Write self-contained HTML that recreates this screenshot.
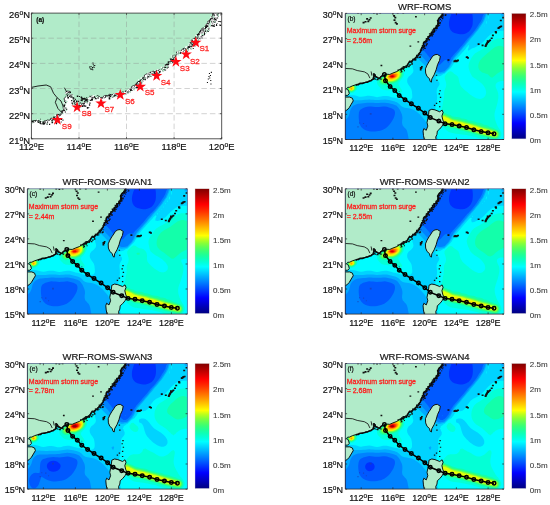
<!DOCTYPE html>
<html lang="en"><head><meta charset="utf-8"><title>Storm surge comparison</title>
<style>html,body{margin:0;padding:0;background:#fff}body{width:550px;height:505px;overflow:hidden}svg{display:block}text{stroke:#111;stroke-width:.2px}text.r{stroke:#ff2020;stroke-width:.28px}text.g{stroke:#3c3c3c;stroke-width:.1px}</style></head>
<body>
<svg width="550" height="505" viewBox="0 0 550 505" font-family='"Liberation Sans", Arial, Helvetica, sans-serif' fill="#111">
<rect width="550" height="505" fill="#fff"/>
<defs>
<linearGradient id="jet" x1="0" y1="1" x2="0" y2="0">
<stop offset="0.0000" stop-color="#000080"/>
<stop offset="0.0312" stop-color="#00009f"/>
<stop offset="0.0625" stop-color="#0000bf"/>
<stop offset="0.0938" stop-color="#0000df"/>
<stop offset="0.1250" stop-color="#0000ff"/>
<stop offset="0.1562" stop-color="#0020ff"/>
<stop offset="0.1875" stop-color="#0040ff"/>
<stop offset="0.2188" stop-color="#0060ff"/>
<stop offset="0.2500" stop-color="#0080ff"/>
<stop offset="0.2812" stop-color="#009fff"/>
<stop offset="0.3125" stop-color="#00bfff"/>
<stop offset="0.3438" stop-color="#00dfff"/>
<stop offset="0.3750" stop-color="#00ffff"/>
<stop offset="0.4062" stop-color="#03ffdc"/>
<stop offset="0.4375" stop-color="#0cffba"/>
<stop offset="0.4688" stop-color="#1dff98"/>
<stop offset="0.5000" stop-color="#37ff77"/>
<stop offset="0.5312" stop-color="#5bff57"/>
<stop offset="0.5625" stop-color="#87ff37"/>
<stop offset="0.5938" stop-color="#beff1a"/>
<stop offset="0.6250" stop-color="#ffff00"/>
<stop offset="0.6562" stop-color="#ffdc00"/>
<stop offset="0.6875" stop-color="#ffba00"/>
<stop offset="0.7188" stop-color="#ff9800"/>
<stop offset="0.7500" stop-color="#ff7700"/>
<stop offset="0.7812" stop-color="#ff5700"/>
<stop offset="0.8125" stop-color="#ff3700"/>
<stop offset="0.8438" stop-color="#ff1a00"/>
<stop offset="0.8750" stop-color="#ff0000"/>
<stop offset="0.9062" stop-color="#df0000"/>
<stop offset="0.9375" stop-color="#bf0000"/>
<stop offset="0.9688" stop-color="#9f0000"/>
<stop offset="1.0000" stop-color="#800000"/>
</linearGradient>
<clipPath id="cl"><rect x="0" y="0" width="160" height="126"/></clipPath>
<g id="land"><path d="M-8 82.3l8 -0.4l2.4 0l1.6 -1.7l-0.6 -2.5l-1 -1.7l-1.2 -0.8l1.2 -1.3l2 -0.1l2.8 -1.4l3.2 -1l4 -1l4 -1l4 -1l3.2 -1.4l2.4 -1.5l0.4 -2.5l0.4 -2.5l1.2 0.4l0.8 2.1l1.2 1l2.4 0.7l1.2 -1.7l2 -0.8l2 -1l2.4 -0.4l2.8 0.2l3.2 -1.4l4 -1.5l2.8 -2.1l4.2 -2.2l3.4 -2.4l2.8 -3.1l3.6 -2.1l2.4 -2.4l2 -2.5l2.4 -2.5l1.6 -3.5l1.2 -3.4l1.6 -3.3l2.4 -2.7l2.2 -3.4l2.3 -3.5l3 -3.5l2.7 -3.5l1 -4.4l1.6 -3.4l2 -2.9l1.2 -2.1l0 -7.6l-106.4 0zM-8 83.6l8 0l4.4 0l2.8 1.2l0.8 2.6l-2 3.3l-2 3.4l-2.4 2.5l-1.6 0.8l-8 1.7zM92.8 41l3 1.8l-0.8 4.2l-2 4.2l-1.4 5.1l-2 5l-2.4 4.2l-0.4 3.2l-1.2 -0.7l-0.8 -2.9l-2.4 -2.1l-1.4 -3.4l-0.2 -4.2l1.6 -3.7l2 -3.4l2 -2.9l1.6 -2.6l2.4 -1.5zM84.4 97l2.8 -1.2l3.2 0.6l4.8 1.9l2.4 -1.7l1 2.5l-1.2 3.4l1 4.2l1.2 2.1l-2 3.8l-2.4 2.9l-2.4 2.1l-0.4 3.4l-1.2 2.5l0.8 6.7l-12 0l-0.4 -4.2l-0.8 -4.2l-0.4 -4.2l0.8 -2.5l2.4 1.7l1.6 -4.2l-0.8 -3.4l0.8 -4.2l0.8 -4.2z" fill="#b1ebc9" stroke="#080808" stroke-width="0.95" stroke-linejoin="round"/>
<path d="M54.7 55.9l1.8 0.8l0.3 -2l1.9 1l0.6 -1.5l1.3 -0.6l1.3 -0.4l0.9 -1.4l0.5 -1.4l0.8 -1.3l0.8 -1.3l2 0.8l0.9 -1.4l0.8 -1.3l1.9 0.6l-0.1 -1.9l1 -0.6l0.5 -1l1.2 -0.3l0.6 -0.9l0.8 -0.8l0.2 -1.4l0.9 -0.8l0.4 -1.2l0.7 -1.1l0.1 -1.4l0.5 -1.1l2.2 -0.4l0.3 -0.9l-1.1 -2l0.2 -1.3l0.9 -1l1.7 0l0.9 -0.8l-0.5 -2.1l1.8 -0.3l-0.4 -2l1.8 -0.4l1 -1l1.4 -0.7l-0.7 -2.2l1.7 0.1l0.9 -0.8l0.9 -0.7l-0.9 -2.4l1.5 -0.2l1.7 0l-0.5 -1.8l1.7 -0.8l-0.3 -1.3l0.7 -1l-0.4 -1.2l-0.8 -1.5l0.7 -1.1l0.6 -1.1l0.8 -1l2.1 0.1l0 -1.5l1.1 -0.8l0 -1.3l0.1 -1.4M10.5 72l1.2 -0.9l1.5 0.1l1.1 -1.1l1.4 -0.2l1.4 0.1l1.4 -0.4l1.3 -0.4l1.3 -0.5l1.4 0l1.5 -0.9l1.8 -0.4l1.1 -0.9l1.4 -0.9l0.2 -1.3l0.6 -1.2l0 -1.3l-0.3 -1.2l0.7 0.5l1 2.3l1.6 0.4l1 1l1.7 0.2l1 -1.6l1.8 -1.2" fill="none" stroke="#0a0a0a" stroke-width="1.5" stroke-linejoin="round"/>
<path d="M0 55l7.2 0.4l4.8 1.7l7.2 1.3l3.6 2.1l2 4.2M26 58l0.8 4.2" fill="none" stroke="#111" stroke-width="0.85"/>
<path d="M21 4.7h2v1.6h-2zM23.4 5.5h2v1.6h-2zM22.2 7.2h2v1.6h-2zM19.4 7.6h2v1.6h-2zM17.4 8.4h2v1.6h-2zM24.6 3.8h2v1.6h-2zM49.4 3.4h2v1.6h-2zM48.6 5.9h2v1.6h-2zM49.8 8.4h2v1.6h-2zM51 9.7h2v1.6h-2zM48.2 1.7h2v1.6h-2zM75.1 53.6h2.5v2h-2.5zM70.3 2.6h1.8v1.4h-1.8zM35.5 51.4h1.8v1.4h-1.8zM75.1 55.6h1.8v1.4h-1.8zM76.3 52.6h1.8v1.4h-1.8zM27.9 -0.7h1.8v1.4h-1.8zM31.1 -0.3h1.8v1.4h-1.8zM34.3 -0.7h1.8v1.4h-1.8zM47.1 -0.7h1.8v1.4h-1.8zM51.9 -0.7h1.8v1.4h-1.8zM11.9 -0.7h1.8v1.4h-1.8zM57.5 -0.7h1.8v1.4h-1.8zM72.7 27.8h1.8v1.4h-1.8zM64.7 32h1.8v1.4h-1.8zM103 45.8h2v1.6h-2zM109.4 46.7h2v1.6h-2zM112.6 46.1h2v1.6h-2zM111 47.1h2v1.6h-2zM121.4 43h2v1.6h-2zM122.6 43.6h2v1.6h-2zM133.4 29.9h2v1.6h-2zM140.6 31.5h2v1.6h-2zM141.4 29.9h2v1.6h-2zM142.2 28.6h2v1.6h-2zM143.4 27.3h2v1.6h-2zM145 26.1h2v1.6h-2zM142.6 26.9h2v1.6h-2zM146.6 24h2v1.6h-2zM147.8 21.2h2v1.6h-2zM150.6 17.8h2v1.6h-2zM151 18.5h2v1.6h-2zM153.4 13.9h2v1.6h-2zM154.6 13.1h2v1.6h-2zM156.2 12.2h2v1.6h-2zM158.2 3.4h2v1.6h-2zM155.8 6.3h2v1.6h-2zM137.4 31.1h2v1.6h-2zM141 30.7h2v1.6h-2zM141.8 29.3h2v1.6h-2zM143 27.9h2v1.6h-2zM144.2 26.8h2v1.6h-2zM140.4 32h2v1.6h-2zM154 13.5h2v1.6h-2zM155.2 12.6h2v1.6h-2zM110.2 46.4h2v1.6h-2zM111.8 46.6h2v1.6h-2zM109 47.1h2v1.6h-2zM121.8 42.9h2v1.6h-2zM150.8 17.5h2v1.6h-2zM94.9 76.7h1.4v1.2h-1.4zM94.1 79.9h1.4v1.2h-1.4zM94.5 87.5h1.4v1.2h-1.4zM91.3 89.3h1.4v1.2h-1.4zM89.3 91.4h1.4v1.2h-1.4zM94.5 92.7h1.4v1.2h-1.4zM91.7 66.2h1.4v1.2h-1.4zM91.3 61.2h1.4v1.2h-1.4zM95.3 83.4h1.4v1.2h-1.4zM29.4 65.1h1.5v1.2h-1.5zM29 62.9h0.9v0.7h-0.9zM28.2 64.4h1.6v1.3h-1.6zM27.7 60h1.7v1.4h-1.7zM29.2 62.8h1v0.8h-1zM27.9 62.3h1.3v1h-1.3zM29.3 61.4h1.6v1.3h-1.6zM30.6 63.2h1.2v0.9h-1.2zM31.8 65.5h1.7v1.4h-1.7zM31.3 65.7h1.2v1h-1.2zM32.9 65.1h0.8v0.6h-0.8zM35.2 65.1h1.5v1.2h-1.5zM55.6 58.6h0.9v0.7h-0.9zM52.6 56h1.6v1.3h-1.6zM57.5 53h1.3v1.1h-1.3zM59.1 56.8h1.1v0.9h-1.1zM55.9 57.5h1.7v1.4h-1.7zM55.2 55.6h1.5v1.2h-1.5zM57.5 53.2h1.5v1.2h-1.5zM58.2 54.8h1v0.8h-1zM58.4 53.1h1.6v1.3h-1.6zM58.3 52.6h1.2v0.9h-1.2zM58.6 53h0.8v0.7h-0.8zM61.2 53.6h1.2v1h-1.2zM58.9 53.1h1.4v1.1h-1.4zM66.9 50.5h1v0.8h-1zM63.3 52.4h1.7v1.4h-1.7zM64.4 50.9h1.7v1.3h-1.7zM65.6 51.1h0.8v0.7h-0.8zM62.7 50.2h0.9v0.7h-0.9zM67.4 45.2h1.5v1.2h-1.5zM65 48h1.2v1h-1.2zM65.7 48.3h1.3v1.1h-1.3zM66.8 49.1h1v0.8h-1zM65.4 47.7h1.2v0.9h-1.2zM66.5 49.9h1.6v1.3h-1.6zM68.8 45.8h1v0.8h-1zM69.2 44.6h1.3v1h-1.3zM70.6 43.8h1.5v1.2h-1.5zM71.2 46h0.9v0.7h-0.9zM74.3 43.5h1.4v1.1h-1.4zM72.3 43.6h1.5v1.2h-1.5zM71.3 41.2h1.8v1.4h-1.8zM72.8 41.3h1.4v1.1h-1.4zM74.8 43h1.6v1.3h-1.6zM75.7 40.9h1v0.8h-1zM73.2 39.9h1.4v1.1h-1.4zM74.8 42.7h1.3v1h-1.3zM75.1 36.4h1.5v1.2h-1.5zM77.7 36.2h1v0.8h-1zM75.7 35.2h1.6v1.3h-1.6zM75.9 36.3h1.3v1.1h-1.3zM75.7 35.9h1.6v1.3h-1.6zM79.5 34.2h1.6v1.3h-1.6zM78.2 35.1h1.1v0.9h-1.1zM78.5 32.6h1.3v1h-1.3zM77.1 31.5h1.4v1.1h-1.4zM76.3 33.3h1.6v1.2h-1.6zM81.1 30.8h1.4v1.1h-1.4zM81.4 32h0.9v0.7h-0.9zM79.6 32.2h1.2v0.9h-1.2zM80.8 31.5h1.1v0.9h-1.1zM80.6 29.2h1.1v0.9h-1.1zM79.2 27.6h1.8v1.4h-1.8zM80.2 26.8h1.1v0.9h-1.1zM81.1 25.3h1.6v1.3h-1.6zM82 29.9h1.3v1.1h-1.3zM81.7 30.1h1.2v0.9h-1.2zM84.4 23.6h0.9v0.7h-0.9zM81.9 24.9h1v0.8h-1zM81.2 24.6h1.7v1.4h-1.7zM82.9 25.7h0.9v0.7h-0.9zM83.7 25.7h1.7v1.4h-1.7zM84.3 19.8h1.8v1.4h-1.8zM84.4 22.1h1.3v1.1h-1.3zM87.9 20.2h1.4v1.1h-1.4zM86.7 21.9h1.7v1.3h-1.7zM87.7 20.2h0.9v0.7h-0.9zM87.7 18h1.3v1h-1.3zM88.6 15.5h1.5v1.2h-1.5zM89.1 18.8h1v0.8h-1zM87.5 16.6h1v0.8h-1zM89 15.2h1.7v1.4h-1.7zM87.2 16.1h1.6v1.3h-1.6zM91.5 16.6h0.8v0.6h-0.8zM90.9 12.5h1.1v0.9h-1.1zM92.4 12.1h1.5v1.2h-1.5zM90.8 12h1.6v1.3h-1.6zM91.5 11.5h1.3v1.1h-1.3zM91.8 15.5h0.8v0.7h-0.8zM94.6 9.6h1.5v1.2h-1.5zM94.6 11.7h1v0.8h-1zM93.8 8.2h1v0.8h-1zM94.9 8.7h1.5v1.2h-1.5zM93 7.3h1v0.8h-1zM93.2 11.1h1.2v1h-1.2zM94.3 6.3h1.1v0.9h-1.1zM93.7 7.5h1.1v0.9h-1.1zM96.5 7.1h1v0.8h-1zM95.4 5.7h1.1v0.9h-1.1zM96.6 7h1.1v0.9h-1.1zM98.1 3.2h1.2v0.9h-1.2zM97.7 1.6h1.3v1h-1.3zM96.3 1.8h1.5v1.2h-1.5zM97.5 4.7h1.3v1.1h-1.3zM95.3 3.2h1.7v1.4h-1.7zM98.3 -0.5h1.2v0.9h-1.2zM100 1.9h0.9v0.7h-0.9zM100 0.4h1v0.8h-1zM97.5 -0.3h1v0.8h-1zM100 -1.9h1v0.8h-1zM101.1 0.9h1v0.8h-1zM96.6 0.1h1v0.8h-1zM98.6 -0.6h1v0.8h-1zM96.1 -0.6h1v0.8h-1zM100.7 -1.7h1v0.8h-1zM100.8 -1.8h1v0.8h-1zM100.9 1.9h1v0.8h-1zM100.6 1h1v0.8h-1z" fill="#111"/>
<path d="M12.2 112.8h1.2v1.2h-1.2zM17.8 109.4h1.2v1.2h-1.2zM13.9 109h1v1h-1zM20.7 112.1h1v1h-1zM24.7 99.5h1.8v1.8h-1.8zM53.9 77.6h1v1h-1z" fill="#1a3fb0" opacity="0.7"/>
</g>
<g id="track"><path d="M39.4 61.1l1.1 6.1l4.7 5.9l4.7 3.9l4.5 5l5.8 4.2l6.4 4.1l7.1 4.5l6.5 4.7l5.5 4.6l8.6 3.5l6.4 2.6l6.9 0.8l7.2 1.5l7.4 1.5l7.4 2.3l7.4 1.6l6.9 1.4l6.1 0.9" fill="none" stroke="#000" stroke-width="1.5"/><circle cx="39.4" cy="61.1" r="1.75" fill="none" stroke="#000" stroke-width="1.5"/><circle cx="40.5" cy="67.2" r="1.75" fill="none" stroke="#000" stroke-width="1.5"/><circle cx="45.2" cy="73.1" r="1.75" fill="none" stroke="#000" stroke-width="1.5"/><circle cx="49.9" cy="77.0" r="1.75" fill="none" stroke="#000" stroke-width="1.5"/><circle cx="54.4" cy="82.0" r="1.75" fill="none" stroke="#000" stroke-width="1.5"/><circle cx="60.2" cy="86.2" r="1.75" fill="none" stroke="#000" stroke-width="1.5"/><circle cx="66.6" cy="90.3" r="1.75" fill="none" stroke="#000" stroke-width="1.5"/><circle cx="73.7" cy="94.8" r="1.75" fill="none" stroke="#000" stroke-width="1.5"/><circle cx="80.2" cy="99.5" r="1.75" fill="none" stroke="#000" stroke-width="1.5"/><circle cx="85.7" cy="104.1" r="1.75" fill="none" stroke="#000" stroke-width="1.5"/><circle cx="94.3" cy="107.6" r="1.75" fill="none" stroke="#000" stroke-width="1.5"/><circle cx="100.7" cy="110.2" r="1.75" fill="none" stroke="#000" stroke-width="1.5"/><circle cx="107.6" cy="111.0" r="1.75" fill="none" stroke="#000" stroke-width="1.5"/><circle cx="114.8" cy="112.5" r="1.75" fill="none" stroke="#000" stroke-width="1.5"/><circle cx="122.2" cy="114.0" r="1.75" fill="none" stroke="#000" stroke-width="1.5"/><circle cx="129.6" cy="116.3" r="1.75" fill="none" stroke="#000" stroke-width="1.5"/><circle cx="137.0" cy="117.9" r="1.75" fill="none" stroke="#000" stroke-width="1.5"/><circle cx="143.9" cy="119.3" r="1.75" fill="none" stroke="#000" stroke-width="1.5"/><circle cx="150.0" cy="120.2" r="1.75" fill="none" stroke="#000" stroke-width="1.5"/></g>
<g id="fld_b"><rect x="0" y="0" width="160" height="126" fill="#0000fa"/>
<path fill="#0007ff" d="M0 126l2 0l2 0l2 0l2 0l2 0l2 0l2 0l2 0l2 0l2 0l2 0l2 0l2 0l2 0l2 0l2 0l2 0l2 0l2 0l2 0l2 0l2 0l2 0l2 0l2 0l2 0l2 0l2 0l2 0l2 0l2 0l2 0l2 0l2 0l2 0l2 0l2 0l2 0l2 0l2 0l2 0l2 0l2 0l2 0l2 0l2 0l2 0l2 0l2 0l2 0l2 0l2 0l2 0l2 0l2 0l2 0l2 0l2 0l2 0l2 0l2 0l2 0l2 0l2 0l2 0l2 0l2 0l2 0l2 0l2 0l2 0l2 0l2 0l2 0l2 0l2 0l2 0l2 0l2 0l2 0l0 -2.1l0 -2.1l0 -2.1l0 -2.1l0 -2.1l0 -2.1l0 -2.1l0 -2.1l0 -2.1l0 -2.1l0 -2.1l0 -2.1l0 -2.1l0 -2.1l0 -2.1l0 -2.1l0 -2.1l0 -2.1l0 -2.1l0 -2.1l0 -2.1l0 -2.1l0 -2.1l0 -2.1l0 -2.1l0 -2.1l0 -2.1l0 -2.1l0 -2.1l0 -2.1l0 -2.1l0 -2.1l0 -2.1l0 -2.1l0 -2.1l0 -2.1l0 -2.1l0 -2.1l0 -2.1l0 -2.1l0 -2.1l0 -2.1l0 -2.1l0 -2.1l0 -2.1l0 -2.1l0 -2.1l0 -2.1l0 -2.1l0 -2.1l0 -2.1l0 -2.1l0 -2.1l0 -2.1l0 -2.1l0 -2.1l0 -2.1l0 -2.1l0 -2.1l0 -2.1l-2 0l-2 0l-2 0l-2 0l-2 0l-2 0l-2 0l-2 0l-2 0l-2 0l-2 0l-2 0l-2 0l-2 0l-2 0l-2 0l-2 0l-2 0l-2 0l-2 0l-2 0l-2 0l-2 0l-2 0l-2 0l-2 0l-2 0l-2 0l-2 0l-2 0l-2 0l-2 0l-2 0l-2 0l-2 0l-2 0l-2 0l-2 0l-2 0l-2 0l-2 0l-2 0l-2 0l-2 0l-2 0l-2 0l-2 0l-2 0l-2 0l-2 0l-2 0l-2 0l-2 0l-2 0l-2 0l-2 0l-2 0l-2 0l-2 0l-2 0l-2 0l-2 0l-2 0l-2 0l-2 0l-2 0l-2 0l-2 0l-2 0l-2 0l-2 0l-2 0l-2 0l-2 0l-2 0l-2 0l-2 0l-2 0l-2 0l-2 0l0 2.1l0 2.1l0 2.1l0 2.1l0 2.1l0 2.1l0 2.1l0 2.1l0 2.1l0 2.1l0 2.1l0 2.1l0 2.1l0 2.1l0 2.1l0 2.1l0 2.1l0 2.1l0 2.1l0 2.1l0 2.1l0 2.1l0 2.1l0 2.1l0 2.1l0 2.1l0 2.1l0 2.1l0 2.1l0 2.1l0 2.1l0 2.1l0 2.1l0 2.1l0 2.1l0 2.1l0 2.1l0 2.1l0 2.1l0 2.1l0 2.1l0 2.1l0 2.1l0 2.1l0 2.1l0 2.1l0 2.1l0 2.1l0 2.1l0 2.1l0 2.1l0 2.1l0 2.1l0 2.1l0 2.1l0 2.1l0 2.1l0 2.1l0 2.1z"/>
<path fill="#0030ff" d="M0 126l2 0l2 0l2 0l2 0l2 0l2 0l2 0l2 0l2 0l2 0l2 0l2 0l2 0l2 0l2 0l2 0l2 0l2 0l2 0l2 0l2 0l2 0l2 0l2 0l2 0l2 0l2 0l2 0l2 0l2 0l2 0l2 0l2 0l2 0l2 0l2 0l2 0l2 0l2 0l2 0l2 0l2 0l2 0l2 0l2 0l2 0l2 0l2 0l2 0l2 0l2 0l2 0l2 0l2 0l2 0l2 0l2 0l2 0l2 0l2 0l2 0l2 0l2 0l2 0l2 0l2 0l2 0l2 0l2 0l2 0l2 0l2 0l2 0l2 0l2 0l2 0l2 0l2 0l2 0l2 0l0 -2.1l0 -2.1l0 -2.1l0 -2.1l0 -2.1l0 -2.1l0 -2.1l0 -2.1l0 -2.1l0 -2.1l0 -2.1l0 -2.1l0 -2.1l0 -2.1l0 -2.1l0 -2.1l0 -2.1l0 -2.1l0 -2.1l0 -2.1l0 -2.1l0 -2.1l0 -2.1l0 -2.1l0 -2.1l0 -2.1l0 -2.1l0 -2.1l0 -2.1l0 -2.1l0 -2.1l0 -2.1l0 -2.1l0 -2.1l0 -2.1l0 -2.1l0 -2.1l0 -2.1l0 -2.1l0 -2.1l0 -2.1l0 -2.1l0 -2.1l0 -2.1l0 -2.1l0 -2.1l0 -2.1l0 -2.1l0 -2.1l0 -2.1l0 -2.1l0 -2.1l0 -2.1l0 -2.1l0 -2.1l0 -2.1l0 -2.1l0 -2.1l0 -2.1l0 -2.1l-2 0l-2 0l-2 0l-2 0l-2 0l-2 0l-2 0l-2 0l-2 0l-2 0l-2 0l-2 0l-2 0l-2 0l-2 0l-2 0l-2 0l-2 0l-2 0l-2 0l-2 0l-2 0l-2 0l-2 0l-2 0l-2 0l-2 0l-2 0l-2 0l-2 0l-2 0l-2 0l-2 0l-2 0l-2 0l-2 0l-2 0l-2 0l-2 0l-2 0l-2 0l-2 0l-2 0l-2 0l-2 0l-2 0l-2 0l-2 0l-2 0l-2 0l-2 0l-2 0l-2 0l-2 0l-2 0l-2 0l-2 0l-2 0l-2 0l-2 0l-2 0l-2 0l-2 0l-2 0l-2 0l-2 0l-2 0l-2 0l-2 0l-2 0l-2 0l-2 0l-2 0l-2 0l-2 0l-2 0l-2 0l-2 0l-2 0l-2 0l0 2.1l0 2.1l0 2.1l0 2.1l0 2.1l0 2.1l0 2.1l0 2.1l0 2.1l0 2.1l0 2.1l0 2.1l0 2.1l0 2.1l0 2.1l0 2.1l0 2.1l0 2.1l0 2.1l0 2.1l0 2.1l0 2.1l0 2.1l0 2.1l0 2.1l0 2.1l0 2.1l0 2.1l0 2.1l0 2.1l0 2.1l0 2.1l0 2.1l0 2.1l0 2.1l0 2.1l0 2.1l0 2.1l0 2.1l0 2.1l0 2.1l0 2.1l0 2.1l0 2.1l0 2.1l0 2.1l0 2.1l0 2.1l0 2.1l0 2.1l0 2.1l0 2.1l0 2.1l0 2.1l0 2.1l0 2.1l0 2.1l0 2.1l0 2.1z"/>
<path fill="#0059ff" d="M0 126l2 0l2 0l2 0l2 0l2 0l2 0l2 0l2 0l2 0l2 0l2 0l2 0l2 0l2 0l2 0l2 0l2 0l2 0l2 0l2 0l2 0l2 0l2 0l2 0l2 0l2 0l2 0l2 0l2 0l2 0l2 0l2 0l2 0l2 0l2 0l2 0l2 0l2 0l2 0l2 0l2 0l2 0l2 0l2 0l2 0l2 0l2 0l2 0l2 0l2 0l2 0l2 0l2 0l2 0l2 0l2 0l2 0l2 0l2 0l2 0l2 0l2 0l2 0l2 0l2 0l2 0l2 0l2 0l2 0l2 0l2 0l2 0l2 0l2 0l2 0l2 0l2 0l2 0l2 0l2 0l0 -2.1l0 -2.1l0 -2.1l0 -2.1l0 -2.1l0 -2.1l0 -2.1l0 -2.1l0 -2.1l0 -2.1l0 -2.1l0 -2.1l0 -2.1l0 -2.1l0 -2.1l0 -2.1l0 -2.1l0 -2.1l0 -2.1l0 -2.1l0 -2.1l0 -2.1l0 -2.1l0 -2.1l0 -2.1l0 -2.1l0 -2.1l0 -2.1l0 -2.1l0 -2.1l0 -2.1l0 -2.1l0 -2.1l0 -2.1l0 -2.1l0 -2.1l0 -2.1l0 -2.1l0 -2.1l0 -2.1l0 -2.1l0 -2.1l0 -2.1l0 -2.1l0 -2.1l0 -2.1l0 -2.1l0 -2.1l0 -2.1l0 -2.1l0 -2.1l0 -2.1l0 -2.1l0 -2.1l0 -2.1l0 -2.1l0 -2.1l0 -2.1l0 -2.1l0 -2.1l-2 0l-2 0l-2 0l-2 0l-2 0l-2 0l-2 0l-2 0l-2 0l-2 0l-2 0l-2 0l-2 0l-2 0l-2 0l-2 0l0.3 2.1l0.2 2.1l0.1 2.1l-0.1 2.1l-0.1 2.1l-0.4 2l0 0.1l-1 2.1l-1 1.7l-0.3 0.4l-1.7 1.7l-0.5 0.4l-1.5 0.9l-2 0.7l-2 0.3l-2 0l-2 -0.2l-2 -0.4l-2 -0.6l-1.5 -0.7l-0.5 -0.3l-1.7 -1.8l-0.3 -0.5l-0.8 -1.6l-0.5 -2.1l-0.2 -2.1l0.1 -2.1l0.4 -2.1l0.6 -2.1l0.4 -1.2l0.3 -0.9l0.9 -2.1l-1.2 0l-2 0l-2 0l-2 0l-2 0l-2 0l-2 0l-2 0l-2 0l-2 0l-2 0l-2 0l-2 0l-2 0l-2 0l-2 0l-2 0l-2 0l-2 0l-2 0l-2 0l-2 0l-2 0l-2 0l-2 0l-2 0l-2 0l-2 0l-2 0l-2 0l-2 0l-2 0l-2 0l-2 0l-2 0l-2 0l-2 0l-2 0l-2 0l-2 0l-2 0l-2 0l-2 0l-2 0l-2 0l-2 0l-2 0l-2 0l-2 0l-2 0l-2 0l-2 0l-2 0l-2 0l0 2.1l0 2.1l0 2.1l0 2.1l0 2.1l0 2.1l0 2.1l0 2.1l0 2.1l0 2.1l0 2.1l0 2.1l0 2.1l0 2.1l0 2.1l0 2.1l0 2.1l0 2.1l0 2.1l0 2.1l0 2.1l0 2.1l0 2.1l0 2.1l0 2.1l0 2.1l0 2.1l0 2.1l0 2.1l0 2.1l0 2.1l0 2.1l0 2.1l0 2.1l0 2.1l0 2.1l0 2.1l0 2.1l0 2.1l0 2.1l0 2.1l0 2.1l0 2.1l0 2.1l0 2.1l0 2.1l0 2.1l0 2.1l0 2.1l0 2.1l0 2.1l0 2.1l0 2.1l0 2.1l0 2.1l0 2.1l0 2.1l0 2.1l0 2.1z"/>
<path fill="#0082ff" d="M0 126l2 0l2 0l2 0l2 0l2 0l2 0l2 0l2 0l2 0l2 0l2 0l2 0l2 0l2 0l2 0l2 0l2 0l2 0l2 0l2 0l2 0l2 0l2 0l2 0l2 0l2 0l2 0l2 0l2 0l2 0l2 0l2 0l2 0l2 0l2 0l2 0l2 0l2 0l2 0l2 0l2 0l2 0l2 0l2 0l2 0l2 0l2 0l2 0l2 0l2 0l2 0l2 0l2 0l2 0l2 0l2 0l2 0l2 0l2 0l2 0l2 0l2 0l2 0l2 0l2 0l2 0l2 0l2 0l2 0l2 0l2 0l2 0l2 0l2 0l2 0l2 0l2 0l2 0l2 0l2 0l0 -2.1l0 -2.1l0 -2.1l0 -2.1l0 -2.1l0 -2.1l0 -2.1l0 -2.1l0 -2.1l0 -2.1l0 -2.1l0 -2.1l0 -2.1l0 -2.1l0 -2.1l0 -2.1l0 -2.1l0 -2.1l0 -2.1l0 -2.1l0 -2.1l0 -2.1l0 -2.1l0 -2.1l0 -2.1l0 -2.1l0 -2.1l0 -2.1l0 -2.1l0 -2.1l0 -2.1l0 -2.1l0 -2.1l0 -2.1l0 -2.1l0 -2.1l0 -2.1l0 -2.1l0 -2.1l0 -2.1l0 -2.1l0 -2.1l0 -2.1l0 -2.1l0 -2.1l0 -2.1l0 -2.1l0 -2.1l0 -2.1l0 -2.1l0 -2.1l0 -2.1l0 -2.1l0 -2.1l0 -2.1l0 -2.1l0 -2.1l0 -2.1l0 -2.1l0 -2.1l-2 0l-2 0l-2 0l-2 0l-2 0l-2 0l-2 0l-2 0l-2 0l-1.9 0l-0.1 0.3l-1.2 1.8l-0.6 2.1l-0.2 1.1l-0.6 1l-1.1 2.1l-0.3 0.5l-1.3 1.6l-0.7 1.4l-0.4 0.7l-1.4 2.1l-0.2 0.2l-1.3 1.9l-0.7 0.8l-1 1.3l-1 1.2l-0.8 0.9l-1.2 1.4l-0.7 0.7l-1.3 1.5l-0.7 0.6l-1.3 1.7l-0.5 0.4l-1.5 2.1l-1.9 2.1l-0.1 0.2l-1.7 1.9l-0.3 0.3l-1.6 1.8l-0.4 0.5l-1.5 1.6l-0.5 0.7l-1.4 1.4l-0.6 0.7l-1.4 1.4l-0.6 1l-1.1 1.1l-0.8 2.1l-0.1 0.3l-1.7 1.8l-0.3 1.4l-1.1 -1.4l-0.9 -2.1l-2 0.7l-1.5 1.4l-0.5 0.4l-1.6 1.7l-0.4 0.4l-2 1.2l-2 0.2l-1.9 -1.8l-0.1 -0.1l-1.8 -2l-0.2 -0.2l-1.4 -1.9l-0.6 -0.8l-1 -1.3l-1 -1.2l-0.7 -0.9l-1.3 -1.6l-0.4 -0.5l-1.6 -1.8l-0.3 -0.3l-1.7 -1.7l-0.5 -0.4l-1.5 -1.1l-1.5 -1l-0.5 -0.3l-2 -1.2l-1.2 -0.6l-0.8 -0.4l-2 -1.2l-0.8 -0.5l-1.2 -0.9l-1.6 -1.2l-0.4 -0.4l-2 -1.6l-0.1 -0.1l-1.9 -1.6l-0.6 -0.5l-1.4 -1.3l-0.9 -0.8l-1.1 -1.1l-1.1 -1l-0.9 -0.9l-1.3 -1.2l-0.7 -0.7l-1.9 -1.4l-0.1 -0.1l-2 -0.7l-2 0.2l-1.3 0.6l-0.7 0.3l-2 -0.2l-0.2 -0.1l-1.8 -1.8l-2 0l-0.6 -0.3l-1.4 -1.7l-0.8 -0.4l-1.2 -1.6l-0.8 -0.5l-1.2 -2l-0.1 -0.1l0.1 -2.1l0 -0.5l0.1 -1.6l-0.1 -1.3l-0.1 -0.8l-1.9 0l-2 0l-2 0l-2 0l-2 0l-2 0l-2 0l-1.9 0l1.9 1.2l1.2 0.9l0.8 0.8l1 1.3l0.8 2.1l-0.2 2.1l-1.3 2.1l-0.3 0.2l-2 1.1l-2 0.8l-2 -0.2l-2 -0.3l-2 -0.1l-2 0l-2 0.2l-2 0.3l-0.6 0.1l-1.4 0.1l-1.6 -0.1l-0.4 0l0 2.1l0 2.1l0 2.1l0 2.1l0 2.1l0 2.1l0 2.1l0 2.1l0 2.1l0 2.1l0 2.1l0 2.1l0 2.1l0 2.1l0 2.1l0 2.1l0 2.1l0 2.1l0 2.1l0 2.1l0 2.1l0 2.1l0 2.1l0 2.1l0 2.1l0 2.1l0 2.1l0 2.1l0 2.1l0 2.1l0 2.1l0 2.1l0 2.1l0 2.1l0 2.1l0 2.1l0 2.1l0 2.1l0 2.1l0 2.1l0 2.1l0 2.1l0 2.1l0 2.1l0 2.1l0 2.1l0 2.1l0 2.1l0 2.1l0 2.1l0 2.1l0 2.1l0 2.1zM24 117.8l-0.7 -0.2l-1.3 -0.3l-2 -0.8l-1.7 -1l-0.3 -0.2l-2 -1.9l-1.2 -2.1l-0.7 -2.1l-0.1 -0.8l-0.2 -1.3l-0.2 -2.1l-0.1 -2.1l0.1 -2.1l0.2 -2.1l0.2 -0.5l0.8 -1.6l1.2 -0.9l2 -1.2l0.1 0l1.9 -0.6l2 -0.5l2 -0.4l2 0.1l2 0.2l2 0.2l2 0.1l2 -0.1l2 -0.1l2 -0.3l2 -0.1l2 0.4l2 0.6l1.8 0.5l0.2 0.1l2 1l1.4 1l0.6 1.7l0.1 0.4l-0.1 2.1l-0.6 2.1l-0.8 2.1l-0.6 1.1l-0.6 1l-1.4 2.1l0 0.1l-1.6 2l-0.4 0.5l-1.7 1.6l-0.3 0.3l-2 1.5l-0.7 0.3l-1.3 0.7l-2 0.7l-2 0.5l-1 0.2l-1 0.2l-2 0.2l-2 0.1l-2 0z"/>
<path fill="#00aaff" d="M64 126l2 0l2 0l2 0l2 0l2 0l2 0l2 0l2 0l2 0l2 0l2 0l2 0l2 0l2 0l2 0l2 0l2 0l2 0l2 0l2 0l2 0l2 0l2 0l2 0l2 0l2 0l2 0l2 0l2 0l2 0l2 0l2 0l2 0l2 0l2 0l2 0l2 0l2 0l2 0l2 0l2 0l2 0l2 0l2 0l2 0l2 0l2 0l2 0l0 -2.1l0 -2.1l0 -2.1l0 -2.1l0 -2.1l0 -2.1l0 -2.1l0 -2.1l0 -2.1l0 -2.1l0 -2.1l0 -2.1l0 -2.1l0 -2.1l0 -2.1l0 -2.1l0 -2.1l0 -2.1l0 -2.1l0 -2.1l0 -2.1l0 -2.1l0 -2.1l0 -2.1l0 -2.1l0 -2.1l0 -2.1l0 -2.1l0 -2.1l0 -2.1l0 -2.1l0 -2.1l0 -2.1l0 -2.1l0 -2.1l0 -2.1l0 -2.1l0 -2.1l0 -2.1l0 -2.1l0 -2.1l0 -2.1l0 -2.1l0 -2.1l0 -2.1l0 -2.1l0 -2.1l0 -2.1l0 -2.1l0 -2.1l0 -2.1l0 -2.1l0 -2.1l0 -2.1l0 -2.1l0 -2.1l0 -2.1l0 -2.1l0 -2.1l0 -2.1l-2 0l-2 0l-2 0l-2 0l-2 0l-2 0l-2 0l-2 0l-2 0l-0.2 0l-0.9 2.1l-0.7 2.1l-0.2 0.5l-0.8 1.6l-0.9 2.1l-0.3 0.5l-1.2 1.6l-0.8 1.2l-0.7 0.9l-1.2 2.1l-0.1 0.1l-1.5 2l-0.5 0.6l-1.3 1.5l-0.7 0.8l-1.1 1.3l-0.9 1.1l-0.9 1l-1.1 1.2l-0.8 0.9l-1.2 1.5l-0.5 0.6l-1.5 2l-0.1 0.1l-1.7 2.1l-0.2 0.2l-1.6 1.9l-0.4 0.5l-1.4 1.6l-0.6 0.7l-1.2 1.4l-0.8 0.9l-1.1 1.2l-0.9 1l-1 1.1l-1 1.2l-0.8 0.9l-1 2.1l-0.2 0.4l-1.1 1.7l-0.9 2.1l-1.2 2.1l-0.8 1.2l-0.8 0.9l-1.2 1.1l-1 1l-1 1.1l-2 0.5l-2 0.4l-2 -0.1l-2 -1l-2 -0.9l-0.1 0l-1.9 -1.5l-0.6 -0.6l-1.4 -1.7l-0.3 -0.4l-1.7 -2l-0.1 -0.1l-1.8 -2.1l-0.1 -0.1l-1.8 -2l-0.2 -0.2l-1.7 -1.9l-0.3 -0.3l-1.6 -1.8l-0.4 -0.4l-1.9 -1.7l-0.1 -0.1l-2 -1.5l-0.6 -0.5l-1.4 -1.1l-1.2 -1l-0.8 -0.6l-2 -1.5l-2 -1.4l-0.9 -0.7l-1.1 -0.9l-1.5 -1.2l-0.5 -0.4l-2 -1.7l-2 -1.7l-0.5 -0.4l-1.5 -1.3l-0.9 -0.8l-1.1 -1l-1.3 -1.1l-0.7 -0.7l-2 -1.2l-2 0.3l-0.4 -0.5l-1.6 -1.1l-1.2 -1l-0.8 -0.7l-2 -0.9l-0.9 1.6l-0.7 2.1l-0.2 2.1l0.3 2.1l0.6 2.1l0.9 1.6l0.4 0.5l1.6 1.7l0.4 0.4l1.6 1.4l0.9 0.7l1.1 1l1.2 1.1l0.8 0.9l1.2 1.2l0.8 1.2l0.6 0.9l0.5 2.1l-1.1 2l-0.1 0.1l-1.9 0.9l-2 0.5l-2 0.3l-2 0l-2 -0.1l-2 -0.2l-2 -0.2l-2 -0.2l-2 -0.4l-2 -0.4l-1 -0.2l-1 -0.3l-2 -0.6l-2 -0.7l-1.5 -0.5l-0.5 -0.2l-2 -0.7l-2 -0.7l-2 -0.5l-2 -0.5l-2 -0.2l-2 -0.1l-2 0l-2 0.2l-2 0.3l-2 0.2l-2 0.1l0 2.1l0 2.1l0 2.1l0 2.1l0 2.1l0 2.1l0 2.1l0 2.1l0 2.1l0 2.1l0 2.1l0 2.1l0 2.1l0 2.1l0 2.1l0 2.1l0 2.1l0 2.1l0 2.1l0 2.1l0 2.1l0 2.1l0 2.1l0 2.1l0 2.1l0 2.1l0 2.1l0 2.1l0 2.1l0 2.1l0 2.1l0 2.1l0 1.4l1.7 -1.4l0.3 -0.3l1.2 -1.8l0.8 -1.9l0.1 -0.2l0.5 -2.1l0.5 -2.1l0.9 -1.9l0.1 -0.2l1.8 -2.1l0.1 0l2 -1.2l2 -0.7l1 -0.2l1 -0.1l2 -0.2l2 -0.2l2 -0.2l2 -0.2l2 -0.2l2 0.1l2 0.1l2 0.1l2 0l2 0l2 -0.1l2 -0.1l2 0l2 0.2l2 0.4l1.9 0.4l0.1 0l2 0.6l2 0.6l1.8 0.9l0.2 0.1l1.7 2l0.3 0.5l1.1 1.6l0.9 1.9l0.1 0.2l0.9 2.1l0.5 2.1l0.1 2.1l-0.3 2.1l-0.1 2.1l0.4 2.1l0.4 0.9l1.1 1.2l0.9 1.1l1.2 1l0.8 1.5l0.2 0.6l0.6 2.1l0.4 2.1l0.4 2.1z"/>
<path fill="#00d3ff" d="M83.7 126l0.3 0l2 0l2 0l2 0l2 0l2 0l2 0l2 0l2 0l2 0l2 0l2 0l2 0l2 0l2 0l2 0l2 0l2 0l2 0l2 0l2 0l2 0l2 0l2 0l2 0l2 0l2 0l2 0l2 0l2 0l2 0l2 0l2 0l2 0l2 0l2 0l2 0l2 0l2 0l0 -2.1l0 -2.1l0 -2.1l0 -2.1l0 -2.1l0 -2.1l0 -2.1l0 -2.1l0 -2.1l0 -2.1l0 -2.1l0 -2.1l0 -2.1l0 -2.1l0 -2.1l0 -2.1l0 -2.1l0 -2.1l0 -2.1l0 -2.1l0 -2.1l0 -2.1l0 -2.1l0 -2.1l0 -2.1l0 -2.1l0 -2.1l0 -2.1l0 -2.1l0 -2.1l0 -2.1l0 -2.1l0 -2.1l0 -2.1l0 -2.1l0 -2.1l0 -2.1l0 -2.1l0 -2.1l0 -2.1l0 -2.1l0 -2.1l0 -2.1l0 -2.1l0 -2.1l0 -2.1l0 -2.1l0 -2.1l0 -2.1l0 -2.1l0 -2.1l0 -2.1l0 -2.1l0 -2.1l0 -2.1l0 -2.1l0 -2.1l0 -2.1l0 -0.7l-2 -0.9l-0.5 -0.5l-1 -2.1l-0.5 0l-2 0l-2 0l-2 0l-2 0l-2 0l-2 0l-1 0l-1 2.1l-0.7 2.1l-0.8 2.1l-0.5 1l-0.5 1.1l-1.4 2.1l-0.1 0.1l-1.2 2l-0.8 1l-0.7 1.1l-1.3 1.8l-0.2 0.3l-1.8 2.1l-1.7 2.1l-0.3 0.3l-1.4 1.8l-0.6 0.6l-1.2 1.5l-0.8 0.8l-1 1.3l-1 1.2l-0.8 0.9l-1.2 1.5l-0.5 0.6l-1.5 1.8l-0.3 0.3l-1.7 2l-0.1 0.1l-1.8 2.1l-0.1 0.2l-1.6 1.9l-0.4 0.4l-1.4 1.7l-0.6 0.6l-1.3 1.5l-0.7 0.9l-0.7 1.2l-1.1 2.1l-0.2 0.4l-0.8 1.7l-1.2 2l0 0.1l-1.3 2.1l-0.7 0.6l-1.5 1.5l-0.5 0.5l-1.6 1.6l-0.4 0.4l-2 0.5l-2 0.5l-2 0.1l-2 -0.6l-2 -0.6l-0.8 -0.3l-1.2 -0.4l-2 -1.4l-0.3 -0.3l-1.7 -1.5l-0.8 -0.6l-1.2 -1.1l-1.2 -1l-0.8 -0.7l-1.4 -1.4l-0.6 -0.6l-1.4 -1.5l-0.6 -0.6l-1.5 -1.5l-0.5 -0.6l-1.2 -1.5l-0.8 -0.7l-1.9 -1.4l-0.1 0l-2 -1.2l-1.5 -0.9l-0.5 -0.4l-2 -1.3l-0.8 -0.4l-1.2 -0.7l-1.2 0.7l0.7 2.1l0.1 2.1l-1 2.1l-0.6 0.5l-2 1.6l-2 1.1l-2 1l-2 0.8l-2 0.7l-2 0.6l-0.3 0l-1.7 0.2l-2 0.2l-2 0l-2 0l-2 -0.1l-2 -0.1l-2 -0.1l-2 -0.1l-0.1 0l-1.9 0l-2 0l-2 0l-2 0l-2 0l-1.8 0l-0.2 0l-2 0l-2 0l-2 0l-2 0.1l-2 0l-2 0l-2 0l-2 0l-2 -0.1l-2 0l0 2.1l0 2.1l0 2.1l0 2.1l0 2.1l0 2.1l0 2.1l0 2.1l0 2.1l0 2.1l0 2.1l0 2.1l0 2.1l0 2.1l0 2.1l0 2.1l0 2.1l0 2.1l0.1 0l1.9 -0.5l2 -0.3l2 -0.3l2 -0.2l2 -0.2l2 0l2 0l2 0l2 -0.1l2 -0.2l2 -0.2l1.9 -0.1l0.1 0l0.1 0l1.9 0.1l2 0.1l2 0.2l2 0.1l2 -0.1l2 -0.1l2 -0.2l2 -0.1l2 0.2l2 0.3l2 0.5l2 0.5l2 0.5l0.3 0.1l1.7 0.7l2 1.3l0.1 0.1l1.9 2.1l2 1.2l2 0.6l2 0.3l2 0.3l2 0.5l2 0.7l1.2 0.6l0.8 0.5l2 1.2l0.5 0.4l1.5 1.2l1 0.9l1 1.1l0.9 1l1.1 1.3l0.7 0.8l1.3 1.6l0.4 0.5l1 2.1l0.6 1.9l0.1 0.2l0.3 2.1l0.1 2.1l0 2.1l0.2 2.1l0.2 2.1l0.4 2.1zM59.8 35.7l0.2 0.3l0.1 -0.3l-0.1 -0.1z"/>
<path fill="#00fcff" d="M93.6 126l0.4 0l2 0l2 0l2 0l2 0l2 0l2 0l2 0l2 0l2 0l2 0l2 0l2 0l2 0l2 0l2 0l2 0l2 0l2 0l2 0l2 0l2 0l2 0l2 0l2 0l2 0l2 0l2 0l2 0l2 0l2 0l2 0l2 0l2 0l0 -2.1l0 -2.1l0 -2.1l0 -2.1l0 -2.1l0 -2.1l0 -2.1l0 -2.1l0 -2.1l0 -2.1l0 -2.1l0 -2.1l0 -2.1l0 -2.1l0 -2.1l0 -2.1l0 -2.1l0 -2.1l0 -2.1l0 -2.1l0 -2.1l0 -2.1l0 -2.1l0 -2.1l0 -2.1l0 -2.1l0 -2.1l0 -2.1l0 -2.1l0 -2.1l0 -2.1l0 -2.1l0 -2.1l0 -2.1l0 -2.1l0 -2.1l0 -2.1l0 -2.1l0 -2.1l0 -2.1l0 -2.1l0 -2.1l0 -2.1l0 -2.1l0 -2.1l0 -2.1l0 -2.1l0 -2.1l0 -2.1l0 -2.1l0 -2.1l0 -1.7l-2 0.1l-2 0l-2 0.2l-2 0.5l-2 0.7l-0.3 0.2l-1.7 0.9l-1.5 1.2l-0.5 0.4l-1.8 1.7l-0.2 0.1l-1.8 2l-0.2 0.2l-1.7 1.9l-0.3 0.3l-1.8 1.8l-0.2 0.2l-2 1.5l-0.6 0.4l-1.4 0.8l-2 1.1l-0.5 0.2l-1.5 0.6l-2 0.7l-1.5 0.8l-0.5 0.3l-2 1.4l-0.5 -1.7l0.5 -0.8l0.6 -1.3l-0.2 -2.1l-0.4 0l-1.2 2.1l-0.8 0.5l-0.9 1.6l-1.1 1.1l-0.7 1l-1.3 1.3l-0.6 0.8l-1.4 1.4l-0.6 0.7l-1.4 1.3l-0.6 0.8l-1.4 1.3l-0.5 0.8l-1.5 1.9l-0.1 0.2l-0.7 2.1l-1.2 1.6l-0.2 0.5l-1.5 2.1l-0.3 0.2l-2 1.7l-0.3 0.2l-1.7 1.7l-0.4 0.4l-1.6 1.5l-1.7 0.6l-0.3 0.3l-2 1.3l-2 0.3l-2 0.1l-0.6 0.1l-0.3 2.1l0.9 1.1l0.9 1l1.1 0.9l0.9 1.2l0 2.1l-0.9 1.3l-0.6 0.8l-1 2.1l-0.3 2.1l0.1 2.1l0.3 2.1l0.1 2.1l-0.2 2.1l-0.3 2.1l-0.1 0.8l-0.2 1.3l-0.5 2.1l-0.5 2.1l-0.6 2.1l-0.2 0.8l-0.4 1.3l-0.4 2.1l0 2.1l0.1 2.1l0.2 2.1l0.3 2.1l0.2 0.9l0.2 1.2l0.5 2.1l0.5 2.1l0.5 2.1l0.3 1.7l0.1 0.4l0.4 2.1l0.5 2.1zM122 40l-0.5 -0.1l0.5 -0.9l0.1 0.9zM55.9 86.1l0.1 0l2 0.7l2 0.2l2 -0.2l2 -0.3l2 -0.3l0.2 -0.1l1.3 -2.1l0 -2.1l-0.2 -2.1l-0.2 -2.1l-0.6 -2.1l-0.5 -0.9l-0.7 -1.2l-1.3 -1.7l-0.3 -0.4l-1.1 -2.1l-0.3 -2.1l0.4 -2.1l1.3 -2l0.1 -0.1l1.9 -1.5l0.7 -0.6l1.3 -1.6l0.4 -0.5l0.3 -2.1l-0.5 -2.1l-0.2 -0.3l-0.4 -1.8l0.1 -2.1l0.3 -2l0 -0.1l0 -0.1l-2 -1.1l-2 0.5l-1.2 0.7l-0.8 0.4l-2 1l-1.1 0.7l-0.9 0.4l-2 1.1l-0.9 0.6l-1.1 0.6l-2 1.5l-2 0.3l-2 0.4l-2 0.7l-1.6 0.7l-0.4 0.1l-2 0.2l-2 0.4l-2 0.1l-2 0.2l-2 0.2l-2 0.3l-2 0.4l-1 0.2l-1 0.2l-2 0.5l-2 0.6l-2 0.7l-0.4 0.1l-1.6 0.7l-2 0.7l-2 0.7l-0.2 0l-1.8 0.1l-1.8 -0.1l-0.2 0l-2 -0.2l-2 -0.2l-2 -0.1l-2 0.1l-2 0.1l-2 0.3l0 2.1l0 2.1l0 2.1l0 2.1l0 2.1l0 2.1l0 2.1l0 2.1l0 1.1l2 0.4l2 0.2l2 0.2l2 0.1l0.8 0.1l1.2 0.2l2 0.5l2 0.6l2 0.2l2 -0.3l2 -0.4l2 -0.3l2 -0.1l2 0.2l2 0.4l2 0.5l2 0.3l2 -0.3l2 -0.4l2 -0.4l2 -0.1l2 0l2 0.4l2 0.6l1.6 0.5l0.4 0.1l2 0.3l2 0.4l2 0.6zM126 29.4l0 0.3l0.1 -0.3l-0.1 0zM138 14.7l0 0.3l0.2 -0.3l-0.2 -0.1zM139.8 12.6l0.2 0.3l0.3 -0.3l-0.3 -0.5zM141.8 10.5l0.2 0.1l0.1 -0.1l0.5 -2.1l-0.6 -0.8l-0.1 0.8zM143.8 4.2l0.2 2l0.5 -2l-0.3 -2.1l-0.2 0zM145.7 0l0.3 1l0.3 -1l-0.3 0z"/>
<path fill="#04ffd6" d="M132.3 123.9l1.7 0.6l2 0.6l2 0.5l2 0.3l1.8 0.1l0.2 0l2 0l2 0l2 0l2 0l2 0l2 0l0.2 0l1.8 -1.8l0.2 -0.3l1.1 -2.1l0.1 -2.1l-0.9 -2.1l-0.5 -1l-0.7 -1.1l-1.3 -2.1l-1.1 -2.1l-0.8 -2.1l-0.1 -0.2l-0.7 -1.9l-0.5 -2.1l-0.3 -2.1l-0.1 -2.1l0.3 -2.1l0.6 -2.1l0.7 -2.1l0 -0.1l0.6 -2l0.6 -2.1l0.4 -2.1l0.4 -2.1l0.3 -2.1l0 -2.1l-0.2 -2.1l-0.1 -0.3l-0.5 -1.8l-1 -2.1l-0.5 -1.1l-0.4 -1l-0.1 -2.1l0.5 -1l0.9 -1.1l1.1 -0.8l2 -0.7l2 -0.2l2 0l0 -0.4l0 -2.1l0 -2.1l0 -2.1l0 -2.1l0 -2.1l0 -2.1l0 -2.1l0 -2.1l0 -2.1l0 -2.1l0 -2.1l0 -2.1l0 -2.1l0 -2.1l0 -2.1l0 -2.1l0 -2.1l0 -2.1l0 -2.1l0 -2.1l-2 -0.2l-2 0l-2 0.2l-0.1 0l-1.9 0.5l-2 0.8l-1.3 0.8l-0.7 0.4l-2 1.6l-0.1 0.1l-1.9 1.8l-0.3 0.3l-1.7 1.5l-0.7 0.6l-1.3 1l-1.7 1.1l-0.3 0.2l-2 1.2l-1.4 0.7l-0.6 0.3l-2 1.2l-1 0.6l-1 0.9l-1.1 1.2l-0.9 1.3l-0.5 0.8l-1.2 2.1l-0.3 0.6l-0.7 1.5l-0.8 2.1l-0.3 2.1l0.2 2.1l0.6 2.1l0.8 2.1l0.2 0.5l0.7 1.6l1.3 2.1l2 1.5l0.8 0.6l1.2 0.7l2 1.4l0.1 0l1.9 1.5l0.7 0.6l1.3 1.3l0.7 0.8l1.3 1.7l0.3 0.4l1 2.1l0.6 2.1l0.1 2l0 0.1l-0.6 2.1l-1.4 1.8l-0.4 0.3l-1.6 1l-2 0.5l-2 -0.1l-2 -0.7l-1.4 -0.7l-0.6 -0.3l-2 -1.2l-1 -0.6l-1 -0.7l-1.7 -1.4l-0.3 -0.2l-2 -1.7l-0.3 -0.2l-1.7 -1.5l-0.8 -0.6l-1.2 -1.2l-0.9 -0.9l-1.1 -1.8l-0.2 -0.3l-0.7 -2.1l-0.5 -2.1l-0.3 -2.1l-0.3 -0.7l-0.6 -1.4l-1.4 -1.2l-1.5 -0.9l-0.5 -0.4l-1.9 -1.7l-0.1 -0.2l-2 -0.9l-2 0.8l-0.4 0.3l-1.6 1.8l-0.3 0.3l-1.5 2.1l0.1 2.1l0.7 2.1l0.6 2.1l0.2 2.1l-0.3 2.1l-0.9 2.1l-0.6 1.5l-0.2 0.6l-0.2 2.1l0.1 2.1l-0.2 2.1l-0.4 2.1l-0.5 2.1l-0.3 2.1l-0.3 1.5l-0.1 0.6l-0.5 2.1l-0.7 2.1l-0.7 1.4l-0.3 0.7l-1.4 2.1l-0.3 0.8l-0.6 1.3l-0.4 2.1l0.7 2.1l0.3 0.6l0.7 1.5l1.3 1.6l0.9 0.5l1.1 1.4l0.8 0.7l1.2 1.4l0.8 0.7l1.2 1.2l1.2 0.9l0.8 0.6l2 0.8l2 0.5l1 0.2l1 0.2l2 0.3l2 0.3l2 0.3l2 0.2l2 0.3l2 0.3l1.2 0.2l0.8 0.1l2 0.4l2 0.5l2 0.5l2 0.5zM1.3 77.7l0.7 0.6l2 1.1l2 0.1l2 -0.3l2 -1.4l0.1 -0.1l1.8 -2.1l0.1 -0.8l0.4 -1.3l-0.4 -0.6l-0.8 -1.5l-1.2 -1l-2 -0.6l-2 0.1l-2 1.1l-0.6 0.4l-1.4 1l-1 1.1l-0.6 2.1zM50 77.7l2 0.9l2 0.7l2 0.1l1.5 -1.7l-1 -2.1l-0.5 -0.6l-1 -1.5l-1 -1.6l-0.2 -0.5l-0.4 -2.1l0.6 -0.3l1.4 -1.8l0.6 -0.5l1.3 -1.6l0.7 -1.3l0.6 -0.8l0.7 -2.1l0.1 -2.1l0.6 -2l0.1 -0.1l1.7 -2.1l0.2 -0.5l1.1 -1.6l-1.1 -1.1l-2 0.4l-1.7 0.7l-0.3 0.1l-2 0.9l-1.5 1.1l-0.5 0.2l-2 0.7l-2 0.6l-1.4 0.6l-0.6 0.1l-2 0.4l-2 0.7l-1.4 0.9l-0.6 0.3l-2 1.2l-1 0.6l-1 0.5l-2 1.1l-0.7 0.5l-1.3 1l-1.1 1.1l-0.8 2.1l-0.1 2.1l0.6 2.1l1.4 1.6l0.6 0.5l1.4 1.5l1.2 0.6l0.8 0.4l2 0.5l2 0.2l2 0.1l2 -0.1l2 -0.1l2 1.1z"/>
<path fill="#13ffaa" d="M143.1 123.9l0.9 0.3l2 0.7l2 0.4l2 0.3l2 0l2 -1l0.7 -0.7l1 -2.1l0 -2.1l-0.9 -2.1l-0.8 -0.9l-2 -1l-1 -0.2l-1 -0.7l-2 -0.8l-2 -0.5l-0.5 -0.1l-1.5 -1.2l-2 -0.6l-2 -0.3l-0.1 0l-1.9 -1.1l-2 -0.6l-2 -0.3l-1 -0.1l-1 -0.5l-2 -0.8l-2 -0.4l-2 -0.2l-1.5 -0.2l-0.5 -0.2l-2 -1.1l-2 -0.5l-2 -0.2l-0.7 -0.1l-1.3 -0.8l-2 -0.5l-2 -0.3l-2 -0.2l-2 -0.3l-0.1 0l-1.9 -1.4l-2 -0.5l-0.7 -0.2l-1.3 -0.8l-2 -0.7l-2 0.2l-1.7 1.3l-0.3 0.2l-1.4 1.9l-0.3 2.1l0.5 2.1l1.2 1.5l0.9 0.6l1.1 1l2 0.9l0.4 0.2l1.6 1.3l2 0.7l0.1 0.1l1.9 1.3l2 0.4l2 0.2l1.5 0.2l0.5 0.2l2 0.7l2 0.5l2 0.4l2 0.3l2 0.9l2 0.5l2 0.4l1.8 0.3l0.2 0.1l2 0.9l2 0.6l2 0.4l0.6 0.1l1.4 0.7l2 0.6l2 0.3l2 0.3zM2.9 77.7l1.1 0.8l2 0.3l2 -0.7l0.6 -0.4l1.4 -1.1l0.9 -1l0.3 -2.1l-1.2 -1.4l-1.5 -0.7l-0.5 -0.3l-2 0.3l-2 0.6l-1.5 1.5l-0.5 1.7l-0.2 0.4l0.2 0.3zM37.2 71.4l0.8 0.4l2 -0.1l1.7 -0.3l0.3 0l2 -0.2l2 -0.2l2 -0.5l1.6 -1.2l0.4 -0.1l2 -0.7l1.5 -1.3l0.5 -0.3l1.8 -1.8l0.2 -0.2l1.4 -1.9l0.4 -2.1l0.1 -2.1l0.1 -0.6l0.5 -1.5l0.5 -2.1l-1 -0.5l-1.3 0.5l-0.7 0.2l-2 0.8l-2 0.8l-0.8 0.3l-1.2 0.2l-2 0.4l-2 0.6l-1.8 0.9l-0.2 0.1l-2 1l-1.3 1l-0.7 0.6l-2 1.5l-2 1.1l-1 1l-0.9 2.1l0.2 2.1l1.7 1.8zM145.8 63l0.2 0.3l2 1l1.7 -1.3l0.3 -0.2l2 -1.8l0.2 -0.1l1.8 -1.3l1.4 -0.8l0.6 -0.4l2 -1.2l0.8 -0.5l1.2 -1l0 -1.1l0 -2.1l0 -2.1l0 -2.1l0 -2.1l0 -2.1l0 -2.1l0 -2.1l0 -2.1l0 -2.1l0 -1.6l-0.7 -0.5l-1.3 -0.7l-2 -0.5l-2 0.1l-2 0.7l-0.8 0.4l-1.2 0.7l-1.8 1.4l-0.2 0.1l-2 1.8l-0.2 0.2l-1.8 1.5l-0.8 0.6l-1.2 1.1l-1.4 1l-0.6 0.7l-1.7 1.4l-0.3 0.4l-1.6 1.7l-0.4 0.7l-0.8 1.4l-0.8 2.1l-0.4 2.1l0.3 2.1l1 2.1l0.7 0.7l1.7 1.4l0.3 0.2l2 0.6l2 0.6l1.6 0.7l0.4 0.2z"/>
<path fill="#30ff7f" d="M146.8 123.9l1.2 0.4l2 0.5l2 0l1.4 -0.9l0.6 -0.6l1 -1.5l0 -2.1l-1 -1.6l-0.5 -0.5l-1.5 -1l-2 -0.6l-2 -0.5l-0.1 0l-1.9 -0.9l-2 -0.5l-2 -0.4l-1.3 -0.3l-0.7 -0.3l-2 -0.8l-2 -0.5l-2 -0.4l-0.4 -0.1l-1.6 -0.8l-2 -0.6l-2 -0.4l-1.8 -0.3l-0.2 -0.1l-2 -0.8l-2 -0.5l-2 -0.4l-1.3 -0.3l-0.7 -0.3l-2 -0.8l-2 -0.3l-2 -0.3l-2 -0.2l-0.7 -0.2l-1.3 -0.7l-2 -0.9l-1.2 -0.5l-0.8 -0.5l-2 -1l-1.8 -0.6l-0.2 -0.1l-2 0l-0.1 0.1l-1.9 1.3l-0.6 0.8l-0.4 2.1l0.7 2.1l0.3 0.4l2 1.5l0.4 0.2l1.6 1.1l2 0.9l0.1 0.1l1.9 1.2l2 0.9l2 0.7l2 0.4l2 0.3l2 0.3l1.5 0.4l0.5 0.2l2 0.7l2 0.5l2 0.4l1.3 0.3l0.7 0.3l2 0.6l2 0.5l2 0.5l0.7 0.2l1.3 0.6l2 0.6l2 0.5l1.7 0.4l0.3 0.1l2 0.6l2 0.5l2 0.3l2 0.4zM4.1 77.7l1.9 0.5l1.1 -0.5l0.9 -0.2l2 -1.9l0 -0.6l0.3 -1.5l-0.3 -0.3l-2 -1.5l-2 0.1l-2 0.9l-0.8 0.8l-0.8 2.1l1.6 2.1zM35.6 69.3l0.4 0.4l2 0.9l2 -0.2l2 -0.4l2 -0.1l2 -0.3l0.7 -0.3l1.3 -0.2l2 -0.6l2 -1l0.3 -0.3l1.7 -1.2l1 -0.9l1 -1.4l0.5 -0.7l0.6 -2.1l0 -2.1l-0.2 -2.1l-0.9 -0.7l-2 0.4l-0.8 0.3l-1.2 0.3l-2 0.4l-2 0.4l-2 0.7l-0.5 0.3l-1.5 0.6l-2 1.3l-0.3 0.2l-1.7 1.5l-0.8 0.6l-1.2 0.8l-1.7 1.3l-0.3 0.4l-1 1.7z"/>
<path fill="#5cff56" d="M149.7 123.9l0.3 0.1l2 0l0.2 -0.1l1.8 -1.7l0.2 -0.4l0 -2.1l-0.2 -0.4l-1.7 -1.7l-0.3 -0.2l-2 -0.6l-2 -0.6l-2 -0.5l-0.5 -0.2l-1.5 -0.6l-2 -0.5l-2 -0.4l-2 -0.5l-0.3 -0.1l-1.7 -0.7l-2 -0.6l-2 -0.5l-1 -0.3l-1 -0.4l-2 -0.6l-2 -0.4l-2 -0.5l-0.6 -0.2l-1.4 -0.5l-2 -0.6l-2 -0.4l-2 -0.5l-0.2 -0.1l-1.8 -0.5l-2 -0.4l-2 -0.3l-2 -0.5l-0.7 -0.4l-1.3 -0.8l-2 -0.8l-0.9 -0.5l-1.1 -0.6l-2 -0.8l-2 0l-1.8 1.4l-0.2 0.6l-0.4 1.5l0.4 1l0.6 1.1l1.4 1.1l1.7 1l0.3 0.2l2 1.1l1.4 0.8l0.6 0.4l2 1l2 0.5l0.9 0.2l1.1 0.3l2 0.4l2 0.4l2 0.4l2 0.6l0.1 0l1.9 0.6l2 0.5l2 0.5l1.7 0.5l0.3 0.1l2 0.6l2 0.5l2 0.6l0.8 0.3l1.2 0.4l2 0.6l2 0.5l2 0.5l0.4 0.1l1.6 0.4l2 0.5l2 0.3l2 0.5zM2.9 75.6l1.1 1.4l2 0.6l2 -0.6l1.5 -1.4l0.1 -2.1l-1.6 -1.3l-2 -0.1l-2 1.3l-0.1 0.1zM37.3 69.3l0.7 0.3l1.9 -0.3l0.1 0l2 -0.4l2 0l2 -0.1l2 -0.3l2 -0.6l1.1 -0.7l0.9 -0.5l2 -1.5l0.1 -0.1l1.6 -2.1l0.3 -1.1l0.3 -1l0 -2.1l-0.3 -1.1l-2 -0.6l-2 0.4l-2 0.4l-2 0.5l-1.2 0.4l-0.8 0.2l-2 0.9l-1.5 1l-0.5 0.5l-1.8 1.6l-0.2 0.3l-2 1.3l-0.7 0.5l-1.3 1.9l-0.1 0.2l0.1 0.4z"/>
<path fill="#97ff2e" d="M143.2 121.8l0.8 0.2l2 0.4l2 0.3l2 0.4l2 0l1.3 -1.3l0.1 -2.1l-1.4 -1.4l-1.7 -0.7l-0.3 -0.1l-2 -0.5l-2 -0.5l-2 -0.7l-0.9 -0.3l-1.1 -0.3l-2 -0.5l-2 -0.4l-2 -0.7l-0.4 -0.2l-1.6 -0.5l-2 -0.6l-2 -0.5l-1.4 -0.5l-0.6 -0.2l-2 -0.5l-2 -0.5l-2 -0.5l-1 -0.4l-1 -0.3l-2 -0.5l-2 -0.5l-2 -0.4l-1.5 -0.4l-0.5 -0.1l-2 -0.4l-2 -0.4l-2 -1.1l-0.2 -0.1l-1.8 -0.9l-2 -0.9l-0.5 -0.3l-1.5 -0.7l-2 0l-0.8 0.7l-0.8 2.1l1.1 2.1l0.5 0.4l2 1l1 0.7l1 0.6l2 1l0.8 0.5l1.2 0.6l2 0.6l2 0.3l2 0.5l0.2 0.1l1.8 0.4l2 0.4l2 0.5l2 0.6l0.4 0.2l1.6 0.4l2 0.5l2 0.5l2 0.7l2 0.6l2 0.5l2 0.6l0.9 0.4l1.1 0.4l2 0.4l2 0.4l2 0.5zM3.4 75.6l0.6 0.8l2 0.9l2 -0.7l1.1 -1l0 -2.1l-1.1 -0.9l-2 -0.1l-1.5 1l-0.5 0.9zM36.8 67.2l1.2 1.4l2 -0.2l2 -0.3l2 0.1l2 0l2 -0.3l1.9 -0.7l0.1 0l2 -1.2l1.2 -0.9l0.8 -0.9l0.9 -1.2l0.6 -2.1l-0.1 -2.1l-1.4 -1l-2 0.2l-2 0.4l-1.6 0.4l-0.4 0.1l-2 0.5l-2 1l-0.8 0.5l-1.2 1.2l-1 0.9l-1 1.1l-1.5 1l-0.5 0.5z"/>
<path fill="#e3ff0a" d="M146.8 121.8l1.2 0.2l2 0.2l2 -0.1l0.3 -0.3l0.1 -2.1l-0.4 -0.4l-2 -0.5l-2 -0.9l-0.4 -0.3l-1.6 -0.4l-2 -0.4l-2 -0.6l-1.7 -0.7l-0.3 -0.1l-2 -0.4l-2 -0.5l-2 -0.7l-0.8 -0.4l-1.2 -0.3l-2 -0.5l-2 -0.5l-2 -0.8l-2 -0.4l-2 -0.4l-2 -0.6l-1.7 -0.7l-0.3 -0.1l-2 -0.4l-2 -0.3l-2 -0.4l-2 -0.4l-1.2 -0.5l-0.8 -0.2l-2 -0.7l-1.8 -1.2l-0.2 -0.1l-2 -0.7l-2 -1.1l-2 0.1l-0.6 1.8l0.6 1.1l1 1l1 0.5l2 1.1l0.5 0.5l1.5 0.6l2 1.3l0.4 0.2l1.6 0.4l2 0.3l2 0.3l2 0.5l1.4 0.6l0.6 0.1l2 0.4l2 0.4l2 0.7l1.1 0.5l0.9 0.2l2 0.4l2 0.4l2 0.8l0.5 0.3l1.5 0.3l2 0.5l2 0.6l1.4 0.7l0.6 0.1l2 0.4l2 0.3l2 0.4l2 0.6zM3.9 75.6l0.1 0.2l2 1.1l2 -0.7l0.6 -0.6l0 -2.1l-0.6 -0.5l-2 -0.1l-0.9 0.6l-1.1 1.8zM37.8 67.2l0.2 0.3l2 0.1l2 -0.2l2 0.1l2 0.1l2 -0.3l0.2 -0.1l1.8 -0.8l2 -1.1l0.3 -0.2l1.7 -1.9l0.1 -0.2l0.7 -2.1l-0.3 -2.1l-0.5 -0.4l-2 0.1l-1.6 0.3l-0.4 0.1l-2 0.3l-2 0.5l-2 1.1l-0.1 0.1l-1.9 1.8l-0.3 0.3l-1.7 2l-0.1 0.1l-1.9 1.8z"/>
<path fill="#ffe100" d="M135.3 117.6l0.7 0.1l2 0.2l2 0.2l2 0l0.5 -0.5l-0.5 -0.1l-2 -0.1l-2 -0.3l-2 -1.2l-0.2 -0.4l-1.8 -0.2l-2 -0.2l-2 -0.6l-1.1 -1.1l-0.9 -0.1l-2 -0.2l-2 -0.2l-2 -0.5l-0.9 -1.1l-1.1 -0.1l-2 -0.2l-2 -0.3l-2 -0.8l-0.8 -0.7l-1.2 -0.1l-2 -0.1l-2 0l-2 -0.2l-0.1 0.4l0.1 0l2 0.4l2 0.4l2 1.2l0 0.1l2 0.1l2 0.2l2 0.4l2 0.7l0.7 0.7l1.3 0.1l2 0.2l2 0.5l2 1.2l0.1 0.1l1.9 0.2l2 0.3l2 0.6zM103.8 107.1l0.2 0.1l0.2 -0.1l-0.2 0zM4.4 75.6l1.6 1l2 -0.8l0.2 -0.2l-0.2 -2.1l-2 -0.2l-0.4 0.2zM41.6 65.1l0.4 0.5l2 1l2 0.2l2 -0.4l2 -0.8l0.9 -0.5l1.1 -0.7l1.2 -1.4l0.8 -2.1l0 -0.1l-2 -1.7l-2 0.2l-2 0.2l-2 0.6l-1.4 0.8l-0.6 0.4l-1.7 1.7l-0.3 1.5z"/>
<path fill="#ffb500" d="M4.9 75.6l1.1 0.6l1.5 -0.6l-1.5 -1.8zM43.6 65.1l0.4 0.3l2 0.4l2 -0.3l1 -0.4l1 -0.2l2 -1.6l0.3 -0.3l0.6 -2.1l-0.9 -0.8l-2 -0.3l-2 0.1l-2 0.6l-0.8 0.4l-1.2 0.9l-1.2 1.2z"/>
<path fill="#ff8a00" d="M5.5 75.6l0.5 0.3l0.7 -0.3l-0.7 -0.8zM43.3 63l0.7 1.4l2 0.6l2 -0.1l2 -0.6l1.6 -1.3l0.2 -2.1l-1.8 -0.6l-2 -0.1l-2 0.6l-0.1 0.1l-1.9 1.4z"/>
<path fill="#ff6000" d="M43.8 63l0.2 0.4l2 1.3l2 -0.1l2 -0.8l1 -0.8l-0.5 -2.1l-0.5 -0.2l-2 -0.1l-1.1 0.3l-0.9 0.3l-2 1.6z"/>
<path fill="#ff3800" d="M44.3 63l1.7 1.3l2 0l2 -1l0.3 -0.3l-0.3 -1l-1.9 -1.1l-0.1 0l-2 0.7z"/>
<path fill="#ff1200" d="M44.7 63l1.3 1l2 0l1.8 -1l-1.8 -1.6l-2 0.5z"/>
<path fill="#ee0000" d="M45.2 63l0.8 0.6l2 0.1l1.2 -0.7l-1.2 -1.1l-2 0.4z"/>
<path fill="#c50000" d="M45.6 63l0.4 0.3l2 0.1l0.7 -0.4l-0.7 -0.6l-2 0.3z"/>
<path fill="#9c0000" d="M46.7 63l1.3 0.1l0.2 -0.1l-0.2 -0.2z"/></g>
<g id="fld_c"><rect x="0" y="0" width="160" height="126" fill="#0000fa"/>
<path fill="#0007ff" d="M0 126l2 0l2 0l2 0l2 0l2 0l2 0l2 0l2 0l2 0l2 0l2 0l2 0l2 0l2 0l2 0l2 0l2 0l2 0l2 0l2 0l2 0l2 0l2 0l2 0l2 0l2 0l2 0l2 0l2 0l2 0l2 0l2 0l2 0l2 0l2 0l2 0l2 0l2 0l2 0l2 0l2 0l2 0l2 0l2 0l2 0l2 0l2 0l2 0l2 0l2 0l2 0l2 0l2 0l2 0l2 0l2 0l2 0l2 0l2 0l2 0l2 0l2 0l2 0l2 0l2 0l2 0l2 0l2 0l2 0l2 0l2 0l2 0l2 0l2 0l2 0l2 0l2 0l2 0l2 0l2 0l0 -2.1l0 -2.1l0 -2.1l0 -2.1l0 -2.1l0 -2.1l0 -2.1l0 -2.1l0 -2.1l0 -2.1l0 -2.1l0 -2.1l0 -2.1l0 -2.1l0 -2.1l0 -2.1l0 -2.1l0 -2.1l0 -2.1l0 -2.1l0 -2.1l0 -2.1l0 -2.1l0 -2.1l0 -2.1l0 -2.1l0 -2.1l0 -2.1l0 -2.1l0 -2.1l0 -2.1l0 -2.1l0 -2.1l0 -2.1l0 -2.1l0 -2.1l0 -2.1l0 -2.1l0 -2.1l0 -2.1l0 -2.1l0 -2.1l0 -2.1l0 -2.1l0 -2.1l0 -2.1l0 -2.1l0 -2.1l0 -2.1l0 -2.1l0 -2.1l0 -2.1l0 -2.1l0 -2.1l0 -2.1l0 -2.1l0 -2.1l0 -2.1l0 -2.1l0 -2.1l-2 0l-2 0l-2 0l-2 0l-2 0l-2 0l-2 0l-2 0l-2 0l-2 0l-2 0l-2 0l-2 0l-2 0l-2 0l-2 0l-2 0l-2 0l-2 0l-2 0l-2 0l-2 0l-2 0l-2 0l-2 0l-2 0l-2 0l-2 0l-2 0l-2 0l-2 0l-2 0l-2 0l-2 0l-2 0l-2 0l-2 0l-2 0l-2 0l-2 0l-2 0l-2 0l-2 0l-2 0l-2 0l-2 0l-2 0l-2 0l-2 0l-2 0l-2 0l-2 0l-2 0l-2 0l-2 0l-2 0l-2 0l-2 0l-2 0l-2 0l-2 0l-2 0l-2 0l-2 0l-2 0l-2 0l-2 0l-2 0l-2 0l-2 0l-2 0l-2 0l-2 0l-2 0l-2 0l-2 0l-2 0l-2 0l-2 0l-2 0l0 2.1l0 2.1l0 2.1l0 2.1l0 2.1l0 2.1l0 2.1l0 2.1l0 2.1l0 2.1l0 2.1l0 2.1l0 2.1l0 2.1l0 2.1l0 2.1l0 2.1l0 2.1l0 2.1l0 2.1l0 2.1l0 2.1l0 2.1l0 2.1l0 2.1l0 2.1l0 2.1l0 2.1l0 2.1l0 2.1l0 2.1l0 2.1l0 2.1l0 2.1l0 2.1l0 2.1l0 2.1l0 2.1l0 2.1l0 2.1l0 2.1l0 2.1l0 2.1l0 2.1l0 2.1l0 2.1l0 2.1l0 2.1l0 2.1l0 2.1l0 2.1l0 2.1l0 2.1l0 2.1l0 2.1l0 2.1l0 2.1l0 2.1l0 2.1z"/>
<path fill="#0030ff" d="M0 126l2 0l2 0l2 0l2 0l2 0l2 0l2 0l2 0l2 0l2 0l2 0l2 0l2 0l2 0l2 0l2 0l2 0l2 0l2 0l2 0l2 0l2 0l2 0l2 0l2 0l2 0l2 0l2 0l2 0l2 0l2 0l2 0l2 0l2 0l2 0l2 0l2 0l2 0l2 0l2 0l2 0l2 0l2 0l2 0l2 0l2 0l2 0l2 0l2 0l2 0l2 0l2 0l2 0l2 0l2 0l2 0l2 0l2 0l2 0l2 0l2 0l2 0l2 0l2 0l2 0l2 0l2 0l2 0l2 0l2 0l2 0l2 0l2 0l2 0l2 0l2 0l2 0l2 0l2 0l2 0l0 -2.1l0 -2.1l0 -2.1l0 -2.1l0 -2.1l0 -2.1l0 -2.1l0 -2.1l0 -2.1l0 -2.1l0 -2.1l0 -2.1l0 -2.1l0 -2.1l0 -2.1l0 -2.1l0 -2.1l0 -2.1l0 -2.1l0 -2.1l0 -2.1l0 -2.1l0 -2.1l0 -2.1l0 -2.1l0 -2.1l0 -2.1l0 -2.1l0 -2.1l0 -2.1l0 -2.1l0 -2.1l0 -2.1l0 -2.1l0 -2.1l0 -2.1l0 -2.1l0 -2.1l0 -2.1l0 -2.1l0 -2.1l0 -2.1l0 -2.1l0 -2.1l0 -2.1l0 -2.1l0 -2.1l0 -2.1l0 -2.1l0 -2.1l0 -2.1l0 -2.1l0 -2.1l0 -2.1l0 -2.1l0 -2.1l0 -2.1l0 -2.1l0 -2.1l0 -2.1l-2 0l-2 0l-2 0l-2 0l-2 0l-2 0l-2 0l-2 0l-2 0l-2 0l-2 0l-2 0l-2 0l-2 0l-2 0l-2 0l-2 0l-2 0l-2 0l-2 0l-2 0l-2 0l-2 0l-2 0l-2 0l-2 0l-2 0l-2 0l-2 0l-2 0l-2 0l-2 0l-2 0l-2 0l-2 0l-2 0l-2 0l-2 0l-2 0l-2 0l-2 0l-2 0l-2 0l-2 0l-2 0l-2 0l-2 0l-2 0l-2 0l-2 0l-2 0l-2 0l-2 0l-2 0l-2 0l-2 0l-2 0l-2 0l-2 0l-2 0l-2 0l-2 0l-2 0l-2 0l-2 0l-2 0l-2 0l-2 0l-2 0l-2 0l-2 0l-2 0l-2 0l-2 0l-2 0l-2 0l-2 0l-2 0l-2 0l-2 0l0 2.1l0 2.1l0 2.1l0 2.1l0 2.1l0 2.1l0 2.1l0 2.1l0 2.1l0 2.1l0 2.1l0 2.1l0 2.1l0 2.1l0 2.1l0 2.1l0 2.1l0 2.1l0 2.1l0 2.1l0 2.1l0 2.1l0 2.1l0 2.1l0 2.1l0 2.1l0 2.1l0 2.1l0 2.1l0 2.1l0 2.1l0 2.1l0 2.1l0 2.1l0 2.1l0 2.1l0 2.1l0 2.1l0 2.1l0 2.1l0 2.1l0 2.1l0 2.1l0 2.1l0 2.1l0 2.1l0 2.1l0 2.1l0 2.1l0 2.1l0 2.1l0 2.1l0 2.1l0 2.1l0 2.1l0 2.1l0 2.1l0 2.1l0 2.1z"/>
<path fill="#0059ff" d="M0 126l2 0l2 0l2 0l2 0l2 0l2 0l2 0l2 0l2 0l2 0l2 0l2 0l2 0l2 0l2 0l2 0l2 0l2 0l2 0l2 0l2 0l2 0l2 0l2 0l2 0l2 0l2 0l2 0l2 0l2 0l2 0l2 0l2 0l2 0l2 0l2 0l2 0l2 0l2 0l2 0l2 0l2 0l2 0l2 0l2 0l2 0l2 0l2 0l2 0l2 0l2 0l2 0l2 0l2 0l2 0l2 0l2 0l2 0l2 0l2 0l2 0l2 0l2 0l2 0l2 0l2 0l2 0l2 0l2 0l2 0l2 0l2 0l2 0l2 0l2 0l2 0l2 0l2 0l2 0l2 0l0 -2.1l0 -2.1l0 -2.1l0 -2.1l0 -2.1l0 -2.1l0 -2.1l0 -2.1l0 -2.1l0 -2.1l0 -2.1l0 -2.1l0 -2.1l0 -2.1l0 -2.1l0 -2.1l0 -2.1l0 -2.1l0 -2.1l0 -2.1l0 -2.1l0 -2.1l0 -2.1l0 -2.1l0 -2.1l0 -2.1l0 -2.1l0 -2.1l0 -2.1l0 -2.1l0 -2.1l0 -2.1l0 -2.1l0 -2.1l0 -2.1l0 -2.1l0 -2.1l0 -2.1l0 -2.1l0 -2.1l0 -2.1l0 -2.1l0 -2.1l0 -2.1l0 -2.1l0 -2.1l0 -2.1l0 -2.1l0 -2.1l0 -2.1l0 -2.1l0 -2.1l0 -2.1l0 -2.1l0 -2.1l0 -2.1l0 -2.1l0 -2.1l0 -2.1l0 -2.1l-2 0l-2 0l-2 0l-2 0l-2 0l-2 0l-2 0l-2 0l-2 0l-2 0l-2 0l-2 0l-2 0l-2 0l-2 0l-2 0l0 0.1l0.3 2l0.2 2.1l0 2.1l0 2.1l-0.2 2.1l-0.3 1.5l-0.2 0.6l-1 2.1l-0.8 1.4l-0.6 0.7l-1.4 1.4l-1 0.7l-1 0.5l-2 0.7l-2 0.4l-2 0l-2 -0.2l-2 -0.4l-2 -0.5l-1 -0.5l-1 -0.6l-1.5 -1.5l-0.5 -0.7l-0.7 -1.4l-0.6 -2.1l-0.2 -2.1l0.1 -2.1l0.4 -2.1l0.6 -2.1l0.4 -1.2l0.3 -0.9l1 -2.1l-1.3 0l-2 0l-2 0l-2 0l-2 0l-2 0l-2 0l-2 0l-2 0l-2 0l-2 0l-2 0l-2 0l-2 0l-2 0l-2 0l-2 0l-2 0l-2 0l-2 0l-2 0l-2 0l-2 0l-2 0l-2 0l-2 0l-2 0l-2 0l-2 0l-2 0l-2 0l-2 0l-2 0l-2 0l-2 0l-2 0l-2 0l-2 0l-2 0l-2 0l-2 0l-2 0l-2 0l-2 0l-2 0l-2 0l-2 0l-2 0l-2 0l-2 0l-2 0l-2 0l-2 0l-2 0l0 2.1l0 2.1l0 2.1l0 2.1l0 2.1l0 2.1l0 2.1l0 2.1l0 2.1l0 2.1l0 2.1l0 2.1l0 2.1l0 2.1l0 2.1l0 2.1l0 2.1l0 2.1l0 2.1l0 2.1l0 2.1l0 2.1l0 2.1l0 2.1l0 2.1l0 2.1l0 2.1l0 2.1l0 2.1l0 2.1l0 2.1l0 2.1l0 2.1l0 2.1l0 2.1l0 2.1l0 2.1l0 2.1l0 2.1l0 2.1l0 2.1l0 2.1l0 2.1l0 2.1l0 2.1l0 2.1l0 2.1l0 2.1l0 2.1l0 2.1l0 2.1l0 2.1l0 2.1l0 2.1l0 2.1l0 2.1l0 2.1l0 2.1l0 2.1z"/>
<path fill="#0082ff" d="M0 126l2 0l2 0l2 0l2 0l2 0l2 0l2 0l2 0l2 0l2 0l2 0l2 0l2 0l2 0l2 0l2 0l2 0l2 0l2 0l2 0l2 0l2 0l2 0l2 0l2 0l2 0l2 0l2 0l2 0l2 0l2 0l2 0l2 0l2 0l2 0l2 0l2 0l2 0l2 0l2 0l2 0l2 0l2 0l2 0l2 0l2 0l2 0l2 0l2 0l2 0l2 0l2 0l2 0l2 0l2 0l2 0l2 0l2 0l2 0l2 0l2 0l2 0l2 0l2 0l2 0l2 0l2 0l2 0l2 0l2 0l2 0l2 0l2 0l2 0l2 0l2 0l2 0l2 0l2 0l2 0l0 -2.1l0 -2.1l0 -2.1l0 -2.1l0 -2.1l0 -2.1l0 -2.1l0 -2.1l0 -2.1l0 -2.1l0 -2.1l0 -2.1l0 -2.1l0 -2.1l0 -2.1l0 -2.1l0 -2.1l0 -2.1l0 -2.1l0 -2.1l0 -2.1l0 -2.1l0 -2.1l0 -2.1l0 -2.1l0 -2.1l0 -2.1l0 -2.1l0 -2.1l0 -2.1l0 -2.1l0 -2.1l0 -2.1l0 -2.1l0 -2.1l0 -2.1l0 -2.1l0 -2.1l0 -2.1l0 -2.1l0 -2.1l0 -2.1l0 -2.1l0 -2.1l0 -2.1l0 -2.1l0 -2.1l0 -2.1l0 -2.1l0 -2.1l0 -2.1l0 -2.1l0 -2.1l0 -2.1l0 -2.1l0 -2.1l0 -2.1l0 -2.1l0 -2.1l0 -2.1l-2 0l-2 0l-2 0l-2 0l-2 0l-2 0l-2 0l-2 0l-2 0l-1.9 0l-0.1 0.3l-1.2 1.8l-0.6 2.1l-0.2 1.1l-0.6 1l-1.2 2.1l-0.2 0.4l-1.3 1.7l-0.7 1.3l-0.5 0.8l-1.4 2.1l-0.1 0.2l-1.4 1.9l-0.6 0.7l-1.1 1.4l-0.9 1.1l-0.9 1l-1.1 1.3l-0.8 0.8l-1.2 1.3l-1 0.8l-1 1.3l-0.9 0.8l-1.1 1.4l-0.6 0.7l-1.4 1.8l-0.2 0.3l-1.8 2.1l0 0.1l-1.9 2l-0.1 0.2l-1.8 1.9l-0.2 0.3l-1.8 1.8l-0.2 0.3l-1.8 1.8l-0.2 0.3l-1.7 1.8l-0.3 0.9l-2 0.2l-2 -0.5l-2 1.2l-0.3 0.3l-1.7 1.8l-0.3 0.3l-1.7 1.9l-0.3 0.2l-1.7 1.2l-2 0.1l-1.5 -1.3l-0.5 -0.3l-1.6 -1.8l-0.4 -0.4l-1.3 -1.7l-0.7 -0.9l-1 -1.2l-1 -1.3l-0.6 -0.8l-1.4 -1.7l-0.4 -0.4l-1.6 -1.8l-0.3 -0.3l-1.7 -1.7l-0.5 -0.4l-1.5 -1.1l-1.5 -1l-0.5 -0.3l-2 -1.2l-1.2 -0.6l-0.8 -0.4l-2 -1.2l-0.8 -0.5l-1.2 -0.9l-1.6 -1.2l-0.4 -0.4l-2 -1.6l-0.1 -0.1l-1.9 -1.6l-0.6 -0.5l-1.4 -1.3l-0.9 -0.8l-1.1 -1.1l-1.1 -1l-0.9 -0.9l-1.3 -1.2l-0.7 -0.7l-1.9 -1.4l-0.1 -0.1l-2 -0.7l-2 0.2l-1.3 0.6l-0.7 0.3l-2 -0.2l-0.2 -0.1l-1.8 -1.8l-2 0l-0.6 -0.3l-1.4 -1.7l-0.8 -0.4l-1.2 -1.6l-0.8 -0.5l-1.2 -2l-0.1 -0.1l0.1 -2.1l0 -0.5l0.1 -1.6l-0.1 -1.3l-0.1 -0.8l-1.9 0l-2 0l-2 0l-2 0l-2 0l-2 0l-2 0l-1.9 0l1.9 1.2l1.2 0.9l0.8 0.8l1 1.3l0.8 2.1l-0.2 2.1l-1.3 2.1l-0.3 0.2l-2 1.1l-2 0.8l-2 -0.2l-2 -0.3l-2 -0.1l-2 0l-2 0.2l-2 0.3l-0.6 0.1l-1.4 0.1l-1.6 -0.1l-0.4 0l0 2.1l0 2.1l0 2.1l0 2.1l0 2.1l0 2.1l0 2.1l0 2.1l0 2.1l0 2.1l0 2.1l0 2.1l0 2.1l0 2.1l0 2.1l0 2.1l0 2.1l0 2.1l0 2.1l0 2.1l0 2.1l0 2.1l0 2.1l0 2.1l0 2.1l0 2.1l0 2.1l0 2.1l0 2.1l0 2.1l0 2.1l0 2.1l0 2.1l0 2.1l0 2.1l0 2.1l0 2.1l0 2.1l0 2.1l0 2.1l0 2.1l0 2.1l0 2.1l0 2.1l0 2.1l0 2.1l0 2.1l0 2.1l0 2.1l0 2.1l0 2.1l0 2.1l0 2.1zM24 117.8l-0.7 -0.2l-1.3 -0.3l-2 -0.8l-1.7 -1l-0.3 -0.2l-2 -1.9l-1.2 -2.1l-0.7 -2.1l-0.1 -0.8l-0.2 -1.3l-0.2 -2.1l-0.1 -2.1l0.1 -2.1l0.2 -2.1l0.2 -0.5l0.8 -1.6l1.2 -0.9l2 -1.2l0.1 0l1.9 -0.6l2 -0.5l2 -0.4l2 0.1l2 0.2l2 0.2l2 0.1l2 -0.1l2 -0.1l2 -0.3l2 -0.1l2 0.4l2 0.6l1.8 0.5l0.2 0.1l2 1l1.4 1l0.6 1.7l0.1 0.4l-0.1 2.1l-0.6 2.1l-0.8 2.1l-0.6 1.1l-0.6 1l-1.4 2.1l0 0.1l-1.6 2l-0.4 0.5l-1.7 1.6l-0.3 0.3l-2 1.5l-0.7 0.3l-1.3 0.7l-2 0.7l-2 0.5l-1 0.2l-1 0.2l-2 0.2l-2 0.1l-2 0z"/>
<path fill="#00aaff" d="M64 126l2 0l2 0l2 0l2 0l2 0l2 0l2 0l2 0l2 0l2 0l2 0l2 0l2 0l2 0l2 0l2 0l2 0l2 0l2 0l2 0l2 0l2 0l2 0l2 0l2 0l2 0l2 0l2 0l2 0l2 0l2 0l2 0l2 0l2 0l2 0l2 0l2 0l2 0l2 0l2 0l2 0l2 0l2 0l2 0l2 0l2 0l2 0l2 0l0 -2.1l0 -2.1l0 -2.1l0 -2.1l0 -2.1l0 -2.1l0 -2.1l0 -2.1l0 -2.1l0 -2.1l0 -2.1l0 -2.1l0 -2.1l0 -2.1l0 -2.1l0 -2.1l0 -2.1l0 -2.1l0 -2.1l0 -2.1l0 -2.1l0 -2.1l0 -2.1l0 -2.1l0 -2.1l0 -2.1l0 -2.1l0 -2.1l0 -2.1l0 -2.1l0 -2.1l0 -2.1l0 -2.1l0 -2.1l0 -2.1l0 -2.1l0 -2.1l0 -2.1l0 -2.1l0 -2.1l0 -2.1l0 -2.1l0 -2.1l0 -2.1l0 -2.1l0 -2.1l0 -2.1l0 -2.1l0 -2.1l0 -2.1l0 -2.1l0 -2.1l0 -2.1l0 -2.1l0 -2.1l0 -2.1l0 -2.1l0 -2.1l0 -2.1l0 -2.1l-2 0l-2 0l-2 0l-2 0l-2 0l-2 0l-2 0l-2 0l-2 0l-0.3 0l-0.8 2.1l-0.7 2.1l-0.2 0.4l-0.8 1.7l-0.9 2.1l-0.3 0.5l-1.2 1.6l-0.8 1.2l-0.7 0.9l-1.3 2.1l0 0.1l-1.5 2l-0.5 0.6l-1.4 1.5l-0.6 0.8l-1.2 1.3l-0.8 1l-1 1.1l-1 1.2l-0.9 0.9l-1.1 1.4l-0.6 0.7l-1.4 1.8l-0.3 0.3l-1.6 2.1l-0.1 0.1l-1.7 2l-0.3 0.4l-1.5 1.7l-0.5 0.5l-1.4 1.6l-0.6 0.7l-1.3 1.4l-0.7 0.9l-1.1 1.2l-0.9 1l-0.9 1.1l-1 2.1l-0.1 0.1l-1.2 2l-0.8 1.9l-0.2 0.2l-1.1 2.1l-0.7 1l-1 1.1l-1 1l-1.1 1.1l-0.9 1l-2 0.5l-2 0.4l-2 -0.1l-2 -1l-2 -0.8l-2 -1.5l-0.5 -0.6l-1.5 -1.8l-0.3 -0.3l-1.7 -2l0 -0.1l-1.9 -2.1l-0.1 -0.1l-1.8 -2l-0.2 -0.2l-1.7 -1.9l-0.3 -0.3l-1.6 -1.8l-0.4 -0.4l-1.9 -1.7l-0.1 -0.1l-2 -1.5l-0.6 -0.5l-1.4 -1.1l-1.2 -1l-0.8 -0.6l-2 -1.5l-2 -1.4l-0.9 -0.7l-1.1 -0.9l-1.5 -1.2l-0.5 -0.4l-2 -1.7l-2 -1.7l-0.5 -0.4l-1.5 -1.3l-0.9 -0.8l-1.1 -1l-1.3 -1.1l-0.7 -0.7l-2 -1.2l-2 0.3l-0.4 -0.5l-1.6 -1.1l-1.2 -1l-0.8 -0.7l-2 -0.9l-0.9 1.6l-0.7 2.1l-0.2 2.1l0.3 2.1l0.6 2.1l0.9 1.6l0.4 0.5l1.6 1.7l0.4 0.4l1.6 1.4l0.9 0.7l1.1 1l1.2 1.1l0.8 0.9l1.2 1.2l0.8 1.2l0.6 0.9l0.5 2.1l-1.1 2l-0.1 0.1l-1.9 0.9l-2 0.5l-2 0.3l-2 0l-2 -0.1l-2 -0.2l-2 -0.2l-2 -0.2l-2 -0.4l-2 -0.4l-1 -0.2l-1 -0.3l-2 -0.6l-2 -0.7l-1.5 -0.5l-0.5 -0.2l-2 -0.7l-2 -0.7l-2 -0.5l-2 -0.5l-2 -0.2l-2 -0.1l-2 0l-2 0.2l-2 0.3l-2 0.2l-2 0.1l0 2.1l0 2.1l0 2.1l0 2.1l0 2.1l0 2.1l0 2.1l0 2.1l0 2.1l0 2.1l0 2.1l0 2.1l0 2.1l0 2.1l0 2.1l0 2.1l0 2.1l0 2.1l0 2.1l0 2.1l0 2.1l0 2.1l0 2.1l0 2.1l0 2.1l0 2.1l0 2.1l0 2.1l0 2.1l0 2.1l0 2.1l0 2.1l0 1.4l1.7 -1.4l0.3 -0.3l1.2 -1.8l0.8 -1.9l0.1 -0.2l0.5 -2.1l0.5 -2.1l0.9 -1.9l0.1 -0.2l1.8 -2.1l0.1 0l2 -1.2l2 -0.7l1 -0.2l1 -0.1l2 -0.2l2 -0.2l2 -0.2l2 -0.2l2 -0.2l2 0.1l2 0.1l2 0.1l2 0l2 0l2 -0.1l2 -0.1l2 0l2 0.2l2 0.4l1.9 0.4l0.1 0l2 0.6l2 0.6l1.8 0.9l0.2 0.1l1.7 2l0.3 0.5l1.1 1.6l0.9 1.9l0.1 0.2l0.9 2.1l0.5 2.1l0.1 2.1l-0.3 2.1l-0.1 2.1l0.4 2.1l0.4 0.9l1.1 1.2l0.9 1.1l1.2 1l0.8 1.5l0.2 0.6l0.6 2.1l0.4 2.1l0.4 2.1z"/>
<path fill="#00d3ff" d="M83.7 126l0.3 0l2 0l2 0l2 0l2 0l2 0l2 0l2 0l2 0l2 0l2 0l2 0l2 0l2 0l2 0l2 0l2 0l2 0l2 0l2 0l2 0l2 0l2 0l2 0l2 0l2 0l2 0l2 0l2 0l2 0l2 0l2 0l2 0l2 0l2 0l2 0l2 0l2 0l2 0l0 -2.1l0 -2.1l0 -2.1l0 -2.1l0 -2.1l0 -2.1l0 -2.1l0 -2.1l0 -2.1l0 -2.1l0 -2.1l0 -2.1l0 -2.1l0 -2.1l0 -2.1l0 -2.1l0 -2.1l0 -2.1l0 -2.1l0 -2.1l0 -2.1l0 -2.1l0 -2.1l0 -2.1l0 -2.1l0 -2.1l0 -2.1l0 -2.1l0 -2.1l0 -2.1l0 -2.1l0 -2.1l0 -2.1l0 -2.1l0 -2.1l0 -2.1l0 -2.1l0 -2.1l0 -2.1l0 -2.1l0 -2.1l0 -2.1l0 -2.1l0 -2.1l0 -2.1l0 -2.1l0 -2.1l0 -2.1l0 -2.1l0 -2.1l0 -2.1l0 -2.1l0 -2.1l0 -2.1l0 -2.1l0 -2.1l0 -2.1l0 -2.1l0 -0.8l-2 -0.9l-0.4 -0.4l-1.1 -2.1l-0.5 0l-2 0l-2 0l-2 0l-2 0l-2 0l-2 0l-1 0l-1 2.1l-0.7 2.1l-0.8 2.1l-0.5 1l-0.5 1.1l-1.4 2.1l-0.1 0.1l-1.2 2l-0.8 1l-0.7 1.1l-1.3 1.7l-0.3 0.4l-1.7 2.1l-1.8 2.1l-0.2 0.2l-1.5 1.9l-0.5 0.5l-1.3 1.6l-0.7 0.7l-1.1 1.4l-0.9 1l-0.9 1.1l-1.1 1.3l-0.7 0.8l-1.3 1.6l-0.4 0.5l-1.6 1.8l-0.2 0.3l-1.8 2l-0.1 0.1l-1.8 2.1l-0.1 0.2l-1.6 1.9l-0.4 0.4l-1.4 1.7l-0.6 0.7l-0.8 1.4l-1.1 2.1l-0.1 0.1l-0.9 2l-1.1 1.8l-0.2 0.3l-1.3 2.1l-0.5 0.5l-1.6 1.6l-0.4 0.4l-1.7 1.7l-0.3 0.3l-2 0.6l-2 0.4l-2 0.1l-2 -0.5l-2 -0.7l-0.6 -0.2l-1.4 -0.5l-2 -1.4l-0.3 -0.2l-1.7 -1.5l-0.7 -0.6l-1.3 -1.1l-1.2 -1l-0.8 -0.8l-1.4 -1.3l-0.6 -0.7l-1.4 -1.4l-0.6 -0.6l-1.5 -1.5l-0.5 -0.6l-1.2 -1.5l-0.8 -0.7l-1.9 -1.4l-0.1 0l-2 -1.2l-1.4 -0.9l-0.6 -0.4l-2 -1.3l-0.8 -0.4l-1.2 -0.7l-1.2 0.7l0.7 2.1l0.1 2.1l-1 2.1l-0.6 0.5l-2 1.6l-2 1.1l-2 1l-2 0.8l-2 0.7l-2 0.6l-0.3 0l-1.7 0.2l-2 0.2l-2 0l-2 0l-2 -0.1l-2 -0.1l-2 -0.1l-2 -0.1l-0.1 0l-1.9 0l-2 0l-2 0l-2 0l-2 0l-1.8 0l-0.2 0l-2 0l-2 0l-2 0l-2 0.1l-2 0l-2 0l-2 0l-2 0l-2 -0.1l-2 0l0 2.1l0 2.1l0 2.1l0 2.1l0 2.1l0 2.1l0 2.1l0 2.1l0 2.1l0 2.1l0 2.1l0 2.1l0 2.1l0 2.1l0 2.1l0 2.1l0 2.1l0 2.1l0.1 0l1.9 -0.5l2 -0.3l2 -0.3l2 -0.2l2 -0.2l2 0l2 0l2 0l2 -0.1l2 -0.2l2 -0.2l1.9 -0.1l0.1 0l0.1 0l1.9 0.1l2 0.1l2 0.2l2 0.1l2 -0.1l2 -0.1l2 -0.2l2 -0.1l2 0.2l2 0.3l2 0.5l2 0.5l2 0.5l0.3 0.1l1.7 0.7l2 1.3l0.1 0.1l1.9 2.1l2 1.2l2 0.6l2 0.3l2 0.3l2 0.5l2 0.7l1.2 0.6l0.8 0.5l2 1.2l0.5 0.4l1.5 1.2l1 0.9l1 1.1l0.9 1l1.1 1.3l0.7 0.8l1.3 1.6l0.4 0.5l1 2.1l0.6 1.9l0.1 0.2l0.3 2.1l0.1 2.1l0 2.1l0.2 2.1l0.2 2.1l0.4 2.1zM59.8 35.7l0.2 0.3l0.1 -0.3l-0.1 -0.1z"/>
<path fill="#00fcff" d="M93.6 126l0.4 0l2 0l2 0l2 0l2 0l2 0l2 0l2 0l2 0l2 0l2 0l2 0l2 0l2 0l2 0l2 0l2 0l2 0l2 0l2 0l2 0l2 0l2 0l2 0l2 0l2 0l2 0l2 0l2 0l2 0l2 0l2 0l2 0l2 0l0 -2.1l0 -2.1l0 -2.1l0 -2.1l0 -2.1l0 -2.1l0 -2.1l0 -2.1l0 -2.1l0 -2.1l0 -2.1l0 -2.1l0 -2.1l0 -2.1l0 -2.1l0 -2.1l0 -2.1l0 -2.1l0 -2.1l0 -2.1l0 -2.1l0 -2.1l0 -2.1l0 -2.1l0 -2.1l0 -2.1l0 -2.1l0 -2.1l0 -2.1l0 -2.1l0 -2.1l0 -2.1l0 -2.1l0 -2.1l0 -2.1l0 -2.1l0 -2.1l0 -2.1l0 -2.1l0 -2.1l0 -2.1l0 -2.1l0 -2.1l0 -2.1l0 -2.1l0 -2.1l0 -2.1l0 -2.1l0 -2.1l0 -2.1l0 -2.1l0 -1.8l-2 0l-2 0l-2 0.2l-2 0.4l-2 0.7l-0.9 0.5l-1.1 0.5l-2 1.5l-0.1 0.1l-1.9 1.6l-0.5 0.5l-1.5 1.4l-0.6 0.7l-1.4 1.4l-0.7 0.7l-1.3 1.2l-1.1 0.9l-0.9 0.6l-2 1.2l-0.6 0.3l-1.4 0.5l-2 0.5l-2 -0.6l-0.2 -0.4l0.2 -0.7l0.3 -1.4l0.9 -2.1l-1.2 -0.6l-0.5 0.6l-1.5 1.4l-0.5 0.7l-1.5 1.6l-0.4 0.5l-1.6 1.7l-0.3 0.4l-1.7 1.9l-0.2 0.2l-1.8 2l-0.1 0.1l-1.9 2.1l-1.8 2.1l-0.2 0.2l-1.5 1.9l-0.5 0.5l-1 1.6l-1 1.3l-0.3 0.8l-1 2.1l-0.7 0.9l-0.4 1.2l-1.6 2l-0.1 0.1l-1.9 1.7l-0.4 0.4l-1.6 1.6l-0.5 0.5l-1.5 1.5l-1.9 0.6l-0.1 0.1l-2 1.4l-2 0.3l-2 0.1l-1.2 0.2l-0.1 2.1l1.3 1.5l0.5 0.6l1.5 1.4l0.6 0.7l0 2.1l-0.6 0.9l-0.8 1.2l-0.9 2.1l-0.3 2.1l0.2 2.1l0.2 2.1l0.1 2.1l-0.1 2.1l-0.3 2.1l-0.1 0.6l-0.3 1.5l-0.4 2.1l-0.5 2.1l-0.6 2.1l-0.2 0.7l-0.5 1.4l-0.3 2.1l0 2.1l0.1 2.1l0.2 2.1l0.3 2.1l0.2 0.9l0.2 1.2l0.5 2.1l0.5 2.1l0.5 2.1l0.3 1.7l0.1 0.4l0.4 2.1l0.5 2.1zM55.9 86.1l0.1 0l2 0.7l2 0.2l2 -0.2l2 -0.3l2 -0.3l0.2 -0.1l1.3 -2.1l0 -2.1l-0.2 -2.1l-0.2 -2.1l-0.6 -2.1l-0.5 -0.9l-0.7 -1.2l-1.3 -1.7l-0.3 -0.4l-1.1 -2.1l-0.3 -2.1l0.4 -2.1l1.3 -2l0.1 -0.1l1.9 -1.5l0.8 -0.6l1.2 -1.6l0.4 -0.5l0.3 -2.1l-0.5 -2.1l-0.2 -0.4l-0.4 -1.7l0.2 -2.1l0.2 -1.9l0 -0.2l0 -0.1l-2 -1.1l-2 0.5l-1.2 0.7l-0.8 0.4l-2 1l-1.1 0.7l-0.9 0.4l-2 1.1l-0.9 0.6l-1.1 0.6l-2 1.5l-2 0.3l-2 0.4l-2 0.7l-1.6 0.7l-0.4 0.1l-2 0.2l-2 0.4l-2 0.1l-2 0.2l-2 0.2l-2 0.3l-2 0.4l-1 0.2l-1 0.2l-2 0.5l-2 0.6l-2 0.7l-0.4 0.1l-1.6 0.7l-2 0.7l-2 0.7l-0.2 0l-1.8 0.1l-1.8 -0.1l-0.2 0l-2 -0.2l-2 -0.2l-2 -0.1l-2 0.1l-2 0.1l-2 0.3l0 2.1l0 2.1l0 2.1l0 2.1l0 2.1l0 2.1l0 2.1l0 2.1l0 1.1l2 0.4l2 0.2l2 0.2l2 0.1l0.8 0.1l1.2 0.2l2 0.5l2 0.6l2 0.2l2 -0.3l2 -0.4l2 -0.3l2 -0.1l2 0.2l2 0.4l2 0.5l2 0.3l2 -0.3l2 -0.4l2 -0.4l2 -0.1l2 0l2 0.4l2 0.6l1.6 0.5l0.4 0.1l2 0.3l2 0.4l2 0.6zM129.6 25.2l0.4 1l0.7 -1l-0.7 -0.6zM131.7 23.1l0.3 0.5l0.4 -0.5l-0.4 -0.5zM133.7 21l0.3 0.2l0.2 -0.2l-0.2 -0.4zM135.7 18.9l0.3 0.1l0.1 -0.1l0 -2.1l-0.1 0zM137.9 14.7l0.1 1.1l0.7 -1.1l-0.7 -0.3zM139.7 12.6l0.3 0.7l0.5 -0.7l-0.5 -1zM141.3 10.5l0.7 0.3l0.2 -0.3l0.6 -2.1l-0.8 -1l-0.1 1zM143.8 6.3l0.2 0.1l0 -0.1l0.6 -2.1l-0.2 -2.1l-0.4 -0.1l0 0.1l-0.2 2.1zM145.7 0l0.3 1.1l0.3 -1.1l-0.3 0z"/>
<path fill="#04ffd6" d="M132.3 123.9l1.7 0.6l2 0.6l2 0.5l2 0.3l1.8 0.1l0.2 0l2 0l2 0l2 0l2 0l2 0l2 0l0.2 0l1.8 -1.8l0.2 -0.3l1.1 -2.1l0.1 -2.1l-0.9 -2.1l-0.5 -1l-0.7 -1.1l-1.3 -2.1l-1 -2.1l-0.9 -2.1l-0.1 -0.4l-0.6 -1.7l-0.5 -2.1l-0.2 -2.1l0 -2.1l0.4 -2.1l0.7 -2.1l0.2 -0.6l0.6 -1.5l0.7 -2.1l0.7 -2.1l0.6 -2.1l0.6 -2.1l0.4 -2.1l0.4 -2.1l0 -1.3l0 -0.8l0 -0.2l-0.3 -1.9l-0.7 -2.1l-1 -1.9l-0.1 -0.2l0 -2.1l0.1 -0.1l2 -0.8l2 -0.1l2 0l0 -1.1l0 -2.1l0 -2.1l0 -2.1l0 -2.1l0 -2.1l0 -2.1l0 -2.1l0 -2.1l0 -2.1l0 -2.1l0 -2.1l0 -2.1l0 -2.1l0 -2.1l0 -2.1l0 -2.1l0 -2.1l0 -2.1l0 -2.1l0 -2.1l0 -2.1l0 -0.4l-2 -0.2l-2 -0.1l-2 0.2l-2 0.5l-2 0.7l-2 1.1l-0.4 0.3l-1.6 1.2l-1.1 0.9l-0.9 0.8l-1.5 1.3l-0.5 0.4l-2 1.5l-0.3 0.2l-1.7 1.1l-1.8 1l-0.2 0.1l-2 1l-2 1l-2 1.3l-1.1 0.8l-0.9 1l-0.9 1.1l-1.1 1.6l-0.4 0.5l-1.4 2.1l-0.2 0.4l-1.2 1.7l-0.8 1.6l-0.3 0.5l-0.6 2.1l0 2.1l0.4 2.1l0.4 2.1l0.1 0.4l0.3 1.7l1 2.1l0.7 0.6l1.6 1.5l0.4 0.3l2 1.3l0.8 0.5l1.2 0.7l2 1.2l0.3 0.2l1.7 1.1l1.3 1l0.7 0.6l1.6 1.5l0.4 0.4l1.2 1.7l0.8 1.5l0.3 0.6l0.2 2.1l-0.5 1.5l-0.3 0.6l-1.7 1.5l-1.8 0.6l-0.2 0.1l-1.3 -0.1l-0.7 0l-2 -0.7l-2 -1.1l-0.5 -0.3l-1.5 -1l-1.5 -1.1l-0.5 -0.4l-2 -1.7l-2 -2l-0.1 -0.1l-1.6 -2.1l-0.3 -0.7l-0.4 -1.4l-0.1 -2.1l0.1 -2.1l-0.3 -2.1l-0.9 -2.1l-0.4 -0.4l-1.8 -1.7l-0.2 -0.1l-2 -0.7l-2 -0.3l-2 -1l-2 -1.6l-2 -0.1l-2 1.1l-0.6 0.6l-1.4 1.6l-0.6 0.5l-1.4 1.9l-0.2 0.2l0 2.1l0.2 0.6l0.5 1.5l0.6 2.1l0.2 2.1l-0.4 2.1l-0.9 2l0 0.1l-0.7 2.1l-0.1 2.1l0.1 2.1l-0.1 2.1l-0.3 2.1l-0.5 2.1l-0.3 2.1l-0.1 0.8l-0.2 1.3l-0.4 2.1l-0.7 2.1l-0.7 1.3l-0.3 0.8l-1.4 2.1l-0.3 0.8l-0.6 1.3l-0.4 2.1l0.7 2.1l0.3 0.6l0.7 1.5l1.3 1.6l0.9 0.5l1.1 1.4l0.8 0.7l1.2 1.4l0.7 0.7l1.3 1.2l1.2 0.9l0.8 0.6l2 0.9l2 0.4l1 0.2l1 0.2l2 0.3l2 0.3l2 0.3l2 0.3l2 0.3l2 0.2l1.2 0.2l0.8 0.1l2 0.4l2 0.5l2 0.5l2 0.5zM1.3 77.7l0.7 0.6l2 1.1l2 0.1l2 -0.3l2 -1.4l0.1 -0.1l1.8 -2.1l0.1 -0.8l0.4 -1.3l-0.4 -0.6l-0.8 -1.5l-1.2 -1l-2 -0.6l-2 0.1l-2 1.1l-0.6 0.4l-1.4 1l-1 1.1l-0.6 2.1zM50 77.7l2 0.9l2 0.7l2 0.1l1.5 -1.7l-1 -2.1l-0.5 -0.6l-1 -1.5l-1 -1.6l-0.2 -0.5l-0.4 -2.1l0.6 -0.3l1.4 -1.8l0.6 -0.5l1.3 -1.6l0.7 -1.3l0.6 -0.8l0.7 -2.1l0.1 -2.1l0.6 -2l0.1 -0.1l1.7 -2.1l0.2 -0.5l1.1 -1.6l-1.1 -1.1l-2 0.4l-1.7 0.7l-0.3 0.1l-2 0.9l-1.5 1.1l-0.5 0.2l-2 0.7l-2 0.6l-1.4 0.6l-0.6 0.1l-2 0.4l-2 0.7l-1.4 0.9l-0.6 0.3l-2 1.2l-1 0.6l-1 0.5l-2 1.1l-0.7 0.5l-1.3 1l-1.1 1.1l-0.8 2.1l-0.1 2.1l0.6 2.1l1.4 1.6l0.6 0.5l1.4 1.5l1.2 0.6l0.8 0.4l2 0.5l2 0.2l2 0.1l2 -0.1l2 -0.1l2 1.1z"/>
<path fill="#13ffaa" d="M143.1 123.9l0.9 0.3l2 0.7l2 0.4l2 0.3l2 0l2 -1l0.7 -0.7l1 -2.1l0 -2.1l-0.9 -2.1l-0.8 -0.9l-2 -1l-1 -0.2l-1 -0.7l-2 -0.8l-2 -0.5l-0.4 -0.1l-1.6 -1.2l-2 -0.7l-2 -0.2l-2 -1.2l-2 -0.6l-2 -0.2l-0.8 -0.1l-1.2 -0.6l-2 -0.7l-2 -0.4l-2 -0.3l-1.4 -0.1l-0.6 -0.3l-2 -1l-2 -0.5l-2 -0.2l-0.6 -0.1l-1.4 -0.8l-2 -0.6l-2 -0.2l-2 -0.2l-2 -0.3l-0.1 0l-1.9 -1.4l-2 -0.5l-0.7 -0.2l-1.3 -0.8l-2 -0.7l-2 0.2l-1.7 1.3l-0.3 0.2l-1.4 1.9l-0.3 2.1l0.5 2.1l1.2 1.5l0.9 0.6l1.1 1l2 0.9l0.4 0.2l1.6 1.3l2 0.7l0.1 0.1l1.9 1.3l2 0.4l2 0.2l1.5 0.2l0.5 0.2l2 0.7l2 0.5l2 0.4l2 0.3l2 0.9l2 0.5l2 0.4l1.8 0.3l0.2 0.1l2 0.9l2 0.6l2 0.4l0.6 0.1l1.4 0.7l2 0.6l2 0.3l2 0.3zM2.9 77.7l1.1 0.8l2 0.3l2 -0.7l0.6 -0.4l1.4 -1.1l0.9 -1l0.3 -2.1l-1.2 -1.4l-1.5 -0.7l-0.5 -0.3l-2 0.3l-2 0.6l-1.5 1.5l-0.5 1.7l-0.2 0.4l0.2 0.3zM37.2 71.4l0.8 0.4l2 -0.1l1.7 -0.3l0.3 0l2 -0.2l2 -0.2l2 -0.5l1.6 -1.2l0.4 -0.1l2 -0.7l1.5 -1.3l0.5 -0.3l1.8 -1.8l0.2 -0.2l1.4 -1.9l0.4 -2.1l0.1 -2.1l0.1 -0.6l0.5 -1.5l0.5 -2.1l-1 -0.5l-1.3 0.5l-0.7 0.2l-2 0.8l-2 0.8l-0.8 0.3l-1.2 0.2l-2 0.4l-2 0.6l-1.8 0.9l-0.2 0.1l-2 1l-1.3 1l-0.7 0.6l-2 1.5l-2 1.1l-1 1l-0.9 2.1l0.2 2.1l1.7 1.8zM143.1 69.3l0.9 0.7l2 0.3l1.2 -1l0.8 -0.4l1.8 -1.7l0.2 -0.1l2 -1.8l0.3 -0.2l1.7 -1.3l1.5 -0.8l0.5 -0.3l2 -1l1.6 -0.8l0.4 -0.3l0 -1.8l0 -2.1l0 -2.1l0 -2.1l0 -2.1l0 -2.1l0 -2.1l0 -2.1l0 -2.1l0 -2.1l0 -2.1l0 -2.1l0 -2.1l0 -0.7l-2 -1l-1.9 -0.4l-0.1 0l-0.8 0l-1.2 0l-2 0.6l-2 0.9l-1 0.6l-1 0.7l-1.8 1.4l-0.2 0.1l-2 1.6l-0.5 0.4l-1.5 0.9l-2 1.1l-0.2 0.1l-1.8 1.1l-1.7 1l-0.3 0.2l-2 1.5l-0.5 0.4l-1.5 1.8l-0.2 0.3l-1.2 2.1l-0.6 1.6l-0.2 0.5l-0.4 2.1l-0.2 2.1l0.2 2.1l0.6 1.6l0.2 0.5l1.7 2.1l0.1 0.1l2 1.5l0.7 0.5l1.3 0.8l1.8 1.3l0.2 0.2l2 1.7l0.3 0.2l1.7 1.4zM108.9 65.1l1.1 1.3l2 -0.2l0.4 -1.1l-0.4 -0.7l-2 -0.2z"/>
<path fill="#30ff7f" d="M146.8 123.9l1.2 0.4l2 0.5l2 0l1.4 -0.9l0.6 -0.6l1 -1.5l0 -2.1l-1 -1.6l-0.5 -0.5l-1.5 -1l-2 -0.6l-2 -0.5l-0.1 0l-1.9 -0.9l-2 -0.5l-2 -0.4l-1.3 -0.3l-0.7 -0.3l-2 -0.8l-2 -0.5l-2 -0.4l-0.3 -0.1l-1.7 -0.8l-2 -0.6l-2 -0.4l-1.7 -0.3l-0.3 -0.1l-2 -0.8l-2 -0.5l-2 -0.4l-1.3 -0.3l-0.7 -0.3l-2 -0.8l-2 -0.3l-2 -0.3l-2 -0.2l-0.6 -0.2l-1.4 -0.7l-2 -0.9l-1.2 -0.5l-0.8 -0.5l-2 -1l-1.8 -0.6l-0.2 -0.1l-2 0l-0.1 0.1l-1.9 1.3l-0.6 0.8l-0.4 2.1l0.7 2.1l0.3 0.4l2 1.5l0.4 0.2l1.6 1.1l2 0.9l0.1 0.1l1.9 1.2l2 0.9l2 0.7l2 0.4l2 0.3l2 0.3l1.5 0.4l0.5 0.2l2 0.7l2 0.5l2 0.4l1.3 0.3l0.7 0.3l2 0.6l2 0.5l2 0.5l0.7 0.2l1.3 0.6l2 0.6l2 0.5l1.7 0.4l0.3 0.1l2 0.6l2 0.5l2 0.3l2 0.4zM4.1 77.7l1.9 0.5l1.1 -0.5l0.9 -0.2l2 -1.9l0 -0.6l0.3 -1.5l-0.3 -0.3l-2 -1.5l-2 0.1l-2 0.9l-0.8 0.8l-0.8 2.1l1.6 2.1zM35.6 69.3l0.4 0.4l2 0.9l2 -0.2l2 -0.4l2 -0.1l2 -0.3l0.7 -0.3l1.3 -0.2l2 -0.6l2 -1l0.3 -0.3l1.7 -1.2l1 -0.9l1 -1.4l0.5 -0.7l0.6 -2.1l0 -2.1l-0.2 -2.1l-0.9 -0.7l-2 0.4l-0.8 0.3l-1.2 0.3l-2 0.4l-2 0.5l-2 0.6l-0.5 0.3l-1.5 0.6l-2 1.3l-0.2 0.2l-1.8 1.5l-0.8 0.6l-1.2 0.8l-1.7 1.3l-0.3 0.4l-1 1.7z"/>
<path fill="#5cff56" d="M149.7 123.9l0.3 0.1l2 0l0.2 -0.1l1.8 -1.7l0.2 -0.4l0 -2.1l-0.2 -0.4l-1.7 -1.7l-0.3 -0.2l-2 -0.6l-2 -0.6l-2 -0.5l-0.5 -0.2l-1.5 -0.6l-2 -0.5l-2 -0.4l-2 -0.5l-0.2 -0.1l-1.8 -0.7l-2 -0.6l-2 -0.5l-1 -0.3l-1 -0.4l-2 -0.6l-2 -0.4l-2 -0.5l-0.6 -0.2l-1.4 -0.5l-2 -0.6l-2 -0.4l-2 -0.5l-0.2 -0.1l-1.8 -0.5l-2 -0.4l-2 -0.3l-2 -0.5l-0.7 -0.4l-1.3 -0.8l-2 -0.8l-0.9 -0.5l-1.1 -0.6l-2 -0.8l-2 0l-1.8 1.4l-0.2 0.6l-0.4 1.5l0.4 1l0.6 1.1l1.4 1.1l1.7 1l0.3 0.2l2 1.1l1.4 0.8l0.6 0.4l2 1l2 0.5l0.9 0.2l1.1 0.3l2 0.4l2 0.4l2 0.4l2 0.6l0.1 0l1.9 0.6l2 0.5l2 0.5l1.7 0.5l0.3 0.1l2 0.6l2 0.5l2 0.6l0.8 0.3l1.2 0.4l2 0.6l2 0.5l2 0.5l0.4 0.1l1.6 0.4l2 0.5l2 0.3l2 0.5zM2.9 75.6l1.1 1.4l2 0.6l2 -0.6l1.5 -1.4l0.1 -2.1l-1.6 -1.3l-2 -0.1l-2 1.3l-0.1 0.1zM37.3 69.3l0.7 0.3l1.9 -0.3l0.1 0l2 -0.4l2 0l2 -0.1l2 -0.3l2 -0.6l1.1 -0.7l0.9 -0.5l2 -1.5l0.1 -0.1l1.6 -2.1l0.3 -1.1l0.3 -1l0 -2.1l-0.3 -1.1l-2 -0.6l-2 0.4l-2 0.4l-2 0.5l-1.2 0.4l-0.8 0.2l-2 0.9l-1.4 1l-0.6 0.5l-1.7 1.6l-0.3 0.3l-2 1.3l-0.7 0.5l-1.3 1.9l-0.1 0.2l0.1 0.4z"/>
<path fill="#97ff2e" d="M143.2 121.8l0.8 0.2l2 0.4l2 0.3l2 0.4l2 0l1.3 -1.3l0.1 -2.1l-1.4 -1.4l-1.7 -0.7l-0.3 -0.1l-2 -0.5l-2 -0.5l-2 -0.7l-0.9 -0.3l-1.1 -0.3l-2 -0.5l-2 -0.4l-2 -0.7l-0.4 -0.2l-1.6 -0.5l-2 -0.6l-2 -0.5l-1.4 -0.5l-0.6 -0.2l-2 -0.5l-2 -0.5l-2 -0.5l-1 -0.4l-1 -0.3l-2 -0.5l-2 -0.5l-2 -0.4l-1.4 -0.4l-0.6 -0.1l-2 -0.4l-2 -0.4l-2 -1.1l-0.2 -0.1l-1.8 -0.9l-2 -0.9l-0.5 -0.3l-1.5 -0.7l-2 0l-0.8 0.7l-0.8 2.1l1.1 2.1l0.5 0.4l2 1l1 0.7l1 0.6l2 1l0.8 0.5l1.2 0.6l2 0.6l2 0.3l2 0.6l0.2 0l1.8 0.4l2 0.4l2 0.5l2 0.6l0.4 0.2l1.6 0.4l2 0.5l2 0.5l2 0.7l2 0.6l2 0.5l2 0.6l0.9 0.4l1.1 0.4l2 0.4l2 0.4l2 0.5zM3.4 75.6l0.6 0.8l2 0.9l2 -0.7l1.1 -1l0 -2.1l-1.1 -0.9l-2 -0.1l-1.5 1l-0.5 0.9zM36.8 67.2l1.2 1.4l2 -0.2l2 -0.3l2 0.1l2 0l2 -0.3l1.9 -0.7l0.1 0l2 -1.2l1.2 -0.9l0.8 -0.9l0.9 -1.2l0.6 -2.1l-0.1 -2.1l-1.4 -1l-2 0.2l-2 0.4l-1.6 0.4l-0.4 0.1l-2 0.5l-2 1l-0.7 0.5l-1.3 1.2l-1 0.9l-1 1.2l-1.5 0.9l-0.5 0.5z"/>
<path fill="#e3ff0a" d="M146.8 121.8l1.2 0.2l2 0.2l2 -0.1l0.3 -0.3l0.1 -2.1l-0.4 -0.4l-2 -0.5l-2 -0.9l-0.4 -0.3l-1.6 -0.4l-2 -0.4l-2 -0.6l-1.7 -0.7l-0.3 -0.1l-2 -0.4l-2 -0.5l-2 -0.7l-0.8 -0.4l-1.2 -0.3l-2 -0.5l-2 -0.5l-2 -0.8l-2 -0.4l-2 -0.4l-2 -0.6l-1.7 -0.7l-0.3 -0.1l-2 -0.4l-2 -0.4l-2 -0.3l-2 -0.4l-1.2 -0.5l-0.8 -0.2l-2 -0.7l-1.8 -1.2l-0.2 -0.1l-2 -0.7l-2 -1.1l-2 0l-0.6 1.9l0.6 1.2l1 0.9l1 0.5l2 1.2l0.5 0.4l1.5 0.6l2 1.3l0.4 0.2l1.6 0.4l2 0.3l2 0.3l2 0.5l1.4 0.6l0.6 0.1l2 0.4l2 0.4l2 0.7l1.1 0.5l0.9 0.2l2 0.4l2 0.4l2 0.8l0.5 0.3l1.5 0.3l2 0.5l2 0.6l1.4 0.7l0.6 0.1l2 0.4l2 0.3l2 0.4l2 0.6zM3.9 75.6l0.1 0.2l2 1.1l2 -0.7l0.6 -0.6l0 -2.1l-0.6 -0.5l-2 -0.1l-0.9 0.6l-1.1 1.8zM37.8 67.2l0.2 0.3l2 0.1l2 -0.3l2 0.2l2 0.1l2 -0.3l0.2 -0.1l1.8 -0.9l2 -1l0.3 -0.2l1.7 -2l0.1 -0.1l0.7 -2.1l-0.3 -2.1l-0.5 -0.4l-2 0.1l-1.5 0.3l-0.5 0.1l-2 0.4l-2 0.5l-2 1.1l-2 1.9l-0.3 0.2l-1.7 2l-0.1 0.1l-1.9 1.8z"/>
<path fill="#ffe100" d="M135.3 117.6l0.7 0.1l2 0.2l2 0.2l2 0l0.6 -0.5l-0.6 -0.1l-2 -0.2l-2 -0.2l-2 -1.3l-0.1 -0.3l-1.9 -0.2l-2 -0.2l-2 -0.7l-1 -1l-1 -0.1l-2 -0.2l-2 -0.2l-2 -0.6l-0.9 -1l-1.1 -0.1l-2 -0.2l-2 -0.3l-2 -0.8l-0.7 -0.7l-1.3 -0.1l-2 -0.1l-2 0l-2 -0.2l-0.2 0.4l0.2 0l2 0.4l2 0.5l2 1.2l2 0.1l2 0.2l2 0.4l2 0.8l0.7 0.6l1.3 0.1l2 0.2l2 0.5l2 1.2l0.1 0.1l1.9 0.2l2 0.3l2 0.6zM103.7 107.1l0.3 0.1l0.3 -0.1l-0.3 0zM4.4 75.6l1.6 1l2 -0.8l0.2 -0.2l-0.2 -2.1l-2 -0.2l-0.4 0.2zM41.7 65.1l0.3 0.4l2 1l2 0.2l2 -0.4l2 -0.8l0.8 -0.4l1.2 -0.8l1.2 -1.3l0.8 -2.1l-2 -1.8l-2 0.3l-2 0.2l-2 0.6l-1.2 0.7l-0.8 0.6l-1.6 1.5l-0.4 1.6z"/>
<path fill="#ffb500" d="M4.9 75.6l1.1 0.6l1.5 -0.6l-1.5 -1.8zM43.8 65.1l0.2 0.1l2 0.5l2 -0.4l0.6 -0.2l1.4 -0.3l2 -1.6l0.2 -0.2l0.6 -2.1l-0.8 -0.7l-2 -0.3l-2 0.1l-2 0.6l-0.5 0.3l-1.5 1.1l-1.1 1z"/>
<path fill="#ff8a00" d="M5.5 75.6l0.5 0.3l0.7 -0.3l-0.7 -0.8zM43.5 63l0.5 1.1l2 0.8l2 -0.1l2 -0.6l1.4 -1.2l0.1 -2.1l-1.5 -0.5l-2 0l-1.6 0.5l-0.4 0.1l-2 1.5z"/>
<path fill="#ff6000" d="M44 63l2 1.5l2 0l2 -0.9l0.7 -0.6l-0.7 -1.9l-0.4 -0.2l-1.6 -0.1l-0.4 0.1l-1.6 0.5z"/>
<path fill="#ff3800" d="M44.6 63l1.4 1.1l2 0l2 -1.1l-2 -1.7l-2 0.6z"/>
<path fill="#ff1200" d="M45.1 63l0.9 0.7l2 0l1.3 -0.7l-1.3 -1.2l-2 0.5z"/>
<path fill="#ee0000" d="M45.6 63l0.4 0.3l2 0.1l0.7 -0.4l-0.7 -0.6l-2 0.3z"/>
<path fill="#c50000" d="M47.5 63l0.5 0l0.1 0l-0.1 0z"/></g>
<g id="fld_d"><rect x="0" y="0" width="160" height="126" fill="#0000fa"/>
<path fill="#0007ff" d="M0 126l2 0l2 0l2 0l2 0l2 0l2 0l2 0l2 0l2 0l2 0l2 0l2 0l2 0l2 0l2 0l2 0l2 0l2 0l2 0l2 0l2 0l2 0l2 0l2 0l2 0l2 0l2 0l2 0l2 0l2 0l2 0l2 0l2 0l2 0l2 0l2 0l2 0l2 0l2 0l2 0l2 0l2 0l2 0l2 0l2 0l2 0l2 0l2 0l2 0l2 0l2 0l2 0l2 0l2 0l2 0l2 0l2 0l2 0l2 0l2 0l2 0l2 0l2 0l2 0l2 0l2 0l2 0l2 0l2 0l2 0l2 0l2 0l2 0l2 0l2 0l2 0l2 0l2 0l2 0l2 0l0 -2.1l0 -2.1l0 -2.1l0 -2.1l0 -2.1l0 -2.1l0 -2.1l0 -2.1l0 -2.1l0 -2.1l0 -2.1l0 -2.1l0 -2.1l0 -2.1l0 -2.1l0 -2.1l0 -2.1l0 -2.1l0 -2.1l0 -2.1l0 -2.1l0 -2.1l0 -2.1l0 -2.1l0 -2.1l0 -2.1l0 -2.1l0 -2.1l0 -2.1l0 -2.1l0 -2.1l0 -2.1l0 -2.1l0 -2.1l0 -2.1l0 -2.1l0 -2.1l0 -2.1l0 -2.1l0 -2.1l0 -2.1l0 -2.1l0 -2.1l0 -2.1l0 -2.1l0 -2.1l0 -2.1l0 -2.1l0 -2.1l0 -2.1l0 -2.1l0 -2.1l0 -2.1l0 -2.1l0 -2.1l0 -2.1l0 -2.1l0 -2.1l0 -2.1l0 -2.1l-2 0l-2 0l-2 0l-2 0l-2 0l-2 0l-2 0l-2 0l-2 0l-2 0l-2 0l-2 0l-2 0l-2 0l-2 0l-2 0l-2 0l-2 0l-2 0l-2 0l-2 0l-2 0l-2 0l-2 0l-2 0l-2 0l-2 0l-2 0l-2 0l-2 0l-2 0l-2 0l-2 0l-2 0l-2 0l-2 0l-2 0l-2 0l-2 0l-2 0l-2 0l-2 0l-2 0l-2 0l-2 0l-2 0l-2 0l-2 0l-2 0l-2 0l-2 0l-2 0l-2 0l-2 0l-2 0l-2 0l-2 0l-2 0l-2 0l-2 0l-2 0l-2 0l-2 0l-2 0l-2 0l-2 0l-2 0l-2 0l-2 0l-2 0l-2 0l-2 0l-2 0l-2 0l-2 0l-2 0l-2 0l-2 0l-2 0l-2 0l0 2.1l0 2.1l0 2.1l0 2.1l0 2.1l0 2.1l0 2.1l0 2.1l0 2.1l0 2.1l0 2.1l0 2.1l0 2.1l0 2.1l0 2.1l0 2.1l0 2.1l0 2.1l0 2.1l0 2.1l0 2.1l0 2.1l0 2.1l0 2.1l0 2.1l0 2.1l0 2.1l0 2.1l0 2.1l0 2.1l0 2.1l0 2.1l0 2.1l0 2.1l0 2.1l0 2.1l0 2.1l0 2.1l0 2.1l0 2.1l0 2.1l0 2.1l0 2.1l0 2.1l0 2.1l0 2.1l0 2.1l0 2.1l0 2.1l0 2.1l0 2.1l0 2.1l0 2.1l0 2.1l0 2.1l0 2.1l0 2.1l0 2.1l0 2.1z"/>
<path fill="#0030ff" d="M0 126l2 0l2 0l2 0l2 0l2 0l2 0l2 0l2 0l2 0l2 0l2 0l2 0l2 0l2 0l2 0l2 0l2 0l2 0l2 0l2 0l2 0l2 0l2 0l2 0l2 0l2 0l2 0l2 0l2 0l2 0l2 0l2 0l2 0l2 0l2 0l2 0l2 0l2 0l2 0l2 0l2 0l2 0l2 0l2 0l2 0l2 0l2 0l2 0l2 0l2 0l2 0l2 0l2 0l2 0l2 0l2 0l2 0l2 0l2 0l2 0l2 0l2 0l2 0l2 0l2 0l2 0l2 0l2 0l2 0l2 0l2 0l2 0l2 0l2 0l2 0l2 0l2 0l2 0l2 0l2 0l0 -2.1l0 -2.1l0 -2.1l0 -2.1l0 -2.1l0 -2.1l0 -2.1l0 -2.1l0 -2.1l0 -2.1l0 -2.1l0 -2.1l0 -2.1l0 -2.1l0 -2.1l0 -2.1l0 -2.1l0 -2.1l0 -2.1l0 -2.1l0 -2.1l0 -2.1l0 -2.1l0 -2.1l0 -2.1l0 -2.1l0 -2.1l0 -2.1l0 -2.1l0 -2.1l0 -2.1l0 -2.1l0 -2.1l0 -2.1l0 -2.1l0 -2.1l0 -2.1l0 -2.1l0 -2.1l0 -2.1l0 -2.1l0 -2.1l0 -2.1l0 -2.1l0 -2.1l0 -2.1l0 -2.1l0 -2.1l0 -2.1l0 -2.1l0 -2.1l0 -2.1l0 -2.1l0 -2.1l0 -2.1l0 -2.1l0 -2.1l0 -2.1l0 -2.1l0 -2.1l-2 0l-2 0l-2 0l-2 0l-2 0l-2 0l-2 0l-2 0l-2 0l-2 0l-2 0l-2 0l-2 0l-2 0l-2 0l-2 0l-2 0l-2 0l-2 0l-2 0l-2 0l-2 0l-2 0l-2 0l-2 0l-2 0l-2 0l-2 0l-2 0l-2 0l-2 0l-2 0l-2 0l-2 0l-2 0l-2 0l-2 0l-2 0l-2 0l-2 0l-2 0l-2 0l-2 0l-2 0l-2 0l-2 0l-2 0l-2 0l-2 0l-2 0l-2 0l-2 0l-2 0l-2 0l-2 0l-2 0l-2 0l-2 0l-2 0l-2 0l-2 0l-2 0l-2 0l-2 0l-2 0l-2 0l-2 0l-2 0l-2 0l-2 0l-2 0l-2 0l-2 0l-2 0l-2 0l-2 0l-2 0l-2 0l-2 0l-2 0l0 2.1l0 2.1l0 2.1l0 2.1l0 2.1l0 2.1l0 2.1l0 2.1l0 2.1l0 2.1l0 2.1l0 2.1l0 2.1l0 2.1l0 2.1l0 2.1l0 2.1l0 2.1l0 2.1l0 2.1l0 2.1l0 2.1l0 2.1l0 2.1l0 2.1l0 2.1l0 2.1l0 2.1l0 2.1l0 2.1l0 2.1l0 2.1l0 2.1l0 2.1l0 2.1l0 2.1l0 2.1l0 2.1l0 2.1l0 2.1l0 2.1l0 2.1l0 2.1l0 2.1l0 2.1l0 2.1l0 2.1l0 2.1l0 2.1l0 2.1l0 2.1l0 2.1l0 2.1l0 2.1l0 2.1l0 2.1l0 2.1l0 2.1l0 2.1z"/>
<path fill="#0059ff" d="M0 126l2 0l2 0l2 0l2 0l2 0l2 0l2 0l2 0l2 0l2 0l2 0l2 0l2 0l2 0l2 0l2 0l2 0l2 0l2 0l2 0l2 0l2 0l2 0l2 0l2 0l2 0l2 0l2 0l2 0l2 0l2 0l2 0l2 0l2 0l2 0l2 0l2 0l2 0l2 0l2 0l2 0l2 0l2 0l2 0l2 0l2 0l2 0l2 0l2 0l2 0l2 0l2 0l2 0l2 0l2 0l2 0l2 0l2 0l2 0l2 0l2 0l2 0l2 0l2 0l2 0l2 0l2 0l2 0l2 0l2 0l2 0l2 0l2 0l2 0l2 0l2 0l2 0l2 0l2 0l2 0l0 -2.1l0 -2.1l0 -2.1l0 -2.1l0 -2.1l0 -2.1l0 -2.1l0 -2.1l0 -2.1l0 -2.1l0 -2.1l0 -2.1l0 -2.1l0 -2.1l0 -2.1l0 -2.1l0 -2.1l0 -2.1l0 -2.1l0 -2.1l0 -2.1l0 -2.1l0 -2.1l0 -2.1l0 -2.1l0 -2.1l0 -2.1l0 -2.1l0 -2.1l0 -2.1l0 -2.1l0 -2.1l0 -2.1l0 -2.1l0 -2.1l0 -2.1l0 -2.1l0 -2.1l0 -2.1l0 -2.1l0 -2.1l0 -2.1l0 -2.1l0 -2.1l0 -2.1l0 -2.1l0 -2.1l0 -2.1l0 -2.1l0 -2.1l0 -2.1l0 -2.1l0 -2.1l0 -2.1l0 -2.1l0 -2.1l0 -2.1l0 -2.1l0 -2.1l0 -2.1l-2 0l-2 0l-2 0l-2 0l-2 0l-2 0l-2 0l-2 0l-2 0l-2 0l-2 0l-2 0l-2 0l-2 0l-2 0l-2 0l0 0.1l0.3 2l0.2 2.1l0.1 2.1l-0.1 2.1l-0.2 2.1l-0.3 1.7l-0.1 0.4l-1 2.1l-0.9 1.5l-0.5 0.6l-1.5 1.5l-0.8 0.6l-1.2 0.7l-2 0.7l-2 0.3l-2 0l-2 -0.2l-2 -0.4l-2 -0.5l-1.2 -0.6l-0.8 -0.5l-1.6 -1.6l-0.4 -0.6l-0.7 -1.5l-0.6 -2.1l-0.2 -2.1l0.1 -2.1l0.4 -2.1l0.6 -2.1l0.4 -1.2l0.3 -0.9l1 -2.1l-1.3 0l-2 0l-2 0l-2 0l-2 0l-2 0l-2 0l-2 0l-2 0l-2 0l-2 0l-2 0l-2 0l-2 0l-2 0l-2 0l-2 0l-2 0l-2 0l-2 0l-2 0l-2 0l-2 0l-2 0l-2 0l-2 0l-2 0l-2 0l-2 0l-2 0l-2 0l-2 0l-2 0l-2 0l-2 0l-2 0l-2 0l-2 0l-2 0l-2 0l-2 0l-2 0l-2 0l-2 0l-2 0l-2 0l-2 0l-2 0l-2 0l-2 0l-2 0l-2 0l-2 0l-2 0l0 2.1l0 2.1l0 2.1l0 2.1l0 2.1l0 2.1l0 2.1l0 2.1l0 2.1l0 2.1l0 2.1l0 2.1l0 2.1l0 2.1l0 2.1l0 2.1l0 2.1l0 2.1l0 2.1l0 2.1l0 2.1l0 2.1l0 2.1l0 2.1l0 2.1l0 2.1l0 2.1l0 2.1l0 2.1l0 2.1l0 2.1l0 2.1l0 2.1l0 2.1l0 2.1l0 2.1l0 2.1l0 2.1l0 2.1l0 2.1l0 2.1l0 2.1l0 2.1l0 2.1l0 2.1l0 2.1l0 2.1l0 2.1l0 2.1l0 2.1l0 2.1l0 2.1l0 2.1l0 2.1l0 2.1l0 2.1l0 2.1l0 2.1l0 2.1z"/>
<path fill="#0082ff" d="M0 126l2 0l2 0l2 0l2 0l2 0l2 0l2 0l2 0l2 0l2 0l2 0l2 0l2 0l2 0l2 0l2 0l2 0l2 0l2 0l2 0l2 0l2 0l2 0l2 0l2 0l2 0l2 0l2 0l2 0l2 0l2 0l2 0l2 0l2 0l2 0l2 0l2 0l2 0l2 0l2 0l2 0l2 0l2 0l2 0l2 0l2 0l2 0l2 0l2 0l2 0l2 0l2 0l2 0l2 0l2 0l2 0l2 0l2 0l2 0l2 0l2 0l2 0l2 0l2 0l2 0l2 0l2 0l2 0l2 0l2 0l2 0l2 0l2 0l2 0l2 0l2 0l2 0l2 0l2 0l2 0l0 -2.1l0 -2.1l0 -2.1l0 -2.1l0 -2.1l0 -2.1l0 -2.1l0 -2.1l0 -2.1l0 -2.1l0 -2.1l0 -2.1l0 -2.1l0 -2.1l0 -2.1l0 -2.1l0 -2.1l0 -2.1l0 -2.1l0 -2.1l0 -2.1l0 -2.1l0 -2.1l0 -2.1l0 -2.1l0 -2.1l0 -2.1l0 -2.1l0 -2.1l0 -2.1l0 -2.1l0 -2.1l0 -2.1l0 -2.1l0 -2.1l0 -2.1l0 -2.1l0 -2.1l0 -2.1l0 -2.1l0 -2.1l0 -2.1l0 -2.1l0 -2.1l0 -2.1l0 -2.1l0 -2.1l0 -2.1l0 -2.1l0 -2.1l0 -2.1l0 -2.1l0 -2.1l0 -2.1l0 -2.1l0 -2.1l0 -2.1l0 -2.1l0 -2.1l0 -2.1l-2 0l-2 0l-2 0l-2 0l-2 0l-2 0l-2 0l-2 0l-2 0l-1.9 0l-0.1 0.3l-1.2 1.8l-0.6 2.1l-0.2 1.1l-0.6 1l-1.2 2.1l-0.2 0.5l-1.3 1.6l-0.7 1.3l-0.5 0.8l-1.4 2.1l-0.1 0.2l-1.4 1.9l-0.6 0.7l-1.1 1.4l-0.9 1.2l-0.8 0.9l-1.2 1.4l-0.8 0.7l-1.2 1.4l-0.9 0.7l-1.1 1.4l-0.8 0.7l-1.2 1.7l-0.4 0.4l-1.6 2.1l-1.9 2.1l-0.1 0.2l-1.8 1.9l-0.2 0.3l-1.7 1.8l-0.3 0.4l-1.6 1.7l-0.4 0.5l-1.6 1.6l-0.4 0.6l-1.5 1.5l-0.5 1.7l-1.2 0.4l-0.8 1.8l-0.5 -1.8l-1.5 -0.9l-2 0.9l-2 2l0 0.1l-2 2.1l-2 1.4l-2 0.1l-1.7 -1.5l-0.3 -0.2l-1.7 -1.9l-0.3 -0.3l-1.3 -1.8l-0.7 -0.9l-1 -1.2l-1 -1.3l-0.7 -0.8l-1.3 -1.6l-0.4 -0.5l-1.6 -1.8l-0.3 -0.3l-1.7 -1.7l-0.5 -0.4l-1.5 -1.1l-1.5 -1l-0.5 -0.3l-2 -1.2l-1.2 -0.6l-0.8 -0.4l-2 -1.2l-0.8 -0.5l-1.2 -0.9l-1.6 -1.2l-0.4 -0.4l-2 -1.6l-0.1 -0.1l-1.9 -1.6l-0.6 -0.5l-1.4 -1.3l-0.9 -0.8l-1.1 -1.1l-1.1 -1l-0.9 -0.9l-1.3 -1.2l-0.7 -0.7l-1.9 -1.4l-0.1 -0.1l-2 -0.7l-2 0.2l-1.3 0.6l-0.7 0.3l-2 -0.2l-0.2 -0.1l-1.8 -1.8l-2 0l-0.6 -0.3l-1.4 -1.7l-0.8 -0.4l-1.2 -1.6l-0.8 -0.5l-1.2 -2l-0.1 -0.1l0.1 -2.1l0 -0.5l0.1 -1.6l-0.1 -1.3l-0.1 -0.8l-1.9 0l-2 0l-2 0l-2 0l-2 0l-2 0l-2 0l-1.9 0l1.9 1.2l1.2 0.9l0.8 0.8l1 1.3l0.8 2.1l-0.2 2.1l-1.3 2.1l-0.3 0.2l-2 1.1l-2 0.8l-2 -0.2l-2 -0.3l-2 -0.1l-2 0l-2 0.2l-2 0.3l-0.6 0.1l-1.4 0.1l-1.6 -0.1l-0.4 0l0 2.1l0 2.1l0 2.1l0 2.1l0 2.1l0 2.1l0 2.1l0 2.1l0 2.1l0 2.1l0 2.1l0 2.1l0 2.1l0 2.1l0 2.1l0 2.1l0 2.1l0 2.1l0 2.1l0 2.1l0 2.1l0 2.1l0 2.1l0 2.1l0 2.1l0 2.1l0 2.1l0 2.1l0 2.1l0 2.1l0 2.1l0 2.1l0 2.1l0 2.1l0 2.1l0 2.1l0 2.1l0 2.1l0 2.1l0 2.1l0 2.1l0 2.1l0 2.1l0 2.1l0 2.1l0 2.1l0 2.1l0 2.1l0 2.1l0 2.1l0 2.1l0 2.1l0 2.1zM24 117.8l-0.7 -0.2l-1.3 -0.3l-2 -0.8l-1.7 -1l-0.3 -0.2l-2 -1.9l-1.2 -2.1l-0.7 -2.1l-0.1 -0.8l-0.2 -1.3l-0.2 -2.1l-0.1 -2.1l0.1 -2.1l0.2 -2.1l0.2 -0.5l0.8 -1.6l1.2 -0.9l2 -1.2l0.1 0l1.9 -0.6l2 -0.5l2 -0.4l2 0.1l2 0.2l2 0.2l2 0.1l2 -0.1l2 -0.1l2 -0.3l2 -0.1l2 0.4l2 0.6l1.8 0.5l0.2 0.1l2 1l1.4 1l0.6 1.7l0.1 0.4l-0.1 2.1l-0.6 2.1l-0.8 2.1l-0.6 1.1l-0.6 1l-1.4 2.1l0 0.1l-1.6 2l-0.4 0.5l-1.7 1.6l-0.3 0.3l-2 1.5l-0.7 0.3l-1.3 0.7l-2 0.7l-2 0.5l-1 0.2l-1 0.2l-2 0.2l-2 0.1l-2 0z"/>
<path fill="#00aaff" d="M64 126l2 0l2 0l2 0l2 0l2 0l2 0l2 0l2 0l2 0l2 0l2 0l2 0l2 0l2 0l2 0l2 0l2 0l2 0l2 0l2 0l2 0l2 0l2 0l2 0l2 0l2 0l2 0l2 0l2 0l2 0l2 0l2 0l2 0l2 0l2 0l2 0l2 0l2 0l2 0l2 0l2 0l2 0l2 0l2 0l2 0l2 0l2 0l2 0l0 -2.1l0 -2.1l0 -2.1l0 -2.1l0 -2.1l0 -2.1l0 -2.1l0 -2.1l0 -2.1l0 -2.1l0 -2.1l0 -2.1l0 -2.1l0 -2.1l0 -2.1l0 -2.1l0 -2.1l0 -2.1l0 -2.1l0 -2.1l0 -2.1l0 -2.1l0 -2.1l0 -2.1l0 -2.1l0 -2.1l0 -2.1l0 -2.1l0 -2.1l0 -2.1l0 -2.1l0 -2.1l0 -2.1l0 -2.1l0 -2.1l0 -2.1l0 -2.1l0 -2.1l0 -2.1l0 -2.1l0 -2.1l0 -2.1l0 -2.1l0 -2.1l0 -2.1l0 -2.1l0 -2.1l0 -2.1l0 -2.1l0 -2.1l0 -2.1l0 -2.1l0 -2.1l0 -2.1l0 -2.1l0 -2.1l0 -2.1l0 -2.1l0 -2.1l0 -2.1l-2 0l-2 0l-2 0l-2 0l-2 0l-2 0l-2 0l-2 0l-2 0l-0.2 0l-0.9 2.1l-0.7 2.1l-0.2 0.5l-0.8 1.6l-0.9 2.1l-0.3 0.5l-1.2 1.6l-0.8 1.2l-0.7 0.9l-1.2 2.1l-0.1 0.1l-1.5 2l-0.5 0.6l-1.3 1.5l-0.7 0.8l-1.1 1.3l-0.9 1l-1 1.1l-1 1.2l-0.8 0.9l-1.2 1.4l-0.6 0.7l-1.4 1.8l-0.2 0.3l-1.7 2.1l-0.1 0.1l-1.6 2l-0.4 0.4l-1.5 1.7l-0.5 0.6l-1.3 1.5l-0.7 0.8l-1.2 1.3l-0.8 0.9l-1.1 1.2l-0.9 1.1l-0.9 1l-1 2.1l-0.1 0.2l-1.1 1.9l-0.9 2l-0.1 0.1l-1.2 2.1l-0.7 1.1l-0.9 1l-1.1 1l-1 1.1l-1 1l-2 0.6l-2 0.3l-2 -0.1l-2 -1l-2 -0.8l-2 -1.5l-0.5 -0.6l-1.5 -1.8l-0.3 -0.3l-1.7 -2l-0.1 -0.1l-1.8 -2.1l-0.1 -0.1l-1.8 -2l-0.2 -0.2l-1.7 -1.9l-0.3 -0.3l-1.6 -1.8l-0.4 -0.4l-1.9 -1.7l-0.1 -0.1l-2 -1.5l-0.6 -0.5l-1.4 -1.1l-1.2 -1l-0.8 -0.6l-2 -1.5l-2 -1.4l-0.9 -0.7l-1.1 -0.9l-1.5 -1.2l-0.5 -0.4l-2 -1.7l-2 -1.7l-0.5 -0.4l-1.5 -1.3l-0.9 -0.8l-1.1 -1l-1.3 -1.1l-0.7 -0.7l-2 -1.2l-2 0.3l-0.4 -0.5l-1.6 -1.1l-1.2 -1l-0.8 -0.7l-2 -0.9l-0.9 1.6l-0.7 2.1l-0.2 2.1l0.3 2.1l0.6 2.1l0.9 1.6l0.4 0.5l1.6 1.7l0.4 0.4l1.6 1.4l0.9 0.7l1.1 1l1.2 1.1l0.8 0.9l1.2 1.2l0.8 1.2l0.6 0.9l0.5 2.1l-1.1 2l-0.1 0.1l-1.9 0.9l-2 0.5l-2 0.3l-2 0l-2 -0.1l-2 -0.2l-2 -0.2l-2 -0.2l-2 -0.4l-2 -0.4l-1 -0.2l-1 -0.3l-2 -0.6l-2 -0.7l-1.5 -0.5l-0.5 -0.2l-2 -0.7l-2 -0.7l-2 -0.5l-2 -0.5l-2 -0.2l-2 -0.1l-2 0l-2 0.2l-2 0.3l-2 0.2l-2 0.1l0 2.1l0 2.1l0 2.1l0 2.1l0 2.1l0 2.1l0 2.1l0 2.1l0 2.1l0 2.1l0 2.1l0 2.1l0 2.1l0 2.1l0 2.1l0 2.1l0 2.1l0 2.1l0 2.1l0 2.1l0 2.1l0 2.1l0 2.1l0 2.1l0 2.1l0 2.1l0 2.1l0 2.1l0 2.1l0 2.1l0 2.1l0 2.1l0 1.4l1.7 -1.4l0.3 -0.3l1.2 -1.8l0.8 -1.9l0.1 -0.2l0.5 -2.1l0.5 -2.1l0.9 -1.9l0.1 -0.2l1.8 -2.1l0.1 0l2 -1.2l2 -0.7l1 -0.2l1 -0.1l2 -0.2l2 -0.2l2 -0.2l2 -0.2l2 -0.2l2 0.1l2 0.1l2 0.1l2 0l2 0l2 -0.1l2 -0.1l2 0l2 0.2l2 0.4l1.9 0.4l0.1 0l2 0.6l2 0.6l1.8 0.9l0.2 0.1l1.7 2l0.3 0.5l1.1 1.6l0.9 1.9l0.1 0.2l0.9 2.1l0.5 2.1l0.1 2.1l-0.3 2.1l-0.1 2.1l0.4 2.1l0.4 0.9l1.1 1.2l0.9 1.1l1.2 1l0.8 1.5l0.2 0.6l0.6 2.1l0.4 2.1l0.4 2.1z"/>
<path fill="#00d3ff" d="M83.7 126l0.3 0l2 0l2 0l2 0l2 0l2 0l2 0l2 0l2 0l2 0l2 0l2 0l2 0l2 0l2 0l2 0l2 0l2 0l2 0l2 0l2 0l2 0l2 0l2 0l2 0l2 0l2 0l2 0l2 0l2 0l2 0l2 0l2 0l2 0l2 0l2 0l2 0l2 0l2 0l0 -2.1l0 -2.1l0 -2.1l0 -2.1l0 -2.1l0 -2.1l0 -2.1l0 -2.1l0 -2.1l0 -2.1l0 -2.1l0 -2.1l0 -2.1l0 -2.1l0 -2.1l0 -2.1l0 -2.1l0 -2.1l0 -2.1l0 -2.1l0 -2.1l0 -2.1l0 -2.1l0 -2.1l0 -2.1l0 -2.1l0 -2.1l0 -2.1l0 -2.1l0 -2.1l0 -2.1l0 -2.1l0 -2.1l0 -2.1l0 -2.1l0 -2.1l0 -2.1l0 -2.1l0 -2.1l0 -2.1l0 -2.1l0 -2.1l0 -2.1l0 -2.1l0 -2.1l0 -2.1l0 -2.1l0 -2.1l0 -2.1l0 -2.1l0 -2.1l0 -2.1l0 -2.1l0 -2.1l0 -2.1l0 -2.1l0 -2.1l0 -2.1l0 -0.8l-2 -0.8l-0.4 -0.5l-1.1 -2.1l-0.5 0l-2 0l-2 0l-2 0l-2 0l-2 0l-2 0l-1 0l-1 2.1l-0.7 2.1l-0.8 2.1l-0.5 1l-0.5 1.1l-1.4 2.1l-0.1 0.1l-1.2 2l-0.8 1l-0.7 1.1l-1.3 1.8l-0.3 0.3l-1.7 2.1l-1.7 2.1l-0.3 0.3l-1.5 1.8l-0.5 0.5l-1.3 1.6l-0.7 0.8l-1.1 1.3l-0.9 1.1l-0.8 1l-1.2 1.4l-0.6 0.7l-1.4 1.7l-0.4 0.4l-1.6 1.9l-0.2 0.2l-1.8 2.1l-1.8 2.1l-0.2 0.3l-1.6 1.8l-0.4 0.5l-1.4 1.6l-0.6 0.8l-0.7 1.3l-1.2 2.1l-0.1 0.2l-0.9 1.9l-1.1 1.9l-0.1 0.2l-1.3 2.1l-0.6 0.5l-1.6 1.6l-0.4 0.4l-1.6 1.7l-0.4 0.4l-2 0.5l-2 0.4l-2 0.2l-2 -0.6l-2 -0.7l-0.7 -0.2l-1.3 -0.4l-2 -1.5l-0.3 -0.2l-1.7 -1.5l-0.8 -0.6l-1.2 -1.1l-1.2 -1l-0.8 -0.8l-1.4 -1.3l-0.6 -0.6l-1.4 -1.5l-0.6 -0.6l-1.5 -1.5l-0.5 -0.6l-1.2 -1.5l-0.8 -0.7l-1.9 -1.4l-0.1 0l-2 -1.2l-1.4 -0.9l-0.6 -0.4l-2 -1.3l-0.8 -0.4l-1.2 -0.7l-1.2 0.7l0.7 2.1l0.1 2.1l-1 2.1l-0.6 0.5l-2 1.6l-2 1.1l-2 1l-2 0.8l-2 0.7l-2 0.6l-0.3 0l-1.7 0.2l-2 0.2l-2 0l-2 0l-2 -0.1l-2 -0.1l-2 -0.1l-2 -0.1l-0.1 0l-1.9 0l-2 0l-2 0l-2 0l-2 0l-1.8 0l-0.2 0l-2 0l-2 0l-2 0l-2 0.1l-2 0l-2 0l-2 0l-2 0l-2 -0.1l-2 0l0 2.1l0 2.1l0 2.1l0 2.1l0 2.1l0 2.1l0 2.1l0 2.1l0 2.1l0 2.1l0 2.1l0 2.1l0 2.1l0 2.1l0 2.1l0 2.1l0 2.1l0 2.1l0.1 0l1.9 -0.5l2 -0.3l2 -0.3l2 -0.2l2 -0.2l2 0l2 0l2 0l2 -0.1l2 -0.2l2 -0.2l1.9 -0.1l0.1 0l0.1 0l1.9 0.1l2 0.1l2 0.2l2 0.1l2 -0.1l2 -0.1l2 -0.2l2 -0.1l2 0.2l2 0.3l2 0.5l2 0.5l2 0.5l0.3 0.1l1.7 0.7l2 1.3l0.1 0.1l1.9 2.1l2 1.2l2 0.6l2 0.3l2 0.3l2 0.5l2 0.7l1.2 0.6l0.8 0.5l2 1.2l0.5 0.4l1.5 1.2l1 0.9l1 1.1l0.9 1l1.1 1.3l0.7 0.8l1.3 1.6l0.4 0.5l1 2.1l0.6 1.9l0.1 0.2l0.3 2.1l0.1 2.1l0 2.1l0.2 2.1l0.2 2.1l0.4 2.1zM59.8 35.7l0.2 0.3l0.1 -0.3l-0.1 -0.1z"/>
<path fill="#00fcff" d="M93.6 126l0.4 0l2 0l2 0l2 0l2 0l2 0l2 0l2 0l2 0l2 0l2 0l2 0l2 0l2 0l2 0l2 0l2 0l2 0l2 0l2 0l2 0l2 0l2 0l2 0l2 0l2 0l2 0l2 0l2 0l2 0l2 0l2 0l2 0l2 0l0 -2.1l0 -2.1l0 -2.1l0 -2.1l0 -2.1l0 -2.1l0 -2.1l0 -2.1l0 -2.1l0 -2.1l0 -2.1l0 -2.1l0 -2.1l0 -2.1l0 -2.1l0 -2.1l0 -2.1l0 -2.1l0 -2.1l0 -2.1l0 -2.1l0 -2.1l0 -2.1l0 -2.1l0 -2.1l0 -2.1l0 -2.1l0 -2.1l0 -2.1l0 -2.1l0 -2.1l0 -2.1l0 -2.1l0 -2.1l0 -2.1l0 -2.1l0 -2.1l0 -2.1l0 -2.1l0 -2.1l0 -2.1l0 -2.1l0 -2.1l0 -2.1l0 -2.1l0 -2.1l0 -2.1l0 -2.1l0 -2.1l0 -2.1l0 -2.1l0 -1.8l-2 0l-2 0.1l-2 0.2l-2 0.4l-2 0.7l-0.7 0.4l-1.3 0.7l-1.9 1.4l-0.1 0.1l-2 1.7l-0.3 0.3l-1.7 1.8l-0.3 0.3l-1.7 1.8l-0.2 0.3l-1.8 1.6l-0.6 0.5l-1.4 1l-1.7 1.1l-0.3 0.2l-2 0.8l-2 0.8l-1.5 0.3l-0.5 0.1l-0.5 -0.1l-0.6 -2.1l0.7 -2.1l-1.6 -0.4l-0.3 0.4l-1.7 1.8l-0.2 0.3l-1.8 1.9l-0.2 0.2l-1.8 2l0 0.1l-1.9 2.1l-0.1 0.1l-1.5 2l-0.5 0.5l-1.3 1.6l-0.7 0.6l-1.2 1.5l-0.8 0.8l-0.8 1.3l-1.2 1.6l-0.2 0.5l-0.9 2.1l-0.9 1.2l-0.3 0.9l-1.7 2.1l-2 1.8l-0.3 0.3l-1.7 1.7l-0.4 0.4l-1.6 1.5l-1.8 0.6l-0.2 0.2l-2 1.3l-2 0.4l-2 0l-1 0.2l-0.1 2.1l1.1 1.3l0.7 0.8l1.3 1.2l0.7 0.9l0 2.1l-0.7 1.1l-0.7 1l-1 2.1l-0.3 2.1l0.2 2.1l0.2 2.1l0.1 2.1l-0.1 2.1l-0.3 2.1l-0.1 0.7l-0.2 1.4l-0.5 2.1l-0.5 2.1l-0.6 2.1l-0.2 0.7l-0.5 1.4l-0.3 2.1l0 2.1l0.1 2.1l0.2 2.1l0.3 2.1l0.2 0.9l0.2 1.2l0.5 2.1l0.5 2.1l0.5 2.1l0.3 1.7l0.1 0.4l0.4 2.1l0.5 2.1zM55.9 86.1l0.1 0l2 0.7l2 0.2l2 -0.2l2 -0.3l2 -0.3l0.2 -0.1l1.3 -2.1l0 -2.1l-0.2 -2.1l-0.2 -2.1l-0.6 -2.1l-0.5 -0.9l-0.7 -1.2l-1.3 -1.7l-0.3 -0.4l-1.1 -2.1l-0.3 -2.1l0.4 -2.1l1.3 -2l0.1 -0.1l1.9 -1.5l0.8 -0.6l1.2 -1.6l0.4 -0.5l0.3 -2.1l-0.5 -2.1l-0.2 -0.3l-0.4 -1.8l0.1 -2.1l0.3 -1.9l0 -0.2l0 -0.1l-2 -1.1l-2 0.5l-1.2 0.7l-0.8 0.4l-2 1l-1.1 0.7l-0.9 0.4l-2 1.1l-0.9 0.6l-1.1 0.6l-2 1.5l-2 0.3l-2 0.4l-2 0.7l-1.6 0.7l-0.4 0.1l-2 0.2l-2 0.4l-2 0.1l-2 0.2l-2 0.2l-2 0.3l-2 0.4l-1 0.2l-1 0.2l-2 0.5l-2 0.6l-2 0.7l-0.4 0.1l-1.6 0.7l-2 0.7l-2 0.7l-0.2 0l-1.8 0.1l-1.8 -0.1l-0.2 0l-2 -0.2l-2 -0.2l-2 -0.1l-2 0.1l-2 0.1l-2 0.3l0 2.1l0 2.1l0 2.1l0 2.1l0 2.1l0 2.1l0 2.1l0 2.1l0 1.1l2 0.4l2 0.2l2 0.2l2 0.1l0.8 0.1l1.2 0.2l2 0.5l2 0.6l2 0.2l2 -0.3l2 -0.4l2 -0.3l2 -0.1l2 0.2l2 0.4l2 0.5l2 0.3l2 -0.3l2 -0.4l2 -0.4l2 -0.1l2 0l2 0.4l2 0.6l1.6 0.5l0.4 0.1l2 0.3l2 0.4l2 0.6zM127.7 27.3l0.3 1.4l0.6 -1.4l-0.6 -0.3zM129.9 25.2l0.1 0.3l0.2 -0.3l-0.2 -0.2zM132 23.1zM137.9 14.7l0.1 0.8l0.5 -0.8l-0.5 -0.2zM139.7 12.6l0.3 0.6l0.4 -0.6l-0.4 -0.8zM141.5 10.5l0.5 0.2l0.2 -0.2l0.5 -2.1l-0.7 -0.9l-0.1 0.9zM143.9 6.3l0.1 0.1l0 -0.1l0.6 -2.1l-0.2 -2.1l-0.4 -0.1l0 0.1l-0.2 2.1zM145.7 0l0.3 1.1l0.3 -1.1l-0.3 0z"/>
<path fill="#04ffd6" d="M132.3 123.9l1.7 0.6l2 0.6l2 0.5l2 0.3l1.8 0.1l0.2 0l2 0l2 0l2 0l2 0l2 0l2 0l0.2 0l1.8 -1.8l0.2 -0.3l1.1 -2.1l0.1 -2.1l-0.9 -2.1l-0.5 -1l-0.7 -1.1l-1.3 -2.1l-1 -2.1l-0.9 -2.1l-0.1 -0.3l-0.6 -1.8l-0.5 -2.1l-0.3 -2.1l0 -2.1l0.4 -2.1l0.6 -2.1l0.4 -1.2l0.3 -0.9l0.7 -2.1l0.7 -2.1l0.3 -1.3l0.2 -0.8l0.5 -2.1l0.4 -2.1l0.2 -2.1l0 -2.1l-0.5 -2.1l-0.8 -1.7l-0.2 -0.4l-0.8 -2.1l-0.1 -2.1l1.1 -1.3l1.8 -0.8l0.2 -0.1l2 -0.1l2 0l0 -1.9l0 -2.1l0 -2.1l0 -2.1l0 -2.1l0 -2.1l0 -2.1l0 -2.1l0 -2.1l0 -2.1l0 -2.1l0 -2.1l0 -2.1l0 -2.1l0 -2.1l0 -2.1l0 -2.1l0 -2.1l0 -2.1l0 -2.1l0 -2.1l0 -0.2l-2 -0.3l-2 0l-2 0.2l-1.2 0.3l-0.8 0.2l-2 0.8l-2 1.1l-2 1.5l-0.7 0.6l-1.3 1.1l-1.1 1l-0.9 0.8l-1.6 1.3l-0.4 0.3l-2 1.2l-1 0.6l-1 0.6l-2 1l-1 0.5l-1 0.6l-2 1.2l-0.3 0.3l-1.7 1.8l-0.3 0.3l-1.4 2.1l-0.3 0.5l-1 1.6l-1 1.8l-0.2 0.3l-1 2.1l-0.4 2.1l0.3 2.1l0.6 2.1l0.7 1.7l0.2 0.4l0.9 2.1l0.9 1.7l0.3 0.4l1.7 2l0.2 0.1l1.8 1.4l1.1 0.7l0.9 0.6l2 1.3l0.2 0.2l1.8 1.4l0.7 0.7l1.3 1.3l0.7 0.8l1.3 1.9l0.1 0.2l0.8 2.1l0.2 2.1l-0.7 2.1l-0.4 0.6l-1.8 1.5l-0.2 0.1l-2 0.6l-2 -0.1l-1.7 -0.6l-0.3 -0.1l-2 -1l-1.6 -1l-0.4 -0.3l-2 -1.4l-0.5 -0.4l-1.5 -1.3l-1 -0.8l-1 -0.9l-1.4 -1.2l-0.6 -0.5l-1.6 -1.6l-0.4 -0.5l-1.1 -1.6l-0.9 -1.9l-0.1 -0.2l-0.5 -2.1l-0.5 -2.1l-0.9 -2.1l0 -0.1l-2 -1.6l-0.7 -0.4l-1.3 -0.9l-1.4 -1.2l-0.6 -0.8l-2 -0.6l-2 0.9l-0.5 0.5l-1.5 1.7l-0.5 0.4l-1.5 2.1l0 1.2l0 0.9l0.8 2.1l0.6 2.1l0.2 2.1l-0.4 2.1l-1 2.1l-0.2 0.5l-0.5 1.6l-0.1 2.1l0.1 2.1l-0.2 2.1l-0.3 2.1l-0.5 2.1l-0.3 2.1l-0.2 1.1l-0.1 1l-0.5 2.1l-0.7 2.1l-0.7 1.4l-0.3 0.7l-1.4 2.1l-0.3 0.8l-0.6 1.3l-0.4 2.1l0.7 2.1l0.3 0.6l0.7 1.5l1.3 1.6l0.9 0.5l1.1 1.4l0.8 0.7l1.2 1.4l0.7 0.7l1.3 1.2l1.2 0.9l0.8 0.6l2 0.9l2 0.4l1 0.2l1 0.2l2 0.3l2 0.3l2 0.3l2 0.3l2 0.2l2 0.3l1.2 0.2l0.8 0.1l2 0.4l2 0.5l2 0.5l2 0.5zM1.3 77.7l0.7 0.6l2 1.1l2 0.1l2 -0.3l2 -1.4l0.1 -0.1l1.8 -2.1l0.1 -0.8l0.4 -1.3l-0.4 -0.6l-0.8 -1.5l-1.2 -1l-2 -0.6l-2 0.1l-2 1.1l-0.6 0.4l-1.4 1l-1 1.1l-0.6 2.1zM50 77.7l2 0.9l2 0.7l2 0.1l1.5 -1.7l-1 -2.1l-0.5 -0.6l-1 -1.5l-1 -1.6l-0.2 -0.5l-0.4 -2.1l0.6 -0.3l1.4 -1.8l0.6 -0.5l1.3 -1.6l0.7 -1.3l0.6 -0.8l0.7 -2.1l0.1 -2.1l0.6 -2l0.1 -0.1l1.7 -2.1l0.2 -0.5l1.1 -1.6l-1.1 -1.1l-2 0.4l-1.7 0.7l-0.3 0.1l-2 0.9l-1.5 1.1l-0.5 0.2l-2 0.7l-2 0.6l-1.4 0.6l-0.6 0.1l-2 0.4l-2 0.7l-1.4 0.9l-0.6 0.3l-2 1.2l-1 0.6l-1 0.5l-2 1.1l-0.7 0.5l-1.3 1l-1.1 1.1l-0.8 2.1l-0.1 2.1l0.6 2.1l1.4 1.6l0.6 0.5l1.4 1.5l1.2 0.6l0.8 0.4l2 0.5l2 0.2l2 0.1l2 -0.1l2 -0.1l2 1.1z"/>
<path fill="#13ffaa" d="M143.1 123.9l0.9 0.3l2 0.7l2 0.4l2 0.3l2 0l2 -1l0.7 -0.7l1 -2.1l0 -2.1l-0.9 -2.1l-0.8 -0.9l-2 -1l-1 -0.2l-1 -0.7l-2 -0.8l-2 -0.5l-0.4 -0.1l-1.6 -1.2l-2 -0.6l-2 -0.3l-0.1 0l-1.9 -1.2l-2 -0.6l-2 -0.2l-0.9 -0.1l-1.1 -0.5l-2 -0.8l-2 -0.4l-2 -0.3l-1.4 -0.1l-0.6 -0.3l-2 -1l-2 -0.5l-2 -0.2l-0.6 -0.1l-1.4 -0.8l-2 -0.6l-2 -0.2l-2 -0.2l-2 -0.3l-0.1 0l-1.9 -1.4l-2 -0.5l-0.7 -0.2l-1.3 -0.8l-2 -0.7l-2 0.2l-1.7 1.3l-0.3 0.2l-1.4 1.9l-0.3 2.1l0.5 2.1l1.2 1.5l0.9 0.6l1.1 1l2 0.9l0.4 0.2l1.6 1.3l2 0.7l0.1 0.1l1.9 1.3l2 0.4l2 0.2l1.5 0.2l0.5 0.2l2 0.7l2 0.5l2 0.4l2 0.3l2 0.9l2 0.5l2 0.4l1.8 0.3l0.2 0.1l2 0.9l2 0.6l2 0.4l0.6 0.1l1.4 0.7l2 0.6l2 0.3l2 0.3zM2.9 77.7l1.1 0.8l2 0.3l2 -0.7l0.6 -0.4l1.4 -1.1l0.9 -1l0.3 -2.1l-1.2 -1.4l-1.5 -0.7l-0.5 -0.3l-2 0.3l-2 0.6l-1.5 1.5l-0.5 1.7l-0.2 0.4l0.2 0.3zM37.2 71.4l0.8 0.4l2 -0.1l1.7 -0.3l0.3 0l2 -0.2l2 -0.2l2 -0.5l1.6 -1.2l0.4 -0.1l2 -0.7l1.5 -1.3l0.5 -0.3l1.8 -1.8l0.2 -0.2l1.4 -1.9l0.4 -2.1l0.1 -2.1l0.1 -0.6l0.5 -1.5l0.5 -2.1l-1 -0.5l-1.3 0.5l-0.7 0.2l-2 0.8l-2 0.8l-0.8 0.3l-1.2 0.2l-2 0.4l-2 0.6l-1.8 0.9l-0.2 0.1l-2 1l-1.3 1l-0.7 0.6l-2 1.5l-2 1.1l-1 1l-0.9 2.1l0.2 2.1l1.7 1.8zM143.5 67.2l0.5 0.3l2 0.5l2 -0.7l0.1 -0.1l1.9 -1.5l0.7 -0.6l1.3 -1.2l1.3 -0.9l0.7 -0.6l2 -1.1l0.8 -0.4l1.2 -0.7l2 -1.3l0 -0.1l0 -2.1l0 -2.1l0 -2.1l0 -2.1l0 -2.1l0 -2.1l0 -2.1l0 -2.1l0 -2.1l0 -2.1l0 -2.1l0 -2.1l0 -0.3l-2 -1l-2 -0.5l-2 0.1l-2 0.6l-2 1l-0.2 0.1l-1.8 1.2l-1 0.9l-1 0.8l-1.5 1.3l-0.5 0.4l-2 1.3l-0.8 0.4l-1.2 0.9l-2 1.2l-2 1.5l-0.8 0.6l-1.2 1.3l-0.7 0.8l-1.2 2.1l-0.1 0.2l-0.7 1.9l-0.4 2.1l-0.1 2.1l0.4 2.1l0.8 1.5l0.4 0.6l1.6 1.6l0.6 0.5l1.4 1l1.8 1.1l0.2 0.1l2 1.4l0.9 0.6l1.1 0.9z"/>
<path fill="#30ff7f" d="M146.8 123.9l1.2 0.4l2 0.5l2 0l1.4 -0.9l0.6 -0.6l1 -1.5l0 -2.1l-1 -1.6l-0.5 -0.5l-1.5 -1l-2 -0.6l-2 -0.5l-0.1 0l-1.9 -0.9l-2 -0.5l-2 -0.4l-1.3 -0.3l-0.7 -0.3l-2 -0.8l-2 -0.5l-2 -0.4l-0.3 -0.1l-1.7 -0.8l-2 -0.6l-2 -0.4l-1.7 -0.3l-0.3 -0.1l-2 -0.8l-2 -0.5l-2 -0.4l-1.3 -0.3l-0.7 -0.3l-2 -0.8l-2 -0.3l-2 -0.3l-2 -0.2l-0.7 -0.2l-1.3 -0.7l-2 -0.9l-1.2 -0.5l-0.8 -0.5l-2 -1l-1.8 -0.6l-0.2 -0.1l-2 0l-0.1 0.1l-1.9 1.3l-0.6 0.8l-0.4 2.1l0.7 2.1l0.3 0.4l2 1.5l0.4 0.2l1.6 1.1l2 0.9l0.1 0.1l1.9 1.2l2 0.9l2 0.7l2 0.4l2 0.3l2 0.3l1.5 0.4l0.5 0.2l2 0.7l2 0.5l2 0.4l1.3 0.3l0.7 0.3l2 0.6l2 0.5l2 0.5l0.7 0.2l1.3 0.6l2 0.6l2 0.5l1.7 0.4l0.3 0.1l2 0.6l2 0.5l2 0.3l2 0.4zM4.1 77.7l1.9 0.5l1.1 -0.5l0.9 -0.2l2 -1.9l0 -0.6l0.3 -1.5l-0.3 -0.3l-2 -1.5l-2 0.1l-2 0.9l-0.8 0.8l-0.8 2.1l1.6 2.1zM35.6 69.3l0.4 0.4l2 0.9l2 -0.2l2 -0.4l2 -0.1l2 -0.3l0.7 -0.3l1.3 -0.2l2 -0.6l2 -1l0.3 -0.3l1.7 -1.2l1 -0.9l1 -1.4l0.5 -0.7l0.6 -2.1l0 -2.1l-0.2 -2.1l-0.9 -0.7l-2 0.4l-0.8 0.3l-1.2 0.3l-2 0.4l-2 0.4l-2 0.7l-0.5 0.3l-1.5 0.6l-2 1.3l-0.2 0.2l-1.8 1.5l-0.8 0.6l-1.2 0.8l-1.7 1.3l-0.3 0.4l-1 1.7z"/>
<path fill="#5cff56" d="M149.7 123.9l0.3 0.1l2 0l0.2 -0.1l1.8 -1.7l0.2 -0.4l0 -2.1l-0.2 -0.4l-1.7 -1.7l-0.3 -0.2l-2 -0.6l-2 -0.6l-2 -0.5l-0.5 -0.2l-1.5 -0.6l-2 -0.5l-2 -0.4l-2 -0.5l-0.2 -0.1l-1.8 -0.7l-2 -0.6l-2 -0.5l-1 -0.3l-1 -0.4l-2 -0.6l-2 -0.4l-2 -0.5l-0.6 -0.2l-1.4 -0.5l-2 -0.6l-2 -0.4l-2 -0.5l-0.2 -0.1l-1.8 -0.5l-2 -0.4l-2 -0.3l-2 -0.5l-0.7 -0.4l-1.3 -0.8l-2 -0.8l-0.9 -0.5l-1.1 -0.6l-2 -0.8l-2 0l-1.8 1.4l-0.2 0.6l-0.4 1.5l0.4 1l0.6 1.1l1.4 1.1l1.7 1l0.3 0.2l2 1.1l1.4 0.8l0.6 0.4l2 1l2 0.5l0.9 0.2l1.1 0.3l2 0.4l2 0.4l2 0.4l2 0.6l0.1 0l1.9 0.6l2 0.5l2 0.5l1.7 0.5l0.3 0.1l2 0.6l2 0.5l2 0.6l0.8 0.3l1.2 0.4l2 0.6l2 0.5l2 0.5l0.4 0.1l1.6 0.4l2 0.5l2 0.3l2 0.5zM2.9 75.6l1.1 1.4l2 0.6l2 -0.6l1.5 -1.4l0.1 -2.1l-1.6 -1.3l-2 -0.1l-2 1.3l-0.1 0.1zM37.3 69.3l0.7 0.3l1.9 -0.3l0.1 0l2 -0.4l2 0l2 -0.1l2 -0.3l2 -0.6l1.1 -0.7l0.9 -0.5l2 -1.5l0.1 -0.1l1.6 -2.1l0.3 -1.1l0.3 -1l0 -2.1l-0.3 -1.1l-2 -0.6l-2 0.4l-2 0.4l-2 0.5l-1.2 0.4l-0.8 0.2l-2 0.9l-1.5 1l-0.5 0.5l-1.8 1.6l-0.2 0.3l-2 1.3l-0.7 0.5l-1.3 1.9l-0.1 0.2l0.1 0.4z"/>
<path fill="#97ff2e" d="M143.2 121.8l0.8 0.2l2 0.4l2 0.3l2 0.4l2 0l1.3 -1.3l0.1 -2.1l-1.4 -1.4l-1.7 -0.7l-0.3 -0.1l-2 -0.5l-2 -0.5l-2 -0.7l-0.9 -0.3l-1.1 -0.3l-2 -0.5l-2 -0.4l-2 -0.7l-0.4 -0.2l-1.6 -0.5l-2 -0.6l-2 -0.5l-1.4 -0.5l-0.6 -0.2l-2 -0.5l-2 -0.5l-2 -0.5l-1 -0.4l-1 -0.3l-2 -0.5l-2 -0.5l-2 -0.4l-1.4 -0.4l-0.6 -0.1l-2 -0.4l-2 -0.4l-2 -1.1l-0.2 -0.1l-1.8 -0.9l-2 -0.9l-0.5 -0.3l-1.5 -0.7l-2 0l-0.8 0.7l-0.8 2.1l1.1 2.1l0.5 0.4l2 1l1 0.7l1 0.6l2 1l0.8 0.5l1.2 0.6l2 0.6l2 0.3l2 0.6l0.2 0l1.8 0.4l2 0.4l2 0.5l2 0.6l0.4 0.2l1.6 0.4l2 0.5l2 0.5l2 0.7l2 0.6l2 0.5l2 0.6l0.9 0.4l1.1 0.4l2 0.4l2 0.4l2 0.5zM3.4 75.6l0.6 0.8l2 0.9l2 -0.7l1.1 -1l0 -2.1l-1.1 -0.9l-2 -0.1l-1.5 1l-0.5 0.9zM36.8 67.2l1.2 1.4l2 -0.2l2 -0.3l2 0.1l2 0l2 -0.3l1.9 -0.7l0.1 0l2 -1.2l1.2 -0.9l0.8 -0.9l0.9 -1.2l0.6 -2.1l-0.1 -2.1l-1.4 -1l-2 0.2l-2 0.4l-1.6 0.4l-0.4 0.1l-2 0.5l-2 1l-0.8 0.5l-1.2 1.2l-1 0.9l-1 1.1l-1.5 1l-0.5 0.5z"/>
<path fill="#e3ff0a" d="M146.8 121.8l1.2 0.2l2 0.2l2 -0.1l0.3 -0.3l0.1 -2.1l-0.4 -0.4l-2 -0.5l-2 -0.9l-0.4 -0.3l-1.6 -0.4l-2 -0.4l-2 -0.6l-1.7 -0.7l-0.3 -0.1l-2 -0.4l-2 -0.5l-2 -0.7l-0.8 -0.4l-1.2 -0.3l-2 -0.5l-2 -0.5l-2 -0.8l-2 -0.4l-2 -0.4l-2 -0.6l-1.7 -0.7l-0.3 -0.1l-2 -0.4l-2 -0.4l-2 -0.3l-2 -0.4l-1.2 -0.5l-0.8 -0.2l-2 -0.7l-1.8 -1.2l-0.2 -0.1l-2 -0.7l-2 -1.1l-2 0.1l-0.6 1.8l0.6 1.2l1 0.9l1 0.5l2 1.2l0.5 0.4l1.5 0.6l2 1.3l0.4 0.2l1.6 0.4l2 0.3l2 0.3l2 0.5l1.4 0.6l0.6 0.1l2 0.4l2 0.4l2 0.7l1.1 0.5l0.9 0.2l2 0.4l2 0.4l2 0.8l0.5 0.3l1.5 0.3l2 0.5l2 0.6l1.4 0.7l0.6 0.1l2 0.4l2 0.3l2 0.4l2 0.6zM3.9 75.6l0.1 0.2l2 1.1l2 -0.7l0.6 -0.6l0 -2.1l-0.6 -0.5l-2 -0.1l-0.9 0.6l-1.1 1.8zM37.8 67.2l0.2 0.3l2 0.1l2 -0.2l2 0.1l2 0.1l2 -0.3l0.2 -0.1l1.8 -0.8l2 -1.1l0.3 -0.2l1.7 -1.9l0.1 -0.2l0.7 -2.1l-0.3 -2.1l-0.5 -0.4l-2 0.1l-1.6 0.3l-0.4 0.1l-2 0.3l-2 0.5l-2 1.2l-0.1 0l-1.9 1.8l-0.3 0.3l-1.7 2l-0.1 0.1l-1.9 1.8z"/>
<path fill="#ffe100" d="M135.3 117.6l0.7 0.1l2 0.2l2 0.2l2 0l0.6 -0.5l-0.6 -0.1l-2 -0.1l-2 -0.3l-2 -1.3l-0.1 -0.3l-1.9 -0.2l-2 -0.2l-2 -0.7l-1 -1l-1 -0.1l-2 -0.2l-2 -0.2l-2 -0.6l-0.9 -1l-1.1 -0.1l-2 -0.2l-2 -0.3l-2 -0.8l-0.8 -0.7l-1.2 -0.1l-2 -0.1l-2 0l-2 -0.2l-0.2 0.4l0.2 0l2 0.4l2 0.5l2 1.2l2 0.1l2 0.2l2 0.4l2 0.7l0.7 0.7l1.3 0.1l2 0.2l2 0.5l2 1.2l0.1 0.1l1.9 0.2l2 0.3l2 0.6zM103.7 107.1l0.3 0.1l0.2 -0.1l-0.2 0zM4.4 75.6l1.6 1l2 -0.8l0.2 -0.2l-0.2 -2.1l-2 -0.2l-0.4 0.2zM41.6 65.1l0.4 0.4l2 1l2 0.3l2 -0.4l2 -0.8l0.9 -0.5l1.1 -0.7l1.2 -1.4l0.8 -2.1l0 -0.1l-2 -1.7l-2 0.3l-2 0.2l-2 0.5l-1.4 0.8l-0.6 0.5l-1.7 1.6l-0.3 1.5z"/>
<path fill="#ffb500" d="M4.9 75.6l1.1 0.6l1.5 -0.6l-1.5 -1.8zM43.6 65.1l0.4 0.2l2 0.5l2 -0.4l0.9 -0.3l1.1 -0.2l2 -1.6l0.3 -0.3l0.6 -2.1l-0.9 -0.8l-2 -0.3l-2 0.1l-2 0.6l-0.7 0.4l-1.3 1l-1.2 1.1z"/>
<path fill="#ff8a00" d="M5.5 75.6l0.5 0.3l0.7 -0.3l-0.7 -0.8zM43.3 63l0.7 1.3l2 0.7l2 -0.1l2 -0.6l1.6 -1.3l0.1 -2.1l-1.7 -0.6l-2 0l-2 0.6l-0.1 0l-1.9 1.5z"/>
<path fill="#ff6000" d="M43.8 63l0.2 0.3l2 1.3l2 0l2 -0.8l0.9 -0.8l-0.5 -2.1l-0.4 -0.1l-2 -0.2l-1 0.3l-1 0.3l-2 1.6z"/>
<path fill="#ff3800" d="M44.3 63l1.7 1.3l2 0l2 -1.1l0.3 -0.2l-0.3 -0.8l-2 -1.2l-2 0.6z"/>
<path fill="#ff1200" d="M44.8 63l1.2 0.9l2 0.1l1.7 -1l-1.7 -1.5l-2 0.5z"/>
<path fill="#ee0000" d="M45.3 63l0.7 0.6l2 0l1.1 -0.6l-1.1 -1l-2 0.4z"/>
<path fill="#c50000" d="M45.7 63l0.3 0.2l2 0.1l0.6 -0.3l-0.6 -0.5l-2 0.3z"/>
<path fill="#9c0000" d="M47.8 63l0.2 0z"/></g>
<g id="fld_e"><rect x="0" y="0" width="160" height="126" fill="#0000fa"/>
<path fill="#0007ff" d="M0 126l2 0l2 0l2 0l2 0l2 0l2 0l2 0l2 0l2 0l2 0l2 0l2 0l2 0l2 0l2 0l2 0l2 0l2 0l2 0l2 0l2 0l2 0l2 0l2 0l2 0l2 0l2 0l2 0l2 0l2 0l2 0l2 0l2 0l2 0l2 0l2 0l2 0l2 0l2 0l2 0l2 0l2 0l2 0l2 0l2 0l2 0l2 0l2 0l2 0l2 0l2 0l2 0l2 0l2 0l2 0l2 0l2 0l2 0l2 0l2 0l2 0l2 0l2 0l2 0l2 0l2 0l2 0l2 0l2 0l2 0l2 0l2 0l2 0l2 0l2 0l2 0l2 0l2 0l2 0l2 0l0 -2.1l0 -2.1l0 -2.1l0 -2.1l0 -2.1l0 -2.1l0 -2.1l0 -2.1l0 -2.1l0 -2.1l0 -2.1l0 -2.1l0 -2.1l0 -2.1l0 -2.1l0 -2.1l0 -2.1l0 -2.1l0 -2.1l0 -2.1l0 -2.1l0 -2.1l0 -2.1l0 -2.1l0 -2.1l0 -2.1l0 -2.1l0 -2.1l0 -2.1l0 -2.1l0 -2.1l0 -2.1l0 -2.1l0 -2.1l0 -2.1l0 -2.1l0 -2.1l0 -2.1l0 -2.1l0 -2.1l0 -2.1l0 -2.1l0 -2.1l0 -2.1l0 -2.1l0 -2.1l0 -2.1l0 -2.1l0 -2.1l0 -2.1l0 -2.1l0 -2.1l0 -2.1l0 -2.1l0 -2.1l0 -2.1l0 -2.1l0 -2.1l0 -2.1l0 -2.1l-2 0l-2 0l-2 0l-2 0l-2 0l-2 0l-2 0l-2 0l-2 0l-2 0l-2 0l-2 0l-2 0l-2 0l-2 0l-2 0l-2 0l-2 0l-2 0l-2 0l-2 0l-2 0l-2 0l-2 0l-2 0l-2 0l-2 0l-2 0l-2 0l-2 0l-2 0l-2 0l-2 0l-2 0l-2 0l-2 0l-2 0l-2 0l-2 0l-2 0l-2 0l-2 0l-2 0l-2 0l-2 0l-2 0l-2 0l-2 0l-2 0l-2 0l-2 0l-2 0l-2 0l-2 0l-2 0l-2 0l-2 0l-2 0l-2 0l-2 0l-2 0l-2 0l-2 0l-2 0l-2 0l-2 0l-2 0l-2 0l-2 0l-2 0l-2 0l-2 0l-2 0l-2 0l-2 0l-2 0l-2 0l-2 0l-2 0l-2 0l0 2.1l0 2.1l0 2.1l0 2.1l0 2.1l0 2.1l0 2.1l0 2.1l0 2.1l0 2.1l0 2.1l0 2.1l0 2.1l0 2.1l0 2.1l0 2.1l0 2.1l0 2.1l0 2.1l0 2.1l0 2.1l0 2.1l0 2.1l0 2.1l0 2.1l0 2.1l0 2.1l0 2.1l0 2.1l0 2.1l0 2.1l0 2.1l0 2.1l0 2.1l0 2.1l0 2.1l0 2.1l0 2.1l0 2.1l0 2.1l0 2.1l0 2.1l0 2.1l0 2.1l0 2.1l0 2.1l0 2.1l0 2.1l0 2.1l0 2.1l0 2.1l0 2.1l0 2.1l0 2.1l0 2.1l0 2.1l0 2.1l0 2.1l0 2.1z"/>
<path fill="#0030ff" d="M0 126l2 0l2 0l2 0l2 0l2 0l2 0l2 0l2 0l2 0l2 0l2 0l2 0l2 0l2 0l2 0l2 0l2 0l2 0l2 0l2 0l2 0l2 0l2 0l2 0l2 0l2 0l2 0l2 0l2 0l2 0l2 0l2 0l2 0l2 0l2 0l2 0l2 0l2 0l2 0l2 0l2 0l2 0l2 0l2 0l2 0l2 0l2 0l2 0l2 0l2 0l2 0l2 0l2 0l2 0l2 0l2 0l2 0l2 0l2 0l2 0l2 0l2 0l2 0l2 0l2 0l2 0l2 0l2 0l2 0l2 0l2 0l2 0l2 0l2 0l2 0l2 0l2 0l2 0l2 0l2 0l0 -2.1l0 -2.1l0 -2.1l0 -2.1l0 -2.1l0 -2.1l0 -2.1l0 -2.1l0 -2.1l0 -2.1l0 -2.1l0 -2.1l0 -2.1l0 -2.1l0 -2.1l0 -2.1l0 -2.1l0 -2.1l0 -2.1l0 -2.1l0 -2.1l0 -2.1l0 -2.1l0 -2.1l0 -2.1l0 -2.1l0 -2.1l0 -2.1l0 -2.1l0 -2.1l0 -2.1l0 -2.1l0 -2.1l0 -2.1l0 -2.1l0 -2.1l0 -2.1l0 -2.1l0 -2.1l0 -2.1l0 -2.1l0 -2.1l0 -2.1l0 -2.1l0 -2.1l0 -2.1l0 -2.1l0 -2.1l0 -2.1l0 -2.1l0 -2.1l0 -2.1l0 -2.1l0 -2.1l0 -2.1l0 -2.1l0 -2.1l0 -2.1l0 -2.1l0 -2.1l-2 0l-2 0l-2 0l-2 0l-2 0l-2 0l-2 0l-2 0l-2 0l-2 0l-2 0l-2 0l-2 0l-2 0l-2 0l-2 0l-2 0l-2 0l-2 0l-2 0l-2 0l-2 0l-2 0l-2 0l-2 0l-2 0l-2 0l-2 0l-2 0l-2 0l-2 0l-2 0l-2 0l-2 0l-2 0l-2 0l-2 0l-2 0l-2 0l-2 0l-2 0l-2 0l-2 0l-2 0l-2 0l-2 0l-2 0l-2 0l-2 0l-2 0l-2 0l-2 0l-2 0l-2 0l-2 0l-2 0l-2 0l-2 0l-2 0l-2 0l-2 0l-2 0l-2 0l-2 0l-2 0l-2 0l-2 0l-2 0l-2 0l-2 0l-2 0l-2 0l-2 0l-2 0l-2 0l-2 0l-2 0l-2 0l-2 0l-2 0l0 2.1l0 2.1l0 2.1l0 2.1l0 2.1l0 2.1l0 2.1l0 2.1l0 2.1l0 2.1l0 2.1l0 2.1l0 2.1l0 2.1l0 2.1l0 2.1l0 2.1l0 2.1l0 2.1l0 2.1l0 2.1l0 2.1l0 2.1l0 2.1l0 2.1l0 2.1l0 2.1l0 2.1l0 2.1l0 2.1l0 2.1l0 2.1l0 2.1l0 2.1l0 2.1l0 2.1l0 2.1l0 2.1l0 2.1l0 2.1l0 2.1l0 2.1l0 2.1l0 2.1l0 2.1l0 2.1l0 2.1l0 2.1l0 2.1l0 2.1l0 2.1l0 2.1l0 2.1l0 2.1l0 2.1l0 2.1l0 2.1l0 2.1l0 2.1z"/>
<path fill="#0059ff" d="M0 126l2 0l2 0l2 0l2 0l2 0l2 0l2 0l2 0l2 0l2 0l2 0l2 0l2 0l2 0l2 0l2 0l2 0l2 0l2 0l2 0l2 0l2 0l2 0l2 0l2 0l2 0l2 0l2 0l2 0l2 0l2 0l2 0l2 0l2 0l2 0l2 0l2 0l2 0l2 0l2 0l2 0l2 0l2 0l2 0l2 0l2 0l2 0l2 0l2 0l2 0l2 0l2 0l2 0l2 0l2 0l2 0l2 0l2 0l2 0l2 0l2 0l2 0l2 0l2 0l2 0l2 0l2 0l2 0l2 0l2 0l2 0l2 0l2 0l2 0l2 0l2 0l2 0l2 0l2 0l2 0l0 -2.1l0 -2.1l0 -2.1l0 -2.1l0 -2.1l0 -2.1l0 -2.1l0 -2.1l0 -2.1l0 -2.1l0 -2.1l0 -2.1l0 -2.1l0 -2.1l0 -2.1l0 -2.1l0 -2.1l0 -2.1l0 -2.1l0 -2.1l0 -2.1l0 -2.1l0 -2.1l0 -2.1l0 -2.1l0 -2.1l0 -2.1l0 -2.1l0 -2.1l0 -2.1l0 -2.1l0 -2.1l0 -2.1l0 -2.1l0 -2.1l0 -2.1l0 -2.1l0 -2.1l0 -2.1l0 -2.1l0 -2.1l0 -2.1l0 -2.1l0 -2.1l0 -2.1l0 -2.1l0 -2.1l0 -2.1l0 -2.1l0 -2.1l0 -2.1l0 -2.1l0 -2.1l0 -2.1l0 -2.1l0 -2.1l0 -2.1l0 -2.1l0 -2.1l0 -2.1l-2 0l-2 0l-2 0l-2 0l-2 0l-2 0l-2 0l-2 0l-2 0l-2 0l-2 0l-2 0l-2 0l-2 0l-2 0l-2 0l0.3 2.1l0.2 2.1l0.1 2.1l0 2.1l-0.2 2.1l-0.4 2.1l-0.9 2.1l-1.1 1.8l-0.2 0.3l-1.8 1.9l-0.3 0.2l-1.7 1l-2 0.7l-2 0.4l-2 0l-2 -0.3l-2 -0.4l-2 -0.5l-1.8 -0.9l-0.2 -0.1l-1.8 -2l-0.2 -0.3l-0.9 -1.8l-0.5 -2.1l-0.1 -2.1l0.1 -2.1l0.4 -2.1l0.6 -2.1l0.4 -1.3l0.3 -0.8l0.9 -2.1l-1.2 0l-2 0l-2 0l-2 0l-2 0l-2 0l-2 0l-2 0l-2 0l-2 0l-2 0l-2 0l-2 0l-2 0l-2 0l-2 0l-2 0l-2 0l-2 0l-2 0l-2 0l-2 0l-2 0l-2 0l-2 0l-2 0l-2 0l-2 0l-2 0l-2 0l-2 0l-2 0l-2 0l-2 0l-2 0l-2 0l-2 0l-2 0l-2 0l-2 0l-2 0l-2 0l-2 0l-2 0l-2 0l-2 0l-2 0l-2 0l-2 0l-2 0l-2 0l-2 0l-2 0l-2 0l0 2.1l0 2.1l0 2.1l0 2.1l0 2.1l0 2.1l0 2.1l0 2.1l0 2.1l0 2.1l0 2.1l0 2.1l0 2.1l0 2.1l0 2.1l0 2.1l0 2.1l0 2.1l0 2.1l0 2.1l0 2.1l0 2.1l0 2.1l0 2.1l0 2.1l0 2.1l0 2.1l0 2.1l0 2.1l0 2.1l0 2.1l0 2.1l0 2.1l0 2.1l0 2.1l0 2.1l0 2.1l0 2.1l0 2.1l0 2.1l0 2.1l0 2.1l0 2.1l0 2.1l0 2.1l0 2.1l0 2.1l0 2.1l0 2.1l0 2.1l0 2.1l0 2.1l0 2.1l0 2.1l0 2.1l0 2.1l0 2.1l0 2.1l0 2.1zM22 107.5l-0.5 -0.4l-1.5 -1.9l-0.1 -0.2l-0.5 -2.1l0.5 -2.1l0.1 -0.2l1.7 -1.9l0.3 -0.2l2 -0.7l2 -0.2l2 0.3l2 0.7l0.3 0.1l1.7 1.5l0.7 0.6l0.6 2.1l-0.6 2.1l-0.7 0.9l-1.2 1.2l-0.8 0.5l-2 0.8l-2 0.3l-2 -0.3z"/>
<path fill="#0082ff" d="M0 126l2 0l2 0l2 0l2 0l2 0l2 0l2 0l2 0l2 0l2 0l2 0l2 0l2 0l2 0l2 0l2 0l2 0l2 0l2 0l2 0l2 0l2 0l2 0l2 0l2 0l2 0l2 0l2 0l2 0l2 0l2 0l2 0l2 0l2 0l2 0l2 0l2 0l2 0l2 0l2 0l2 0l2 0l2 0l2 0l2 0l2 0l2 0l2 0l2 0l2 0l2 0l2 0l2 0l2 0l2 0l2 0l2 0l2 0l2 0l2 0l2 0l2 0l2 0l2 0l2 0l2 0l2 0l2 0l2 0l2 0l2 0l2 0l2 0l2 0l2 0l2 0l2 0l2 0l2 0l2 0l0 -2.1l0 -2.1l0 -2.1l0 -2.1l0 -2.1l0 -2.1l0 -2.1l0 -2.1l0 -2.1l0 -2.1l0 -2.1l0 -2.1l0 -2.1l0 -2.1l0 -2.1l0 -2.1l0 -2.1l0 -2.1l0 -2.1l0 -2.1l0 -2.1l0 -2.1l0 -2.1l0 -2.1l0 -2.1l0 -2.1l0 -2.1l0 -2.1l0 -2.1l0 -2.1l0 -2.1l0 -2.1l0 -2.1l0 -2.1l0 -2.1l0 -2.1l0 -2.1l0 -2.1l0 -2.1l0 -2.1l0 -2.1l0 -2.1l0 -2.1l0 -2.1l0 -2.1l0 -2.1l0 -2.1l0 -2.1l0 -2.1l0 -2.1l0 -2.1l0 -2.1l0 -2.1l0 -2.1l0 -2.1l0 -2.1l0 -2.1l0 -2.1l0 -2.1l0 -2.1l-2 0l-2 0l-2 0l-2 0l-2 0l-2 0l-2 0l-2 0l-2 0l-1.9 0l-0.1 0.3l-1.2 1.8l-0.6 2.1l-0.2 1.2l-0.6 0.9l-1.1 2.1l-0.3 0.5l-1.3 1.6l-0.7 1.4l-0.4 0.7l-1.4 2.1l-0.2 0.3l-1.3 1.8l-0.7 0.8l-1 1.3l-1 1.3l-0.7 0.8l-1.3 1.5l-0.6 0.6l-1.4 1.6l-0.6 0.5l-1.4 1.8l-0.3 0.3l-1.6 2.1l-0.1 0.1l-1.8 2l-0.2 0.3l-1.6 1.8l-0.4 0.6l-1.4 1.5l-0.6 0.8l-1.2 1.3l-0.8 1l-1 1.1l-1 1.2l-0.8 0.9l-1.2 1.8l-0.3 0.3l-1.3 2.1l-0.4 1.4l-0.7 0.7l-1 2.1l-0.3 1l-1 1.1l-1 1.2l-0.9 0.9l-1.1 1l-1.8 1.1l-0.2 0l-1.9 0l-0.1 0l-2 -1.9l-0.4 -0.2l-1.6 -1l-0.9 -1.1l-1.1 -1.2l-0.6 -0.9l-1.4 -1.7l-0.3 -0.4l-1.4 -2.1l-0.3 -0.4l-1.3 -1.7l-0.7 -0.9l-0.9 -1.2l-1.1 -1.4l-0.6 -0.7l-1.4 -1.7l-0.4 -0.4l-1.6 -1.6l-0.6 -0.5l-1.4 -1.1l-1.6 -1l-0.4 -0.2l-2 -1.2l-1.3 -0.7l-0.7 -0.4l-2 -1.2l-0.8 -0.5l-1.2 -0.9l-1.6 -1.2l-0.4 -0.3l-2 -1.7l-0.1 -0.1l-1.9 -1.6l-0.6 -0.5l-1.4 -1.3l-0.9 -0.8l-1.1 -1.1l-1.1 -1l-0.9 -0.9l-1.3 -1.2l-0.7 -0.7l-1.9 -1.4l-0.1 -0.1l-2 -0.7l-2 0.2l-1.3 0.6l-0.7 0.3l-2 -0.2l-0.2 -0.1l-1.8 -1.8l-2 0l-0.6 -0.3l-1.4 -1.7l-0.8 -0.4l-1.2 -1.6l-0.8 -0.5l-1.2 -2l-0.1 -0.1l0.1 -2.1l0 -0.5l0.1 -1.6l-0.1 -1.3l-0.1 -0.8l-1.9 0l-2 0l-2 0l-2 0l-2 0l-2 0l-2 0l-1.9 0l1.9 1.2l1.2 0.9l0.8 0.8l1 1.3l0.8 2.1l-0.2 2.1l-1.3 2.1l-0.3 0.2l-2 1.1l-2 0.8l-2 -0.2l-2 -0.3l-2 -0.1l-2 0l-2 0.2l-2 0.3l-0.6 0.1l-1.4 0.1l-1.6 -0.1l-0.4 0l0 2.1l0 2.1l0 2.1l0 2.1l0 2.1l0 2.1l0 2.1l0 2.1l0 2.1l0 2.1l0 2.1l0 2.1l0 2.1l0 2.1l0 2.1l0 2.1l0 2.1l0 2.1l0 2.1l0 2.1l0 2.1l0 2.1l0 2.1l0 2.1l0 2.1l0 2.1l0 2.1l0 2.1l0 2.1l0 2.1l0 2.1l0 2.1l0 2.1l0 2.1l0 2.1l0 2.1l0 2.1l0 2.1l0 2.1l0 2.1l0 2.1l0 2.1l0 2.1l0 2.1l0 2.1l0 2.1l0 2.1l0 2.1l0 2.1l0 2.1l0 2.1l0 2.1l0 2.1zM4 124.3l-0.3 -0.4l-1.2 -2.1l-0.5 -1.6l-0.1 -0.5l-0.3 -2.1l0.3 -2.1l0.1 -0.3l0.7 -1.8l1.3 -1.8l0.3 -0.3l1.7 -1.2l2 -0.5l2 0.2l2 0.1l0.3 -0.7l0.2 -2.1l0 -2.1l0.1 -2.1l0.2 -2.1l0.4 -2.1l0.8 -1.2l0.7 -0.9l1.3 -0.7l2 -0.7l2 -0.6l0.3 -0.1l1.7 -0.3l2 -0.2l2 -0.1l2 0.1l2 0.1l2 0.1l2 -0.1l2 -0.2l2 -0.4l2 -0.2l2 0.3l2 0.5l1.6 0.4l0.4 0.2l2 0.9l1.4 1l0.6 1.6l0.1 0.5l-0.1 2.1l0 0.1l-0.6 2l-0.8 2.1l-0.6 1.2l-0.6 0.9l-1.3 2.1l-0.1 0.1l-1.6 2l-0.4 0.5l-1.7 1.6l-0.3 0.3l-2 1.5l-0.6 0.3l-1.4 0.8l-2 0.7l-2 0.5l-0.4 0.1l-1.6 0.3l-2 0.3l-2 0.1l-2 0l-2 -0.3l-1.5 -0.4l-0.5 -0.1l-2 -0.7l-2 -1l-0.5 -0.3l-1.5 -1l-2 -1l-0.7 2l-0.6 2.1l-0.7 1.6l-0.1 0.5l-0.8 2.1l-1.1 1.5l-0.5 0.6l-1.5 1.2l-2 0.3zM97.2 52.5l0.8 0.4l0.2 -0.4l-0.2 -0.5z"/>
<path fill="#00aaff" d="M63.6 123.9l0.4 2l0 0.1l2 0l2 0l2 0l2 0l2 0l2 0l2 0l2 0l2 0l2 0l2 0l2 0l2 0l2 0l2 0l2 0l2 0l2 0l2 0l2 0l2 0l2 0l2 0l2 0l2 0l2 0l2 0l2 0l2 0l2 0l2 0l2 0l2 0l2 0l2 0l2 0l2 0l2 0l2 0l2 0l2 0l2 0l2 0l2 0l2 0l2 0l2 0l2 0l0 -2.1l0 -2.1l0 -2.1l0 -2.1l0 -2.1l0 -2.1l0 -2.1l0 -2.1l0 -2.1l0 -2.1l0 -2.1l0 -2.1l0 -2.1l0 -2.1l0 -2.1l0 -2.1l0 -2.1l0 -2.1l0 -2.1l0 -2.1l0 -2.1l0 -2.1l0 -2.1l0 -2.1l0 -2.1l0 -2.1l0 -2.1l0 -2.1l0 -2.1l0 -2.1l0 -2.1l0 -2.1l0 -2.1l0 -2.1l0 -2.1l0 -2.1l0 -2.1l0 -2.1l0 -2.1l0 -2.1l0 -2.1l0 -2.1l0 -2.1l0 -2.1l0 -2.1l0 -2.1l0 -2.1l0 -2.1l0 -2.1l0 -2.1l0 -2.1l0 -2.1l0 -2.1l0 -2.1l0 -2.1l0 -2.1l0 -2.1l0 -2.1l0 -2.1l0 -2.1l-2 0l-2 0l-2 0l-2 0l-2 0l-2 0l-2 0l-2 0l-2 0l-0.2 0l-0.9 2.1l-0.7 2.1l-0.2 0.5l-0.8 1.6l-0.9 2.1l-0.3 0.5l-1.2 1.6l-0.8 1.3l-0.7 0.8l-1.2 2.1l-0.1 0.1l-1.5 2l-0.5 0.6l-1.3 1.5l-0.7 0.8l-1.1 1.3l-0.9 1.1l-0.9 1l-1.1 1.3l-0.8 0.8l-1.2 1.6l-0.4 0.5l-1.6 2l-0.1 0.1l-1.6 2.1l-0.3 0.3l-1.5 1.8l-0.5 0.6l-1.3 1.5l-0.7 0.8l-1.1 1.3l-0.9 1l-1 1.1l-1 1.2l-0.8 0.9l-1.2 1.4l-0.6 0.7l-1 2.1l-0.4 0.7l-0.9 1.4l-0.9 2.1l-0.2 0.4l-1 1.7l-1 1.6l-0.5 0.5l-1.5 1.5l-0.6 0.6l-1.4 1.4l-2 0.6l-0.6 0.1l-1.4 0.2l-2 -0.1l-0.3 -0.1l-1.7 -0.9l-2 -0.9l-0.6 -0.3l-1.4 -1.1l-0.8 -1l-1.2 -1.5l-0.6 -0.6l-1.4 -1.8l-0.3 -0.3l-1.7 -2l-0.1 -0.1l-1.8 -2.1l-0.1 -0.1l-1.8 -2l-0.2 -0.2l-1.7 -1.9l-0.3 -0.4l-2 -1.7l-2 -1.6l-0.6 -0.5l-1.4 -1.1l-1.2 -1l-0.8 -0.6l-2 -1.5l-2 -1.4l-0.9 -0.7l-1.1 -0.9l-1.5 -1.2l-0.5 -0.4l-2 -1.7l-2 -1.7l-0.5 -0.4l-1.5 -1.3l-0.9 -0.8l-1.1 -1l-1.3 -1.1l-0.7 -0.7l-2 -1.2l-2 0.3l-0.4 -0.5l-1.6 -1.1l-1.2 -1l-0.8 -0.7l-2 -0.9l-0.9 1.6l-0.7 2.1l-0.2 2.1l0.3 2.1l0.6 2.1l0.9 1.6l0.4 0.5l1.6 1.7l0.4 0.4l1.6 1.4l0.9 0.7l1.1 1l1.2 1.1l0.8 0.9l1.2 1.2l0.8 1.2l0.6 0.9l0.5 2.1l-1.1 2l-0.1 0.1l-1.9 0.9l-2 0.6l-2 0.2l-2 0l-2 -0.1l-2 -0.2l-2 -0.2l-2 -0.2l-2 -0.4l-2 -0.4l-1 -0.2l-1 -0.3l-2 -0.6l-2 -0.7l-1.5 -0.5l-0.5 -0.2l-2 -0.7l-2 -0.7l-2 -0.5l-2 -0.5l-2 -0.2l-2 -0.1l-2 0l-2 0.2l-2 0.3l-2 0.2l-2 0.1l0 2.1l0 2.1l0 2.1l0 2.1l0 2.1l0 2.1l0 2.1l0 2.1l0 2.1l0 2.1l0 2.1l0 2.1l0 2.1l0 2.1l0 2.1l0 2.1l0 2.1l0 2.1l0 2.1l0 2.1l0 2.1l0 2.1l0 2.1l0 2.1l0 2.1l0 2.1l0 2.1l0 2.1l0 2.1l0 2.1l0 2.1l0 2.1l0 1l1.2 -1l0.8 -0.9l0.9 -1.2l1 -2.1l0.1 -0.2l0.5 -1.9l0.7 -2.1l0.8 -1.5l0.3 -0.6l1.7 -1.5l0.9 -0.6l1.1 -0.5l2 -0.5l2 -0.1l2 0l2 0l2 0l2 -0.2l2 -0.1l2 0l2 0l2 -0.1l2 -0.2l2 -0.3l0.6 -0.1l1.4 -0.2l2 -0.4l2 -0.1l2 0.1l2 0.3l1.6 0.3l0.4 0.1l2 0.5l2 0.6l1.8 0.9l0.2 0.1l1.8 2l0.2 0.4l1.1 1.7l0.9 1.9l0.2 0.2l0.9 2.1l0.4 2.1l0.1 2.1l-0.2 2.1l-0.2 2.1l0.4 2.1l0.4 0.8l1.2 1.3l0.8 1l1.3 1.1l0.7 1.3l0.3 0.8l0.5 2.1l0.4 2.1z"/>
<path fill="#00d3ff" d="M83.8 126l0.2 0l2 0l2 0l2 0l2 0l2 0l2 0l2 0l2 0l2 0l2 0l2 0l2 0l2 0l2 0l2 0l2 0l2 0l2 0l2 0l2 0l2 0l2 0l2 0l2 0l2 0l2 0l2 0l2 0l2 0l2 0l2 0l2 0l2 0l2 0l2 0l2 0l2 0l2 0l0 -2.1l0 -2.1l0 -2.1l0 -2.1l0 -2.1l0 -2.1l0 -2.1l0 -2.1l0 -2.1l0 -2.1l0 -2.1l0 -2.1l0 -2.1l0 -2.1l0 -2.1l0 -2.1l0 -2.1l0 -2.1l0 -2.1l0 -2.1l0 -2.1l0 -2.1l0 -2.1l0 -2.1l0 -2.1l0 -2.1l0 -2.1l0 -2.1l0 -2.1l0 -2.1l0 -2.1l0 -2.1l0 -2.1l0 -2.1l0 -2.1l0 -2.1l0 -2.1l0 -2.1l0 -2.1l0 -2.1l0 -2.1l0 -2.1l0 -2.1l0 -2.1l0 -2.1l0 -2.1l0 -2.1l0 -2.1l0 -2.1l0 -2.1l0 -2.1l0 -2.1l0 -2.1l0 -2.1l0 -2.1l0 -2.1l0 -2.1l0 -2.1l0 -0.7l-2 -0.9l-0.5 -0.5l-1 -2.1l-0.5 0l-2 0l-2 0l-2 0l-2 0l-2 0l-2 0l-1 0l-1 2.1l-0.7 2.1l-0.7 2.1l-0.6 1l-0.5 1.1l-1.4 2.1l-0.1 0.1l-1.2 2l-0.8 1.1l-0.7 1l-1.3 1.8l-0.2 0.3l-1.8 2.1l-1.7 2.1l-0.3 0.4l-1.4 1.7l-0.6 0.6l-1.2 1.5l-0.8 0.9l-0.9 1.2l-1.1 1.2l-0.7 0.9l-1.3 1.5l-0.5 0.6l-1.5 1.8l-0.2 0.3l-1.8 2.1l-1.7 2.1l-0.3 0.4l-1.4 1.7l-0.6 0.6l-1.2 1.5l-0.8 0.9l-1 1.2l-1 1.2l-0.5 0.9l-1 2.1l-0.5 0.8l-0.6 1.3l-1 2.1l-0.4 0.4l-1 1.7l-1 0.9l-1.2 1.2l-0.8 0.8l-1.3 1.3l-0.7 0.7l-2 0.5l-2 0.4l-2 0.2l-2 -0.6l-2 -0.6l-1.6 -0.6l-0.4 -0.1l-2 -1.4l-0.7 -0.6l-1.3 -1.2l-1.1 -0.9l-0.9 -0.8l-1.5 -1.3l-0.5 -0.5l-1.6 -1.6l-0.4 -0.5l-1.6 -1.6l-0.4 -0.5l-1.6 -1.6l-0.4 -0.5l-1.3 -1.6l-0.7 -0.7l-2 -1.4l-2 -1.1l-1.5 -1l-0.5 -0.4l-2 -1.3l-0.9 -0.4l-1.1 -0.6l-1.1 0.6l0.6 2.1l0.2 2.1l-1 2.1l-0.7 0.5l-1.9 1.6l-0.1 0l-2 1.1l-2 1l-2 0.9l-2 0.6l-2 0.6l-0.3 0l-1.7 0.2l-2 0.2l-2 0l-2 0l-2 -0.1l-2 -0.1l-2 -0.1l-2 -0.1l-0.1 0l-1.9 0l-2 0l-2 0l-2 0l-2 0l-1.8 0l-0.2 0l-2 0l-2 0l-2 0l-2 0.1l-2 0l-2 0l-2 0l-2 0l-2 -0.1l-2 0l0 2.1l0 2.1l0 2.1l0 2.1l0 2.1l0 2.1l0 2.1l0 2.1l0 2.1l0 2.1l0 2.1l0 2.1l0 2.1l0 2.1l0 2.1l0 2.1l0 2.1l0 2.1l0 0.1l0.4 -0.1l1.6 -0.3l2 -0.3l2 -0.3l2 -0.1l2 0l2 0.1l2 0.2l2 0.1l2 0.1l2 0l2 -0.1l2 0l2 0l2 0l2 0l2 -0.2l2 -0.3l2 -0.3l2 -0.3l2 -0.2l2 0.1l2 0.3l2 0.4l2 0.5l2 0.5l0.2 0.1l1.8 0.7l2 1.3l0.1 0.1l1.9 2.1l2 1.1l2 0.6l2 0.3l0.8 0.1l1.2 0.2l2 0.4l2 0.7l1.6 0.8l0.4 0.2l2 1.3l1 0.6l1 0.8l1.5 1.3l0.5 0.5l1.5 1.6l0.5 0.6l1.3 1.5l0.7 0.8l0.9 1.3l1 2.1l0.1 0.4l0.4 1.7l0.3 2.1l0.1 2.1l0 2.1l0.1 2.1l0.2 2.1l0.3 2.1zM86 86.5l-1.3 -0.4l-0.6 -2.1l1.9 -1.1l0.8 1.1l-0.6 2.1zM59.8 35.7l0.2 0.3l0.1 -0.3l-0.1 -0.1z"/>
<path fill="#00fcff" d="M93.8 126l0.2 0l2 0l2 0l2 0l2 0l2 0l2 0l2 0l2 0l2 0l2 0l2 0l2 0l2 0l2 0l2 0l2 0l2 0l2 0l2 0l2 0l2 0l2 0l2 0l2 0l2 0l2 0l2 0l2 0l2 0l2 0l2 0l2 0l2 0l0 -2.1l0 -2.1l0 -2.1l0 -2.1l0 -2.1l0 -2.1l0 -2.1l0 -2.1l0 -2.1l0 -2.1l0 -2.1l0 -2.1l0 -2.1l0 -2.1l0 -2.1l0 -2.1l0 -2.1l0 -2.1l0 -2.1l0 -2.1l0 -2.1l0 -2.1l0 -2.1l0 -2.1l0 -2.1l0 -2.1l0 -2.1l0 -2.1l0 -2.1l0 -2.1l0 -2.1l0 -2.1l0 -2.1l0 -2.1l0 -2.1l0 -2.1l0 -2.1l0 -2.1l0 -2.1l0 -2.1l0 -2.1l0 -2.1l0 -2.1l0 -2.1l0 -2.1l0 -2.1l0 -2.1l0 -2.1l0 -2.1l0 -2.1l0 -2.1l0 -1.6l-2 0l-2 0.1l-2 0.2l-2 0.4l-2 0.8l-0.1 0.1l-1.9 1l-1.4 1.1l-0.6 0.5l-1.7 1.6l-0.3 0.3l-1.6 1.8l-0.4 0.4l-1.5 1.7l-0.5 0.6l-1.5 1.5l-0.5 0.5l-2 1.6l-2 1.3l-1.4 0.8l-0.6 0.3l-2 0.9l-1.6 0.9l-0.4 0.3l-2 1.7l-0.1 0.1l-1.5 2.1l-0.4 0.6l-1 1.5l-1 1.6l-0.4 0.5l-1.6 1.9l-0.3 0.2l-1.7 1.2l-2 0.5l-2 -0.6l-2 0.2l-0.3 0.8l-1.7 2.1l-1 2.1l-1 0.9l-0.7 1.2l-1.3 0.8l-1.8 1.3l-0.2 0.1l-2 1.9l-0.1 0.1l-1.9 1.8l-0.9 0.3l-1.1 1l-1.7 1.1l-0.3 1.4l-0.8 0.7l0.8 0.9l0.4 1.2l0.9 2.1l-0.2 2.1l-1.1 1.6l-0.4 0.5l-1.6 2.1l0 0.2l-0.4 1.9l0 2.1l0.2 2.1l0.1 2.1l-0.2 2.1l-0.4 2.1l-0.3 2.1l-0.5 2.1l-0.5 2l0 0.1l-0.8 2.1l-0.6 2.1l-0.5 2.1l-0.1 1.3l-0.1 0.8l0 2.1l0.1 1.7l0 0.4l0.3 2.1l0.4 2.1l0.4 2.1l0.5 2.1l0.4 2l0 0.1l0.4 2.1l0.4 2.1l0.5 2.1zM130 82.1l-0.3 -0.2l-1.7 -1.1l-1.5 -1l-0.5 -0.4l-1.9 -1.7l-0.1 -0.1l-2 -1.9l-0.1 -0.1l-1.8 -2.1l-0.1 -0.1l-1.3 -2l-0.7 -1.5l-0.2 -0.6l-0.7 -2.1l-0.5 -2.1l-0.6 -2l0 -0.1l-1.1 -2.1l-0.9 -0.9l-2 -0.9l-0.3 -0.3l-0.1 -2.1l0.4 -0.7l2 -0.8l2 -0.1l2 0.7l1.2 0.9l0.8 0.6l1.3 1.5l0.7 0.7l1.1 1.4l0.9 1.2l0.7 0.9l1.3 1.4l0.8 0.7l1.2 0.9l1.9 1.2l0.1 0.1l2 1.2l1.3 0.8l0.7 0.5l2 1.6l0.1 0l1.9 2.1l1.3 2.1l0.7 1.7l0.1 0.4l0 2.1l-0.1 0.4l-1.1 1.7l-0.9 0.8l-2 0.7l-2 0.1l-2 -0.6zM56 86.1l2 0.6l2 0.2l2 -0.1l2 -0.4l1.5 -0.3l0.5 -0.3l1.2 -1.8l0.1 -2.1l-0.1 -2.1l-0.3 -2.1l-0.5 -2.1l-0.4 -0.7l-0.8 -1.4l-1.2 -1.6l-0.4 -0.5l-1.1 -2.1l-0.3 -2.1l0.4 -2.1l1.3 -2.1l0.1 -0.1l2 -1.5l0.6 -0.5l1.4 -1.8l0.2 -0.3l0.4 -2.1l-0.6 -2.1l-0.5 -2.1l0.2 -2.1l0.3 -2.1l-2 -1.2l-2 0.5l-1.1 0.7l-0.9 0.4l-2 1l-1.1 0.7l-0.9 0.4l-2 1.1l-0.9 0.6l-1.1 0.5l-2 1.3l-0.5 0.3l-1.5 0.2l-2 0.3l-2 0.6l-1.9 1l-0.1 0l-2 0.3l-2 0.3l-2 0.2l-2 0.2l-2 0.2l-2 0.3l-2 0.4l-1 0.2l-1 0.2l-2 0.5l-2 0.6l-2 0.7l-0.4 0.1l-1.6 0.7l-2 0.7l-2 0.7l-0.2 0l-1.8 0.1l-1.8 -0.1l-0.2 0l-2 -0.2l-2 -0.2l-2 -0.1l-2 0.1l-2 0.1l-2 0.3l0 2.1l0 2.1l0 2.1l0 2.1l0 2.1l0 2.1l0 2.1l0 2.1l0 1.1l2 0.4l2 0.3l2 0.1l2 0.1l0.5 0.1l1.5 0.3l2 0.6l2 0.7l2 0.3l2 -0.2l2 -0.5l2 -0.3l2 -0.1l2 0.2l2 0.5l2 0.5l1.2 0.1l0.8 0.1l0.4 -0.1l1.6 -0.3l2 -0.6l2 -0.4l2 -0.2l2 0.1l2 0.3l2 0.6l1.6 0.5l0.4 0.1l2 0.3l2 0.4l2 0.6zM138 14.7l0 0.1l0.1 -0.1l-0.1 0zM139.9 12.6l0.1 0.3l0.2 -0.3l-0.2 -0.4zM141.9 10.5l0.1 0l0.6 -2.1l-0.6 -0.7l-0.1 0.7zM143.8 4.2l0.2 1.9l0.5 -1.9l-0.3 -2.1l-0.2 0zM145.8 0l0.2 1l0.3 -1l-0.3 0z"/>
<path fill="#04ffd6" d="M134.2 123.9l1.8 0.7l2 0.6l2 0.4l2 0.3l2 0.1l0.3 0l1.7 0l2 0l2 0l2 0l2 0l2 -2.1l1.2 -2.1l0 -2.1l-1 -2.1l-0.2 -0.3l-1.2 -1.8l-0.8 -1.2l-1.2 -0.9l-0.8 -1.3l-0.6 -0.8l-1.2 -2.1l-0.2 -0.3l-1 -1.8l-1 -1.9l-0.1 -0.2l-0.9 -2.1l-0.5 -2.1l-0.3 -2.1l0.1 -2.1l0.3 -2.1l0.4 -2.1l0.4 -2.1l-0.1 -2.1l-1.3 -1.3l-2 0.9l-0.4 0.4l-1.6 1.7l-0.5 0.4l-1.5 1.3l-1.6 0.8l-0.4 0.2l-2 0.6l-2 0.2l-2 -0.3l-1.3 -0.7l-0.7 -0.3l-2 -1.4l-0.6 -0.4l-1.4 -0.7l-2 -1l-0.8 -0.4l-1.2 -0.6l-2 -1.2l-0.6 -0.3l-1.4 -0.9l-2 0.6l-0.2 0.3l-0.9 2.1l-0.9 1.1l-1.2 1l-0.8 0.4l-2 0.3l-2 0l-2 0l-2 0.5l-1.3 0.9l-0.7 0.4l-1.5 1.7l-0.5 0.5l-1.1 1.6l-0.9 0.6l-1.1 1.5l-0.9 0.4l-1.3 1.7l-0.7 1.6l-0.3 0.5l-0.4 2.1l0.7 2.1l1 2.1l1 1.2l1.5 0.9l0.5 0.6l1.8 1.5l0.2 0.3l2 1.8l2 1.6l1.1 0.5l0.9 0.4l2 0.6l2 0.3l2 0.3l2 0.3l1.8 0.2l0.2 0l2 0.4l2 0.3l2 0.5l2 0.4l2 0.4l1.1 0.1l0.9 0.2l2 0.8l2 0.7l2 0.4zM1.3 77.7l0.7 0.6l2 1.1l2 0.1l2 -0.3l2 -1.4l0.1 -0.1l1.8 -2.1l0.1 -0.8l0.4 -1.3l-0.4 -0.6l-0.8 -1.5l-1.2 -1l-2 -0.6l-2 0.1l-2 1.1l-0.6 0.4l-1.4 1l-1 1.1l-0.6 2.1zM50.1 77.7l1.9 0.9l2 0.6l2 0.1l1.4 -1.6l-1 -2.1l-0.4 -0.6l-1.1 -1.5l-0.9 -1.6l-0.3 -0.5l-0.2 -2.1l0.5 -0.2l1.5 -1.9l0.5 -0.4l1.5 -1.7l0.5 -0.8l1 -1.3l0.6 -2.1l0.2 -2.1l0.2 -1l0.5 -1.1l1.3 -2.1l0.2 -0.4l1.1 -1.7l-1.1 -1.1l-2 0.4l-1.7 0.7l-0.3 0.1l-2 0.9l-1.7 1.1l-0.3 0.1l-2 0.6l-2 0.5l-2 0.8l-0.1 0.1l-1.9 0.4l-2 0.6l-1.6 1.1l-0.4 0.2l-2 1.1l-1.2 0.8l-0.8 0.5l-2 1.1l-0.8 0.5l-1.2 1l-1.2 1.1l-0.7 2.1l-0.1 2.1l0.6 2.1l1.4 1.6l0.6 0.5l1.4 1.5l1.2 0.6l0.8 0.4l2 0.5l2 0.2l2 0.1l2 -0.1l2 -0.1l2 1.1zM145.4 71.4l0.6 0.8l0.7 -0.8l1.3 -0.6l1.1 -1.5l0.9 -0.7l1.8 -1.4l0.2 -0.1l2 -1l2 -0.5l2 -0.2l2 0l0 -0.3l0 -2.1l0 -2.1l0 -2.1l0 -2.1l0 -2.1l0 -2.1l0 -2.1l0 -2.1l0 -2.1l0 -2.1l0 -2.1l0 -2.1l0 -2.1l0 -2.1l0 -2.1l0 -2.1l0 -2.1l0 -2.1l0 -2l-0.6 -0.1l-1.4 -0.1l-2 -0.1l-1.4 0.2l-0.6 0.1l-2 0.5l-2 0.9l-1 0.6l-1 0.6l-1.8 1.5l-0.2 0.2l-2 1.9l-2 1.9l-0.2 0.2l-1.8 1.5l-0.9 0.6l-1.1 0.7l-2 1.2l-0.3 0.2l-1.7 1.1l-1.7 1l-0.3 0.2l-1.9 1.9l-0.1 0.1l-1.2 2l-0.8 1.9l-0.1 0.2l-0.6 2.1l-0.2 2.1l0 2.1l0.4 2.1l0.5 1.3l0.3 0.8l1.3 2.1l0.4 0.5l1.7 1.6l0.3 0.2l2 1.3l1 0.6l1 0.6l2 1.4l0.2 0.1l1.8 1.6l0.5 0.5l1.5 1.4l0.8 0.7l1.2 1.3zM104.6 67.2l1.4 1l2 0.6l2 -0.7l0.5 -0.9l0.7 -2.1l-1 -2.1l-0.2 -0.1l-2 -1.6l-0.4 -0.4l-1.6 -1.5l-2 0.4l-0.9 1.1l-1.1 2.1l0.7 2.1l1.3 1.7z"/>
<path fill="#13ffaa" d="M143.4 123.9l0.6 0.2l2 0.7l2 0.4l2 0.3l2 0l2 -1l0.6 -0.6l1 -2.1l0 -2.1l-0.9 -2.1l-0.7 -0.7l-2 -1.1l-1.4 -0.3l-0.6 -0.4l-2 -0.9l-2 -0.5l-1.4 -0.3l-0.6 -0.4l-2 -0.9l-2 -0.4l-2 -0.3l-0.8 -0.1l-1.2 -0.6l-2 -0.8l-2 -0.4l-2 -0.2l-0.4 -0.1l-1.6 -0.7l-2 -0.7l-2 -0.3l-2 -0.3l-0.4 -0.1l-1.6 -0.8l-2 -0.7l-2 -0.3l-2 -0.2l-0.6 -0.1l-1.4 -0.5l-2 -0.6l-2 -0.6l-1.3 -0.4l-0.7 -0.5l-2 -1l-2 -0.6l-2 -1.2l-2 0.1l-1.4 1.1l-0.6 0.4l-1.3 1.7l-0.3 2.1l0.5 2.1l1.1 1.4l1.1 0.7l0.9 0.8l2 1l0.6 0.3l1.4 1.1l2 0.8l0.4 0.2l1.6 1.2l2 0.4l2 0.2l2 0.2l0.4 0.1l1.6 0.6l2 0.7l2 0.4l2 0.3l0.5 0.1l1.5 0.7l2 0.6l2 0.4l2 0.3l0.3 0.1l1.7 0.8l2 0.7l2 0.4l0.9 0.2l1.1 0.5l2 0.7l2 0.4l2 0.3zM2.9 77.7l1.1 0.8l2 0.3l2 -0.7l0.6 -0.4l1.4 -1.1l0.9 -1l0.3 -2.1l-1.2 -1.4l-1.5 -0.7l-0.5 -0.3l-2 0.3l-2 0.6l-1.5 1.5l-0.5 1.7l-0.2 0.4l0.2 0.3zM37.1 71.4l0.9 0.4l2 0l2 -0.4l2 -0.1l2 -0.2l2 -0.5l1.8 -1.3l0.2 0l2 -0.7l1.7 -1.4l0.3 -0.2l2 -1.8l0.1 -0.1l1.5 -2.1l0.4 -1.4l0.3 -0.7l0.1 -2.1l0.4 -2.1l0.4 -2.1l-1.2 -0.6l-1.7 0.6l-0.3 0.1l-2 0.7l-2 0.7l-1.7 0.6l-0.3 0.1l-2 0.3l-2 0.5l-2 1.1l-0.1 0.1l-1.9 0.9l-1.5 1.2l-0.5 0.4l-2 1.6l-0.2 0.1l-1.8 1.1l-1.1 1l-0.8 2.1l0.2 2.1l1.7 1.8zM146.6 54.6l1.4 0.8l2 0.7l2 -0.1l2 -0.4l2 -0.7l0.8 -0.3l1.2 -0.6l2 -1.3l0 -0.2l0 -2.1l0 -2.1l0 -2.1l0 -2.1l0 -2.1l0 -2.1l0 -2.1l0 -2.1l0 -1.2l-1.2 -0.9l-0.8 -0.4l-2 -0.5l-2 0.1l-2 0.7l-0.2 0.1l-1.8 1.2l-1.1 0.9l-0.9 0.7l-1.5 1.4l-0.5 0.5l-1.8 1.6l-0.2 0.3l-1.8 1.8l-0.2 0.3l-1.3 1.8l-0.7 1.8l-0.1 0.3l-0.2 2.1l0.3 0.9l0.7 1.2l1.3 1l1.6 1.1l0.4 0.2l2 1.5z"/>
<path fill="#30ff7f" d="M147 123.9l1 0.3l2 0.5l2 0.1l1.3 -0.9l0.7 -0.6l0.9 -1.5l0 -2.1l-0.9 -1.5l-0.6 -0.6l-1.4 -1l-2 -0.5l-2 -0.5l-0.4 -0.1l-1.6 -0.7l-2 -0.6l-2 -0.4l-2 -0.4l-2 -0.8l-2 -0.6l-2 -0.4l-1.1 -0.3l-0.9 -0.4l-2 -0.7l-2 -0.4l-2 -0.4l-0.7 -0.2l-1.3 -0.6l-2 -0.5l-2 -0.5l-2 -0.4l-0.3 -0.1l-1.7 -0.7l-2 -0.5l-2 -0.3l-2 -0.2l-1.4 -0.4l-0.6 -0.3l-2 -1.1l-1.7 -0.7l-0.3 -0.2l-2 -1.1l-2 -0.7l-2 0l-2 1.4l-0.5 0.6l-0.4 2.1l0.7 2.1l0.2 0.3l2 1.5l0.6 0.3l1.4 1l2 0.9l0.3 0.2l1.7 1.1l2 0.9l0.4 0.1l1.6 0.6l2 0.4l2 0.3l2 0.3l2 0.5l2 0.7l2 0.5l2 0.5l1.7 0.4l0.3 0.1l2 0.7l2 0.5l2 0.5l1 0.3l1 0.5l2 0.6l2 0.5l2 0.5l2 0.7l2 0.4l2 0.4l2 0.4zM4.1 77.7l1.9 0.5l1.1 -0.5l0.9 -0.2l2 -1.9l0 -0.6l0.3 -1.5l-0.3 -0.3l-2 -1.5l-2 0.1l-2 0.9l-0.8 0.8l-0.8 2.1l1.6 2.1zM35.6 69.3l0.4 0.4l2 0.9l2 -0.2l2 -0.3l2 -0.1l2 -0.2l1.2 -0.5l0.8 -0.1l2 -0.6l2 -0.9l0.6 -0.5l1.4 -0.9l1.3 -1.2l0.7 -1l0.9 -1.1l0.6 -2.1l0 -2.1l-0.1 -2.1l-1.4 -1l-2 0.4l-1.6 0.6l-0.4 0.1l-2 0.4l-2 0.4l-2 0.6l-1 0.6l-1 0.4l-2 1.2l-0.6 0.5l-1.4 1.3l-1 0.8l-1 0.7l-1.8 1.4l-0.2 0.3l-1 1.8z"/>
<path fill="#5cff56" d="M149.8 123.9l0.2 0l2 0.1l0.2 -0.1l1.8 -1.8l0.2 -0.3l0 -2.1l-0.2 -0.3l-1.8 -1.8l-0.2 -0.1l-2 -0.7l-2 -0.5l-2 -0.5l-0.8 -0.3l-1.2 -0.4l-2 -0.6l-2 -0.4l-2 -0.5l-0.7 -0.2l-1.3 -0.5l-2 -0.6l-2 -0.5l-1.6 -0.5l-0.4 -0.2l-2 -0.6l-2 -0.4l-2 -0.5l-1.3 -0.4l-0.7 -0.3l-2 -0.5l-2 -0.5l-2 -0.5l-1.1 -0.3l-0.9 -0.3l-2 -0.4l-2 -0.3l-2 -0.5l-1.1 -0.6l-0.9 -0.5l-2 -0.9l-1.2 -0.7l-0.8 -0.4l-2 -0.9l-2 0l-1.6 1.3l-0.4 1l-0.3 1.1l0.3 0.8l0.7 1.3l1.3 1l1.8 1.1l0.2 0.1l2 1.1l1.6 0.9l0.4 0.2l2 1.1l2 0.5l1.4 0.3l0.6 0.2l2 0.4l2 0.3l2 0.5l2 0.5l0.4 0.2l1.6 0.5l2 0.5l2 0.5l2 0.6l0.1 0l1.9 0.6l2 0.5l2 0.6l1.1 0.4l0.9 0.4l2 0.6l2 0.4l2 0.5l0.7 0.2l1.3 0.4l2 0.4l2 0.4l2 0.4zM2.9 75.6l1.1 1.4l2 0.6l2 -0.6l1.5 -1.4l0.1 -2.1l-1.6 -1.3l-2 -0.1l-2 1.3l-0.1 0.1zM37.3 69.3l0.7 0.4l2 -0.3l0.3 -0.1l1.7 -0.3l2 0l2 -0.1l2 -0.3l2 -0.6l1.5 -0.8l0.5 -0.3l2 -1.4l0.5 -0.4l1.5 -2l0.1 -0.1l0.7 -2.1l0 -2.1l-0.8 -2l-2 0l-2 0.4l-2 0.4l-2 0.5l-2 0.7l-2 0.8l-1.8 1.3l-0.2 0.2l-2 1.9l-2 1.5l-0.8 0.6l-1.2 1.8l-0.2 0.3l0.2 0.5z"/>
<path fill="#97ff2e" d="M143.4 121.8l0.6 0.1l2 0.4l2 0.4l2 0.3l2 0.1l1.3 -1.3l0 -2.1l-1.3 -1.3l-1.9 -0.8l-0.1 0l-2 -0.6l-2 -0.5l-2 -0.5l-1.3 -0.5l-0.7 -0.2l-2 -0.5l-2 -0.4l-2 -0.6l-0.9 -0.4l-1.1 -0.4l-2 -0.5l-2 -0.5l-2 -0.7l-2 -0.5l-2 -0.5l-2 -0.5l-1.7 -0.6l-0.3 -0.1l-2 -0.5l-2 -0.5l-2 -0.4l-2 -0.5l-0.4 -0.1l-1.6 -0.3l-2 -0.4l-2 -1l-0.6 -0.4l-1.4 -0.7l-2 -0.9l-0.8 -0.5l-1.2 -0.5l-2 0l-0.7 0.5l-0.8 2.1l1.2 2.1l0.3 0.3l2 1l1.2 0.8l0.8 0.4l2 1l1 0.7l1 0.5l2 0.5l2 0.4l2 0.5l0.8 0.2l1.2 0.2l2 0.5l2 0.5l2 0.6l0.8 0.3l1.2 0.3l2 0.5l2 0.5l2 0.6l0.4 0.2l1.6 0.5l2 0.5l2 0.6l1.2 0.5l0.8 0.3l2 0.4l2 0.4l2 0.5zM3.4 75.6l0.6 0.8l2 0.9l2 -0.7l1.1 -1l0 -2.1l-1.1 -0.9l-2 -0.1l-1.5 1l-0.5 0.9zM36.8 67.2l1.2 1.5l2 -0.2l2 -0.2l2 0.1l2 0l2 -0.3l2 -0.7l0.4 -0.2l1.6 -0.9l1.7 -1.2l0.3 -0.3l1.4 -1.8l0.6 -1.9l0.1 -0.2l-0.1 -2.1l0 -0.1l-2 -1.3l-2 0.3l-2 0.4l-2 0.4l-0.8 0.3l-1.2 0.3l-2 0.9l-1.2 0.9l-0.8 0.8l-1.4 1.3l-0.6 0.9l-1.7 1.2l-0.3 0.3z"/>
<path fill="#e3ff0a" d="M147.2 121.8l0.8 0.1l2 0.2l2 0l0.3 -0.3l0 -2.1l-0.3 -0.3l-2 -0.5l-2 -0.8l-0.8 -0.5l-1.2 -0.3l-2 -0.4l-2 -0.5l-2 -0.8l-0.3 -0.1l-1.7 -0.3l-2 -0.5l-2 -0.6l-1.4 -0.7l-0.6 -0.2l-2 -0.4l-2 -0.4l-2 -0.6l-0.9 -0.5l-1.1 -0.2l-2 -0.4l-2 -0.4l-2 -0.8l-0.6 -0.3l-1.4 -0.3l-2 -0.3l-2 -0.3l-2 -0.4l-2 -0.7l-0.1 -0.1l-1.9 -0.7l-2 -1.2l-0.3 -0.2l-1.7 -0.6l-2 -0.8l-2 0.1l-0.4 1.3l0.4 0.9l1.3 1.2l0.7 0.3l2 1.1l0.9 0.7l1.1 0.5l2 1.1l0.9 0.5l1.1 0.3l2 0.3l2 0.2l2 0.4l2 0.9l2 0.4l2 0.4l2 0.5l1.7 0.8l0.3 0.1l2 0.3l2 0.5l2 0.6l1 0.6l1 0.2l2 0.5l2 0.6l1.8 0.8l0.2 0.1l2 0.3l2 0.3l2 0.4l2 0.5zM3.9 75.6l0.1 0.2l2 1.1l2 -0.7l0.6 -0.6l0 -2.1l-0.6 -0.5l-2 -0.1l-0.9 0.6l-1.1 1.8zM37.7 67.2l0.3 0.4l2 0.1l2 -0.1l2 0.2l2 0l2 -0.3l1 -0.3l1 -0.4l2 -1.1l0.9 -0.6l1.1 -1.2l0.7 -0.9l0.7 -2.1l-0.2 -2.1l-1.2 -0.8l-2 0.1l-2 0.4l-1.3 0.3l-0.7 0.1l-2 0.5l-2 1l-0.7 0.5l-1.3 1.3l-0.8 0.8l-1.2 1.7l-0.5 0.4l-1.5 1.7z"/>
<path fill="#ffe100" d="M4.4 75.6l1.6 1l2 -0.8l0.2 -0.2l-0.2 -2.1l-2 -0.2l-0.4 0.2zM44.5 67.2l1.5 0.1l0.5 -0.1l1.5 -0.3l2 -0.7l2 -1.1l2 -2l0.1 -0.1l0.6 -2.1l-0.4 -2.1l-0.3 -0.2l-2 -0.1l-1.4 0.3l-0.6 0.1l-2 0.3l-2 0.5l-2 1.1l-0.1 0.1l-1.9 1.9l-0.2 0.2l-1 2.1l1.2 1.4l2 0.7z"/>
<path fill="#ffb500" d="M4.9 75.6l1.1 0.6l1.5 -0.6l-1.5 -1.8zM42.1 65.1l1.9 1.2l2 0.3l2 -0.3l2 -0.8l0.8 -0.4l1.2 -0.7l1.3 -1.4l0.7 -2l0 -0.1l0 -0.2l-2 -1.6l-2 0.2l-2 0.1l-2 0.6l-1.6 0.9l-0.4 0.3l-1.7 1.8z"/>
<path fill="#ff8a00" d="M5.5 75.6l0.5 0.3l0.7 -0.3l-0.7 -0.8zM43.5 65.1l0.5 0.3l2 0.5l2 -0.3l1.4 -0.5l0.6 -0.1l2 -1.4l0.6 -0.6l0.6 -2.1l-1.2 -1l-2 -0.3l-2 0.1l-2 0.6l-1.1 0.6l-0.9 0.8l-1.3 1.3z"/>
<path fill="#ff6000" d="M45.6 65.1l0.4 0.1l0.8 -0.1l1.2 -0.1l2 -0.4l1.9 -1.6l0.1 -0.6l0.3 -1.5l-0.3 -0.3l-2 -0.6l-2 0l-2 0.6l-0.5 0.3l-1.5 1.2l-0.9 0.9l0.9 1.6z"/>
<path fill="#ff3800" d="M43.5 63l0.5 0.9l2 1l2 -0.1l2 -0.6l1.5 -1.2l-0.1 -2.1l-1.4 -0.6l-2 0l-2 0.6l-2 1.6z"/>
<path fill="#ff1200" d="M43.9 63l0.1 0.2l2 1.4l2 0l2 -0.8l1 -0.8l-0.5 -2.1l-0.5 -0.2l-2 -0.2l-1.2 0.4l-0.8 0.3l-2 1.7z"/>
<path fill="#ee0000" d="M44.3 63l1.7 1.3l2 0l2 -0.9l0.5 -0.4l-0.5 -1.5l-1.1 -0.6l-0.9 -0.1l-0.4 0.1l-1.6 0.6z"/>
<path fill="#c50000" d="M44.6 63l1.4 1.1l2 0l2 -1.1l0 -0.1l-2 -1.8l-2 0.7z"/>
<path fill="#9c0000" d="M45 63l1 0.8l2 0.1l1.6 -0.9l-1.6 -1.5l-2 0.6z"/></g>
<g id="fld_f"><rect x="0" y="0" width="160" height="126" fill="#0000fa"/>
<path fill="#0007ff" d="M0 126l2 0l2 0l2 0l2 0l2 0l2 0l2 0l2 0l2 0l2 0l2 0l2 0l2 0l2 0l2 0l2 0l2 0l2 0l2 0l2 0l2 0l2 0l2 0l2 0l2 0l2 0l2 0l2 0l2 0l2 0l2 0l2 0l2 0l2 0l2 0l2 0l2 0l2 0l2 0l2 0l2 0l2 0l2 0l2 0l2 0l2 0l2 0l2 0l2 0l2 0l2 0l2 0l2 0l2 0l2 0l2 0l2 0l2 0l2 0l2 0l2 0l2 0l2 0l2 0l2 0l2 0l2 0l2 0l2 0l2 0l2 0l2 0l2 0l2 0l2 0l2 0l2 0l2 0l2 0l2 0l0 -2.1l0 -2.1l0 -2.1l0 -2.1l0 -2.1l0 -2.1l0 -2.1l0 -2.1l0 -2.1l0 -2.1l0 -2.1l0 -2.1l0 -2.1l0 -2.1l0 -2.1l0 -2.1l0 -2.1l0 -2.1l0 -2.1l0 -2.1l0 -2.1l0 -2.1l0 -2.1l0 -2.1l0 -2.1l0 -2.1l0 -2.1l0 -2.1l0 -2.1l0 -2.1l0 -2.1l0 -2.1l0 -2.1l0 -2.1l0 -2.1l0 -2.1l0 -2.1l0 -2.1l0 -2.1l0 -2.1l0 -2.1l0 -2.1l0 -2.1l0 -2.1l0 -2.1l0 -2.1l0 -2.1l0 -2.1l0 -2.1l0 -2.1l0 -2.1l0 -2.1l0 -2.1l0 -2.1l0 -2.1l0 -2.1l0 -2.1l0 -2.1l0 -2.1l0 -2.1l-2 0l-2 0l-2 0l-2 0l-2 0l-2 0l-2 0l-2 0l-2 0l-2 0l-2 0l-2 0l-2 0l-2 0l-2 0l-2 0l-2 0l-2 0l-2 0l-2 0l-2 0l-2 0l-2 0l-2 0l-2 0l-2 0l-2 0l-2 0l-2 0l-2 0l-2 0l-2 0l-2 0l-2 0l-2 0l-2 0l-2 0l-2 0l-2 0l-2 0l-2 0l-2 0l-2 0l-2 0l-2 0l-2 0l-2 0l-2 0l-2 0l-2 0l-2 0l-2 0l-2 0l-2 0l-2 0l-2 0l-2 0l-2 0l-2 0l-2 0l-2 0l-2 0l-2 0l-2 0l-2 0l-2 0l-2 0l-2 0l-2 0l-2 0l-2 0l-2 0l-2 0l-2 0l-2 0l-2 0l-2 0l-2 0l-2 0l-2 0l0 2.1l0 2.1l0 2.1l0 2.1l0 2.1l0 2.1l0 2.1l0 2.1l0 2.1l0 2.1l0 2.1l0 2.1l0 2.1l0 2.1l0 2.1l0 2.1l0 2.1l0 2.1l0 2.1l0 2.1l0 2.1l0 2.1l0 2.1l0 2.1l0 2.1l0 2.1l0 2.1l0 2.1l0 2.1l0 2.1l0 2.1l0 2.1l0 2.1l0 2.1l0 2.1l0 2.1l0 2.1l0 2.1l0 2.1l0 2.1l0 2.1l0 2.1l0 2.1l0 2.1l0 2.1l0 2.1l0 2.1l0 2.1l0 2.1l0 2.1l0 2.1l0 2.1l0 2.1l0 2.1l0 2.1l0 2.1l0 2.1l0 2.1l0 2.1z"/>
<path fill="#0030ff" d="M0 126l2 0l2 0l2 0l2 0l2 0l2 0l2 0l2 0l2 0l2 0l2 0l2 0l2 0l2 0l2 0l2 0l2 0l2 0l2 0l2 0l2 0l2 0l2 0l2 0l2 0l2 0l2 0l2 0l2 0l2 0l2 0l2 0l2 0l2 0l2 0l2 0l2 0l2 0l2 0l2 0l2 0l2 0l2 0l2 0l2 0l2 0l2 0l2 0l2 0l2 0l2 0l2 0l2 0l2 0l2 0l2 0l2 0l2 0l2 0l2 0l2 0l2 0l2 0l2 0l2 0l2 0l2 0l2 0l2 0l2 0l2 0l2 0l2 0l2 0l2 0l2 0l2 0l2 0l2 0l2 0l0 -2.1l0 -2.1l0 -2.1l0 -2.1l0 -2.1l0 -2.1l0 -2.1l0 -2.1l0 -2.1l0 -2.1l0 -2.1l0 -2.1l0 -2.1l0 -2.1l0 -2.1l0 -2.1l0 -2.1l0 -2.1l0 -2.1l0 -2.1l0 -2.1l0 -2.1l0 -2.1l0 -2.1l0 -2.1l0 -2.1l0 -2.1l0 -2.1l0 -2.1l0 -2.1l0 -2.1l0 -2.1l0 -2.1l0 -2.1l0 -2.1l0 -2.1l0 -2.1l0 -2.1l0 -2.1l0 -2.1l0 -2.1l0 -2.1l0 -2.1l0 -2.1l0 -2.1l0 -2.1l0 -2.1l0 -2.1l0 -2.1l0 -2.1l0 -2.1l0 -2.1l0 -2.1l0 -2.1l0 -2.1l0 -2.1l0 -2.1l0 -2.1l0 -2.1l0 -2.1l-2 0l-2 0l-2 0l-2 0l-2 0l-2 0l-2 0l-2 0l-2 0l-2 0l-2 0l-2 0l-2 0l-2 0l-2 0l-2 0l-2 0l-2 0l-2 0l-2 0l-2 0l-2 0l-2 0l-2 0l-2 0l-2 0l-2 0l-2 0l-2 0l-2 0l-2 0l-2 0l-2 0l-2 0l-2 0l-2 0l-2 0l-2 0l-2 0l-2 0l-2 0l-2 0l-2 0l-2 0l-2 0l-2 0l-2 0l-2 0l-2 0l-2 0l-2 0l-2 0l-2 0l-2 0l-2 0l-2 0l-2 0l-2 0l-2 0l-2 0l-2 0l-2 0l-2 0l-2 0l-2 0l-2 0l-2 0l-2 0l-2 0l-2 0l-2 0l-2 0l-2 0l-2 0l-2 0l-2 0l-2 0l-2 0l-2 0l-2 0l0 2.1l0 2.1l0 2.1l0 2.1l0 2.1l0 2.1l0 2.1l0 2.1l0 2.1l0 2.1l0 2.1l0 2.1l0 2.1l0 2.1l0 2.1l0 2.1l0 2.1l0 2.1l0 2.1l0 2.1l0 2.1l0 2.1l0 2.1l0 2.1l0 2.1l0 2.1l0 2.1l0 2.1l0 2.1l0 2.1l0 2.1l0 2.1l0 2.1l0 2.1l0 2.1l0 2.1l0 2.1l0 2.1l0 2.1l0 2.1l0 2.1l0 2.1l0 2.1l0 2.1l0 2.1l0 2.1l0 2.1l0 2.1l0 2.1l0 2.1l0 2.1l0 2.1l0 2.1l0 2.1l0 2.1l0 2.1l0 2.1l0 2.1l0 2.1z"/>
<path fill="#0059ff" d="M0 126l2 0l2 0l2 0l2 0l2 0l2 0l2 0l2 0l2 0l2 0l2 0l2 0l2 0l2 0l2 0l2 0l2 0l2 0l2 0l2 0l2 0l2 0l2 0l2 0l2 0l2 0l2 0l2 0l2 0l2 0l2 0l2 0l2 0l2 0l2 0l2 0l2 0l2 0l2 0l2 0l2 0l2 0l2 0l2 0l2 0l2 0l2 0l2 0l2 0l2 0l2 0l2 0l2 0l2 0l2 0l2 0l2 0l2 0l2 0l2 0l2 0l2 0l2 0l2 0l2 0l2 0l2 0l2 0l2 0l2 0l2 0l2 0l2 0l2 0l2 0l2 0l2 0l2 0l2 0l2 0l0 -2.1l0 -2.1l0 -2.1l0 -2.1l0 -2.1l0 -2.1l0 -2.1l0 -2.1l0 -2.1l0 -2.1l0 -2.1l0 -2.1l0 -2.1l0 -2.1l0 -2.1l0 -2.1l0 -2.1l0 -2.1l0 -2.1l0 -2.1l0 -2.1l0 -2.1l0 -2.1l0 -2.1l0 -2.1l0 -2.1l0 -2.1l0 -2.1l0 -2.1l0 -2.1l0 -2.1l0 -2.1l0 -2.1l0 -2.1l0 -2.1l0 -2.1l0 -2.1l0 -2.1l0 -2.1l0 -2.1l0 -2.1l0 -2.1l0 -2.1l0 -2.1l0 -2.1l0 -2.1l0 -2.1l0 -2.1l0 -2.1l0 -2.1l0 -2.1l0 -2.1l0 -2.1l0 -2.1l0 -2.1l0 -2.1l0 -2.1l0 -2.1l0 -2.1l0 -2.1l-2 0l-2 0l-2 0l-2 0l-2 0l-2 0l-2 0l-2 0l-2 0l-2 0l-2 0l-2 0l-2 0l-2 0l-2 0l-2 0l0.3 2.1l0.2 2.1l0.1 2.1l0 2.1l-0.2 2.1l-0.4 2.1l-0.9 2.1l-1.1 1.8l-0.2 0.3l-1.8 1.9l-0.3 0.2l-1.7 1l-2 0.7l-2 0.4l-2 0l-2 -0.3l-2 -0.4l-2 -0.5l-1.8 -0.9l-0.2 -0.1l-1.8 -2l-0.2 -0.3l-0.9 -1.8l-0.5 -2.1l-0.1 -2.1l0.1 -2.1l0.4 -2.1l0.6 -2.1l0.4 -1.3l0.3 -0.8l0.9 -2.1l-1.2 0l-2 0l-2 0l-2 0l-2 0l-2 0l-2 0l-2 0l-2 0l-2 0l-2 0l-2 0l-2 0l-2 0l-2 0l-2 0l-2 0l-2 0l-2 0l-2 0l-2 0l-2 0l-2 0l-2 0l-2 0l-2 0l-2 0l-2 0l-2 0l-2 0l-2 0l-2 0l-2 0l-2 0l-2 0l-2 0l-2 0l-2 0l-2 0l-2 0l-2 0l-2 0l-2 0l-2 0l-2 0l-2 0l-2 0l-2 0l-2 0l-2 0l-2 0l-2 0l-2 0l-2 0l0 2.1l0 2.1l0 2.1l0 2.1l0 2.1l0 2.1l0 2.1l0 2.1l0 2.1l0 2.1l0 2.1l0 2.1l0 2.1l0 2.1l0 2.1l0 2.1l0 2.1l0 2.1l0 2.1l0 2.1l0 2.1l0 2.1l0 2.1l0 2.1l0 2.1l0 2.1l0 2.1l0 2.1l0 2.1l0 2.1l0 2.1l0 2.1l0 2.1l0 2.1l0 2.1l0 2.1l0 2.1l0 2.1l0 2.1l0 2.1l0 2.1l0 2.1l0 2.1l0 2.1l0 2.1l0 2.1l0 2.1l0 2.1l0 2.1l0 2.1l0 2.1l0 2.1l0 2.1l0 2.1l0 2.1l0 2.1l0 2.1l0 2.1l0 2.1zM22 107.3l-0.3 -0.2l-1.5 -2.1l-0.2 -1.8l0 -0.3l0 -0.1l0.9 -2l1.1 -1l2 -0.8l2 0.1l2 1l0.7 0.7l0.9 2.1l-0.2 2.1l-1.4 1.8l-0.4 0.3l-1.6 0.7l-2 0.2z"/>
<path fill="#0082ff" d="M0 126l2 0l2 0l2 0l2 0l2 0l2 0l2 0l2 0l2 0l2 0l2 0l2 0l2 0l2 0l2 0l2 0l2 0l2 0l2 0l2 0l2 0l2 0l2 0l2 0l2 0l2 0l2 0l2 0l2 0l2 0l2 0l2 0l2 0l2 0l2 0l2 0l2 0l2 0l2 0l2 0l2 0l2 0l2 0l2 0l2 0l2 0l2 0l2 0l2 0l2 0l2 0l2 0l2 0l2 0l2 0l2 0l2 0l2 0l2 0l2 0l2 0l2 0l2 0l2 0l2 0l2 0l2 0l2 0l2 0l2 0l2 0l2 0l2 0l2 0l2 0l2 0l2 0l2 0l2 0l2 0l0 -2.1l0 -2.1l0 -2.1l0 -2.1l0 -2.1l0 -2.1l0 -2.1l0 -2.1l0 -2.1l0 -2.1l0 -2.1l0 -2.1l0 -2.1l0 -2.1l0 -2.1l0 -2.1l0 -2.1l0 -2.1l0 -2.1l0 -2.1l0 -2.1l0 -2.1l0 -2.1l0 -2.1l0 -2.1l0 -2.1l0 -2.1l0 -2.1l0 -2.1l0 -2.1l0 -2.1l0 -2.1l0 -2.1l0 -2.1l0 -2.1l0 -2.1l0 -2.1l0 -2.1l0 -2.1l0 -2.1l0 -2.1l0 -2.1l0 -2.1l0 -2.1l0 -2.1l0 -2.1l0 -2.1l0 -2.1l0 -2.1l0 -2.1l0 -2.1l0 -2.1l0 -2.1l0 -2.1l0 -2.1l0 -2.1l0 -2.1l0 -2.1l0 -2.1l0 -2.1l-2 0l-2 0l-2 0l-2 0l-2 0l-2 0l-2 0l-2 0l-2 0l-1.9 0l-0.1 0.3l-1.2 1.8l-0.6 2.1l-0.2 1.2l-0.6 0.9l-1.1 2.1l-0.3 0.5l-1.3 1.6l-0.7 1.4l-0.4 0.7l-1.4 2.1l-0.2 0.3l-1.3 1.8l-0.7 0.8l-1 1.3l-1 1.3l-0.7 0.8l-1.3 1.5l-0.6 0.6l-1.4 1.6l-0.6 0.5l-1.4 1.8l-0.3 0.3l-1.6 2.1l-0.1 0.1l-1.8 2l-0.2 0.3l-1.6 1.8l-0.4 0.6l-1.4 1.5l-0.6 0.8l-1.2 1.3l-0.8 1l-1 1.1l-1 1.2l-0.8 0.9l-1.2 1.8l-0.3 0.3l-1.3 2.1l-0.4 1.4l-0.7 0.7l-1 2.1l-0.3 1l-1 1.1l-1 1.2l-0.9 0.9l-1.1 1l-1.8 1.1l-0.2 0l-1.9 0l-0.1 0l-2 -1.9l-0.4 -0.2l-1.6 -1l-0.9 -1.1l-1.1 -1.2l-0.6 -0.9l-1.4 -1.7l-0.3 -0.4l-1.4 -2.1l-0.3 -0.4l-1.3 -1.7l-0.7 -0.9l-0.9 -1.2l-1.1 -1.4l-0.6 -0.7l-1.4 -1.7l-0.4 -0.4l-1.6 -1.6l-0.6 -0.5l-1.4 -1.1l-1.6 -1l-0.4 -0.2l-2 -1.2l-1.3 -0.7l-0.7 -0.4l-2 -1.2l-0.8 -0.5l-1.2 -0.9l-1.6 -1.2l-0.4 -0.3l-2 -1.7l-0.1 -0.1l-1.9 -1.6l-0.6 -0.5l-1.4 -1.3l-0.9 -0.8l-1.1 -1.1l-1.1 -1l-0.9 -0.9l-1.3 -1.2l-0.7 -0.7l-1.9 -1.4l-0.1 -0.1l-2 -0.7l-2 0.2l-1.3 0.6l-0.7 0.3l-2 -0.2l-0.2 -0.1l-1.8 -1.8l-2 0l-0.6 -0.3l-1.4 -1.7l-0.8 -0.4l-1.2 -1.6l-0.8 -0.5l-1.2 -2l-0.1 -0.1l0.1 -2.1l0 -0.5l0.1 -1.6l-0.1 -1.3l-0.1 -0.8l-1.9 0l-2 0l-2 0l-2 0l-2 0l-2 0l-2 0l-1.9 0l1.9 1.2l1.2 0.9l0.8 0.8l1 1.3l0.8 2.1l-0.2 2.1l-1.3 2.1l-0.3 0.2l-2 1.1l-2 0.8l-2 -0.2l-2 -0.3l-2 -0.1l-2 0l-2 0.2l-2 0.3l-0.6 0.1l-1.4 0.1l-1.6 -0.1l-0.4 0l0 2.1l0 2.1l0 2.1l0 2.1l0 2.1l0 2.1l0 2.1l0 2.1l0 2.1l0 2.1l0 2.1l0 2.1l0 2.1l0 2.1l0 2.1l0 2.1l0 2.1l0 2.1l0 2.1l0 2.1l0 2.1l0 2.1l0 2.1l0 2.1l0 2.1l0 2.1l0 2.1l0 2.1l0 2.1l0 2.1l0 2.1l0 2.1l0 2.1l0 2.1l0 2.1l0 2.1l0 2.1l0 2.1l0 2.1l0 2.1l0 2.1l0 2.1l0 2.1l0 2.1l0 2.1l0 2.1l0 2.1l0 2.1l0 2.1l0 2.1l0 2.1l0 2.1l0 2.1zM24 117.9l-1.1 -0.3l-0.9 -0.2l-2 -0.7l-2 -1.2l-2 -1.7l-0.3 -0.4l-1.3 -2.1l-0.4 -1l-0.3 -1.1l-0.4 -2.1l-0.2 -2.1l-0.1 -2.1l0.2 -2.1l0.3 -2.1l0.5 -1.1l0.5 -1l1.5 -1.2l1.7 -0.9l0.3 -0.1l2 -0.6l2 -0.6l2 -0.3l2 0.1l2 0.2l2 0.3l2 0.1l2 -0.1l2 -0.2l2 -0.2l2 -0.1l2 0.4l2 0.6l1.8 0.5l0.2 0.1l2 1l1.4 1l0.6 1.6l0.1 0.5l-0.1 2.1l0 0.1l-0.6 2l-0.8 2.1l-0.6 1.2l-0.6 0.9l-1.3 2.1l-0.1 0.1l-1.6 2l-0.4 0.5l-1.7 1.6l-0.3 0.3l-2 1.5l-0.7 0.3l-1.3 0.7l-2 0.8l-2 0.4l-0.9 0.2l-1.1 0.2l-2 0.3l-2 0.1l-2 -0.1zM97.2 52.5l0.8 0.4l0.2 -0.4l-0.2 -0.5z"/>
<path fill="#00aaff" d="M63.6 123.9l0.4 2l0 0.1l2 0l2 0l2 0l2 0l2 0l2 0l2 0l2 0l2 0l2 0l2 0l2 0l2 0l2 0l2 0l2 0l2 0l2 0l2 0l2 0l2 0l2 0l2 0l2 0l2 0l2 0l2 0l2 0l2 0l2 0l2 0l2 0l2 0l2 0l2 0l2 0l2 0l2 0l2 0l2 0l2 0l2 0l2 0l2 0l2 0l2 0l2 0l2 0l0 -2.1l0 -2.1l0 -2.1l0 -2.1l0 -2.1l0 -2.1l0 -2.1l0 -2.1l0 -2.1l0 -2.1l0 -2.1l0 -2.1l0 -2.1l0 -2.1l0 -2.1l0 -2.1l0 -2.1l0 -2.1l0 -2.1l0 -2.1l0 -2.1l0 -2.1l0 -2.1l0 -2.1l0 -2.1l0 -2.1l0 -2.1l0 -2.1l0 -2.1l0 -2.1l0 -2.1l0 -2.1l0 -2.1l0 -2.1l0 -2.1l0 -2.1l0 -2.1l0 -2.1l0 -2.1l0 -2.1l0 -2.1l0 -2.1l0 -2.1l0 -2.1l0 -2.1l0 -2.1l0 -2.1l0 -2.1l0 -2.1l0 -2.1l0 -2.1l0 -2.1l0 -2.1l0 -2.1l0 -2.1l0 -2.1l0 -2.1l0 -2.1l0 -2.1l0 -2.1l-2 0l-2 0l-2 0l-2 0l-2 0l-2 0l-2 0l-2 0l-2 0l-0.2 0l-0.9 2.1l-0.7 2.1l-0.2 0.5l-0.8 1.6l-0.9 2.1l-0.3 0.5l-1.2 1.6l-0.8 1.3l-0.7 0.8l-1.2 2.1l-0.1 0.1l-1.5 2l-0.5 0.6l-1.3 1.5l-0.7 0.8l-1.1 1.3l-0.9 1.1l-0.9 1l-1.1 1.3l-0.8 0.8l-1.2 1.6l-0.4 0.5l-1.6 2l-0.1 0.1l-1.6 2.1l-0.3 0.3l-1.5 1.8l-0.5 0.6l-1.3 1.5l-0.7 0.8l-1.1 1.3l-0.9 1l-1 1.1l-1 1.2l-0.8 0.9l-1.2 1.4l-0.6 0.7l-1 2.1l-0.4 0.7l-0.9 1.4l-0.9 2.1l-0.2 0.4l-1 1.7l-1 1.6l-0.5 0.5l-1.5 1.5l-0.6 0.6l-1.4 1.4l-2 0.6l-0.6 0.1l-1.4 0.2l-2 -0.1l-0.3 -0.1l-1.7 -0.9l-2 -0.9l-0.6 -0.3l-1.4 -1.1l-0.8 -1l-1.2 -1.5l-0.6 -0.6l-1.4 -1.8l-0.3 -0.3l-1.7 -2l-0.1 -0.1l-1.8 -2.1l-0.1 -0.1l-1.8 -2l-0.2 -0.2l-1.7 -1.9l-0.3 -0.4l-2 -1.7l-2 -1.6l-0.6 -0.5l-1.4 -1.1l-1.2 -1l-0.8 -0.6l-2 -1.5l-2 -1.4l-0.9 -0.7l-1.1 -0.9l-1.5 -1.2l-0.5 -0.4l-2 -1.7l-2 -1.7l-0.5 -0.4l-1.5 -1.3l-0.9 -0.8l-1.1 -1l-1.3 -1.1l-0.7 -0.7l-2 -1.2l-2 0.3l-0.4 -0.5l-1.6 -1.1l-1.2 -1l-0.8 -0.7l-2 -0.9l-0.9 1.6l-0.7 2.1l-0.2 2.1l0.3 2.1l0.6 2.1l0.9 1.6l0.4 0.5l1.6 1.7l0.4 0.4l1.6 1.4l0.9 0.7l1.1 1l1.2 1.1l0.8 0.9l1.2 1.2l0.8 1.2l0.6 0.9l0.5 2.1l-1.1 2l-0.1 0.1l-1.9 0.9l-2 0.6l-2 0.2l-2 0l-2 -0.1l-2 -0.2l-2 -0.2l-2 -0.2l-2 -0.4l-2 -0.4l-1 -0.2l-1 -0.3l-2 -0.6l-2 -0.7l-1.5 -0.5l-0.5 -0.2l-2 -0.7l-2 -0.7l-2 -0.5l-2 -0.5l-2 -0.2l-2 -0.1l-2 0l-2 0.2l-2 0.3l-2 0.2l-2 0.1l0 2.1l0 2.1l0 2.1l0 2.1l0 2.1l0 2.1l0 2.1l0 2.1l0 2.1l0 2.1l0 2.1l0 2.1l0 2.1l0 2.1l0 2.1l0 2.1l0 2.1l0 2.1l0 2.1l0 2.1l0 2.1l0 2.1l0 2.1l0 2.1l0 2.1l0 2.1l0 2.1l0 2.1l0 2.1l0 2.1l0 2.1l0 2.1l0 1.4l1.7 -1.4l0.3 -0.3l1.2 -1.8l0.8 -1.9l0.1 -0.2l0.5 -2.1l0.5 -2.1l0.9 -1.9l0.1 -0.2l1.8 -2.1l0.1 0l2 -1.2l2 -0.7l1 -0.2l1 -0.1l2 -0.2l2 -0.2l2 -0.2l2 -0.3l2 -0.1l2 0.1l2 0.1l2 0.1l2 0l2 0l2 -0.1l2 -0.1l2 0l2 0.2l2 0.4l2 0.4l2 0.6l2 0.6l1.8 0.9l0.2 0.1l1.8 2l0.2 0.4l1.1 1.7l0.9 1.9l0.2 0.2l0.9 2.1l0.4 2.1l0.1 2.1l-0.2 2.1l-0.2 2.1l0.4 2.1l0.4 0.8l1.2 1.3l0.8 1l1.3 1.1l0.7 1.3l0.3 0.8l0.5 2.1l0.4 2.1z"/>
<path fill="#00d3ff" d="M83.8 126l0.2 0l2 0l2 0l2 0l2 0l2 0l2 0l2 0l2 0l2 0l2 0l2 0l2 0l2 0l2 0l2 0l2 0l2 0l2 0l2 0l2 0l2 0l2 0l2 0l2 0l2 0l2 0l2 0l2 0l2 0l2 0l2 0l2 0l2 0l2 0l2 0l2 0l2 0l2 0l0 -2.1l0 -2.1l0 -2.1l0 -2.1l0 -2.1l0 -2.1l0 -2.1l0 -2.1l0 -2.1l0 -2.1l0 -2.1l0 -2.1l0 -2.1l0 -2.1l0 -2.1l0 -2.1l0 -2.1l0 -2.1l0 -2.1l0 -2.1l0 -2.1l0 -2.1l0 -2.1l0 -2.1l0 -2.1l0 -2.1l0 -2.1l0 -2.1l0 -2.1l0 -2.1l0 -2.1l0 -2.1l0 -2.1l0 -2.1l0 -2.1l0 -2.1l0 -2.1l0 -2.1l0 -2.1l0 -2.1l0 -2.1l0 -2.1l0 -2.1l0 -2.1l0 -2.1l0 -2.1l0 -2.1l0 -2.1l0 -2.1l0 -2.1l0 -2.1l0 -2.1l0 -2.1l0 -2.1l0 -2.1l0 -2.1l0 -2.1l0 -2.1l0 -0.7l-2 -0.9l-0.5 -0.5l-1 -2.1l-0.5 0l-2 0l-2 0l-2 0l-2 0l-2 0l-2 0l-1 0l-1 2.1l-0.7 2.1l-0.7 2.1l-0.6 1l-0.5 1.1l-1.4 2.1l-0.1 0.1l-1.2 2l-0.8 1.1l-0.7 1l-1.3 1.8l-0.2 0.3l-1.8 2.1l-1.7 2.1l-0.3 0.4l-1.4 1.7l-0.6 0.6l-1.2 1.5l-0.8 0.9l-0.9 1.2l-1.1 1.2l-0.7 0.9l-1.3 1.5l-0.5 0.6l-1.5 1.8l-0.2 0.3l-1.8 2.1l-1.7 2.1l-0.3 0.4l-1.4 1.7l-0.6 0.6l-1.2 1.5l-0.8 0.9l-1 1.2l-1 1.2l-0.5 0.9l-1 2.1l-0.5 0.8l-0.6 1.3l-1 2.1l-0.4 0.4l-1 1.7l-1 0.9l-1.2 1.2l-0.8 0.8l-1.3 1.3l-0.7 0.7l-2 0.5l-2 0.4l-2 0.2l-2 -0.6l-2 -0.6l-1.6 -0.6l-0.4 -0.1l-2 -1.4l-0.7 -0.6l-1.3 -1.2l-1.1 -0.9l-0.9 -0.8l-1.5 -1.3l-0.5 -0.5l-1.6 -1.6l-0.4 -0.5l-1.6 -1.6l-0.4 -0.5l-1.6 -1.6l-0.4 -0.5l-1.3 -1.6l-0.7 -0.7l-2 -1.4l-2 -1.1l-1.5 -1l-0.5 -0.4l-2 -1.3l-0.9 -0.4l-1.1 -0.6l-1.1 0.6l0.6 2.1l0.2 2.1l-1 2.1l-0.7 0.5l-1.9 1.6l-0.1 0l-2 1.1l-2 1l-2 0.9l-2 0.6l-2 0.6l-0.3 0l-1.7 0.2l-2 0.2l-2 0l-2 0l-2 -0.1l-2 -0.1l-2 -0.1l-2 -0.1l-0.1 0l-1.9 0l-2 0l-2 0l-2 0l-2 0l-1.8 0l-0.2 0l-2 0l-2 0l-2 0l-2 0.1l-2 0l-2 0l-2 0l-2 0l-2 -0.1l-2 0l0 2.1l0 2.1l0 2.1l0 2.1l0 2.1l0 2.1l0 2.1l0 2.1l0 2.1l0 2.1l0 2.1l0 2.1l0 2.1l0 2.1l0 2.1l0 2.1l0 2.1l0 2.1l0.1 0l1.9 -0.5l2 -0.3l2 -0.3l2 -0.2l2 -0.2l2 0l2 0l2 0l2 -0.1l2 -0.2l2 -0.2l1.9 -0.1l0.1 0l0.1 0l1.9 0.1l2 0.1l2 0.2l2 0.1l2 -0.1l2 -0.1l2 -0.2l2 -0.1l2 0.2l2 0.3l2 0.5l2 0.5l2 0.5l0.3 0.1l1.7 0.7l2 1.3l0.1 0.1l1.9 2.1l2 1.1l2 0.6l2 0.3l0.8 0.1l1.2 0.2l2 0.4l2 0.7l1.6 0.8l0.4 0.2l2 1.3l1 0.6l1 0.8l1.5 1.3l0.5 0.5l1.5 1.6l0.5 0.6l1.3 1.5l0.7 0.8l0.9 1.3l1 2.1l0.1 0.4l0.4 1.7l0.3 2.1l0.1 2.1l0 2.1l0.1 2.1l0.2 2.1l0.3 2.1zM86 86.5l-1.3 -0.4l-0.6 -2.1l1.9 -1.1l0.8 1.1l-0.6 2.1zM59.8 35.7l0.2 0.3l0.1 -0.3l-0.1 -0.1z"/>
<path fill="#00fcff" d="M93.8 126l0.2 0l2 0l2 0l2 0l2 0l2 0l2 0l2 0l2 0l2 0l2 0l2 0l2 0l2 0l2 0l2 0l2 0l2 0l2 0l2 0l2 0l2 0l2 0l2 0l2 0l2 0l2 0l2 0l2 0l2 0l2 0l2 0l2 0l2 0l0 -2.1l0 -2.1l0 -2.1l0 -2.1l0 -2.1l0 -2.1l0 -2.1l0 -2.1l0 -2.1l0 -2.1l0 -2.1l0 -2.1l0 -2.1l0 -2.1l0 -2.1l0 -2.1l0 -2.1l0 -2.1l0 -2.1l0 -2.1l0 -2.1l0 -2.1l0 -2.1l0 -2.1l0 -2.1l0 -2.1l0 -2.1l0 -2.1l0 -2.1l0 -2.1l0 -2.1l0 -2.1l0 -2.1l0 -2.1l0 -2.1l0 -2.1l0 -2.1l0 -2.1l0 -2.1l0 -2.1l0 -2.1l0 -2.1l0 -2.1l0 -2.1l0 -2.1l0 -2.1l0 -2.1l0 -2.1l0 -2.1l0 -2.1l0 -2.1l0 -1.6l-2 0l-2 0.1l-2 0.2l-2 0.4l-2 0.8l-0.1 0.1l-1.9 1l-1.4 1.1l-0.6 0.5l-1.7 1.6l-0.3 0.3l-1.6 1.8l-0.4 0.4l-1.5 1.7l-0.5 0.6l-1.5 1.5l-0.5 0.5l-2 1.6l-2 1.3l-1.4 0.8l-0.6 0.3l-2 0.9l-1.6 0.9l-0.4 0.3l-2 1.7l-0.1 0.1l-1.5 2.1l-0.4 0.6l-1 1.5l-1 1.6l-0.4 0.5l-1.6 1.9l-0.3 0.2l-1.7 1.2l-2 0.5l-2 -0.6l-2 0.2l-0.3 0.8l-1.7 2.1l-1 2.1l-1 0.9l-0.7 1.2l-1.3 0.8l-1.8 1.3l-0.2 0.1l-2 1.9l-0.1 0.1l-1.9 1.8l-0.9 0.3l-1.1 1l-1.7 1.1l-0.3 1.4l-0.8 0.7l0.8 0.9l0.4 1.2l0.9 2.1l-0.2 2.1l-1.1 1.6l-0.4 0.5l-1.6 2.1l0 0.2l-0.4 1.9l0 2.1l0.2 2.1l0.1 2.1l-0.2 2.1l-0.4 2.1l-0.3 2.1l-0.5 2.1l-0.5 2l0 0.1l-0.8 2.1l-0.6 2.1l-0.5 2.1l-0.1 1.3l-0.1 0.8l0 2.1l0.1 1.7l0 0.4l0.3 2.1l0.4 2.1l0.4 2.1l0.5 2.1l0.4 2l0 0.1l0.4 2.1l0.4 2.1l0.5 2.1zM130 82.1l-0.3 -0.2l-1.7 -1.1l-1.5 -1l-0.5 -0.4l-1.9 -1.7l-0.1 -0.1l-2 -1.9l-0.1 -0.1l-1.8 -2.1l-0.1 -0.1l-1.3 -2l-0.7 -1.5l-0.2 -0.6l-0.7 -2.1l-0.5 -2.1l-0.6 -2l0 -0.1l-1.1 -2.1l-0.9 -0.9l-2 -0.9l-0.3 -0.3l-0.1 -2.1l0.4 -0.7l2 -0.8l2 -0.1l2 0.7l1.2 0.9l0.8 0.6l1.3 1.5l0.7 0.7l1.1 1.4l0.9 1.2l0.7 0.9l1.3 1.4l0.8 0.7l1.2 0.9l1.9 1.2l0.1 0.1l2 1.2l1.3 0.8l0.7 0.5l2 1.6l0.1 0l1.9 2.1l1.3 2.1l0.7 1.7l0.1 0.4l0 2.1l-0.1 0.4l-1.1 1.7l-0.9 0.8l-2 0.7l-2 0.1l-2 -0.6zM56 86.1l2 0.6l2 0.2l2 -0.1l2 -0.4l1.5 -0.3l0.5 -0.3l1.2 -1.8l0.1 -2.1l-0.1 -2.1l-0.3 -2.1l-0.5 -2.1l-0.4 -0.7l-0.8 -1.4l-1.2 -1.6l-0.4 -0.5l-1.1 -2.1l-0.3 -2.1l0.4 -2.1l1.3 -2.1l0.1 -0.1l2 -1.5l0.6 -0.5l1.4 -1.8l0.2 -0.3l0.4 -2.1l-0.6 -2.1l-0.5 -2.1l0.2 -2.1l0.3 -2.1l-2 -1.2l-2 0.5l-1.1 0.7l-0.9 0.4l-2 1l-1.1 0.7l-0.9 0.4l-2 1.1l-0.9 0.6l-1.1 0.6l-2 1.3l-0.3 0.2l-1.7 0.3l-2 0.3l-2 0.6l-1.8 0.9l-0.2 0l-2 0.3l-2 0.4l-2 0.1l-2 0.2l-2 0.2l-2 0.3l-2 0.4l-1 0.2l-1 0.2l-2 0.5l-2 0.6l-2 0.7l-0.4 0.1l-1.6 0.7l-2 0.7l-2 0.7l-0.2 0l-1.8 0.1l-1.8 -0.1l-0.2 0l-2 -0.2l-2 -0.2l-2 -0.1l-2 0.1l-2 0.1l-2 0.3l0 2.1l0 2.1l0 2.1l0 2.1l0 2.1l0 2.1l0 2.1l0 2.1l0 1.1l2 0.4l2 0.2l2 0.2l2 0.1l0.8 0.1l1.2 0.2l2 0.5l2 0.6l2 0.2l2 -0.3l2 -0.4l2 -0.3l2 -0.1l2 0.2l2 0.4l2 0.5l2 0.3l2 -0.3l2 -0.4l2 -0.4l2 -0.1l2 0l2 0.4l2 0.6l1.6 0.5l0.4 0.1l2 0.3l2 0.4l2 0.6zM138 14.7l0 0.1l0.1 -0.1l-0.1 0zM139.9 12.6l0.1 0.3l0.2 -0.3l-0.2 -0.4zM141.9 10.5l0.1 0l0.6 -2.1l-0.6 -0.7l-0.1 0.7zM143.8 4.2l0.2 1.9l0.5 -1.9l-0.3 -2.1l-0.2 0zM145.8 0l0.2 1l0.3 -1l-0.3 0z"/>
<path fill="#04ffd6" d="M134.2 123.9l1.8 0.7l2 0.6l2 0.4l2 0.3l2 0.1l0.3 0l1.7 0l2 0l2 0l2 0l2 0l2 -2.1l1.2 -2.1l0 -2.1l-1 -2.1l-0.2 -0.3l-1.2 -1.8l-0.8 -1.2l-1.2 -0.9l-0.8 -1.3l-0.6 -0.8l-1.2 -2.1l-0.2 -0.3l-1 -1.8l-1 -1.9l-0.1 -0.2l-0.9 -2.1l-0.5 -2.1l-0.3 -2.1l0.1 -2.1l0.3 -2.1l0.4 -2.1l0.4 -2.1l-0.1 -2.1l-1.3 -1.3l-2 0.9l-0.4 0.4l-1.6 1.7l-0.5 0.4l-1.5 1.3l-1.6 0.8l-0.4 0.2l-2 0.6l-2 0.2l-2 -0.3l-1.3 -0.7l-0.7 -0.3l-2 -1.4l-0.6 -0.4l-1.4 -0.7l-2 -1l-0.8 -0.4l-1.2 -0.6l-2 -1.2l-0.6 -0.3l-1.4 -0.9l-2 0.6l-0.2 0.3l-0.9 2.1l-0.9 1.1l-1.2 1l-0.8 0.4l-2 0.3l-2 0l-2 0l-2 0.5l-1.3 0.9l-0.7 0.4l-1.5 1.7l-0.5 0.5l-1.1 1.6l-0.9 0.6l-1.1 1.5l-0.9 0.4l-1.3 1.7l-0.7 1.6l-0.3 0.5l-0.4 2.1l0.7 2.1l1 2.1l1 1.2l1.5 0.9l0.5 0.6l1.8 1.5l0.2 0.3l2 1.8l2 1.6l1.1 0.5l0.9 0.4l2 0.6l2 0.3l2 0.3l2 0.3l1.8 0.2l0.2 0l2 0.4l2 0.3l2 0.5l2 0.4l2 0.4l1.1 0.1l0.9 0.2l2 0.8l2 0.7l2 0.4zM1.3 77.7l0.7 0.6l2 1.1l2 0.1l2 -0.3l2 -1.4l0.1 -0.1l1.8 -2.1l0.1 -0.8l0.4 -1.3l-0.4 -0.6l-0.8 -1.5l-1.2 -1l-2 -0.6l-2 0.1l-2 1.1l-0.6 0.4l-1.4 1l-1 1.1l-0.6 2.1zM50.1 77.7l1.9 0.9l2 0.6l2 0.1l1.4 -1.6l-1 -2.1l-0.4 -0.6l-1.1 -1.5l-0.9 -1.6l-0.3 -0.5l-0.2 -2.1l0.5 -0.3l1.5 -1.8l0.5 -0.4l1.4 -1.7l0.6 -1l0.8 -1.1l0.7 -2.1l0.1 -2.1l0.4 -1.5l0.3 -0.6l1.5 -2.1l0.2 -0.5l1.1 -1.6l-1.1 -1.1l-2 0.4l-1.7 0.7l-0.3 0.1l-2 0.9l-1.6 1.1l-0.4 0.2l-2 0.6l-2 0.5l-1.9 0.8l-0.1 0l-2 0.4l-2 0.7l-1.5 1l-0.5 0.2l-2 1.2l-1.1 0.7l-0.9 0.5l-2 1.1l-0.7 0.5l-1.3 1l-1.1 1.1l-0.8 2.1l-0.1 2.1l0.6 2.1l1.4 1.6l0.6 0.5l1.4 1.5l1.2 0.6l0.8 0.4l2 0.5l2 0.2l2 0.1l2 -0.1l2 -0.1l2 1.1zM145.4 71.4l0.6 0.8l0.7 -0.8l1.3 -0.6l1.1 -1.5l0.9 -0.7l1.8 -1.4l0.2 -0.1l2 -1l2 -0.5l2 -0.2l2 0l0 -0.3l0 -2.1l0 -2.1l0 -2.1l0 -2.1l0 -2.1l0 -2.1l0 -2.1l0 -2.1l0 -2.1l0 -2.1l0 -2.1l0 -2.1l0 -2.1l0 -2.1l0 -2.1l0 -2.1l0 -2.1l0 -2.1l0 -2l-0.6 -0.1l-1.4 -0.1l-2 -0.1l-1.4 0.2l-0.6 0.1l-2 0.5l-2 0.9l-1 0.6l-1 0.6l-1.8 1.5l-0.2 0.2l-2 1.9l-2 1.9l-0.2 0.2l-1.8 1.5l-0.9 0.6l-1.1 0.7l-2 1.2l-0.3 0.2l-1.7 1.1l-1.7 1l-0.3 0.2l-1.9 1.9l-0.1 0.1l-1.2 2l-0.8 1.9l-0.1 0.2l-0.6 2.1l-0.2 2.1l0 2.1l0.4 2.1l0.5 1.3l0.3 0.8l1.3 2.1l0.4 0.5l1.7 1.6l0.3 0.2l2 1.3l1 0.6l1 0.6l2 1.4l0.2 0.1l1.8 1.6l0.5 0.5l1.5 1.4l0.8 0.7l1.2 1.3zM104.6 67.2l1.4 1l2 0.6l2 -0.7l0.5 -0.9l0.7 -2.1l-1 -2.1l-0.2 -0.1l-2 -1.6l-0.4 -0.4l-1.6 -1.5l-2 0.4l-0.9 1.1l-1.1 2.1l0.7 2.1l1.3 1.7z"/>
<path fill="#13ffaa" d="M143.4 123.9l0.6 0.2l2 0.7l2 0.4l2 0.3l2 0l2 -1l0.6 -0.6l1 -2.1l0 -2.1l-0.9 -2.1l-0.7 -0.7l-2 -1.1l-1.4 -0.3l-0.6 -0.4l-2 -0.9l-2 -0.5l-1.4 -0.3l-0.6 -0.4l-2 -0.9l-2 -0.4l-2 -0.3l-0.8 -0.1l-1.2 -0.6l-2 -0.8l-2 -0.4l-2 -0.2l-0.4 -0.1l-1.6 -0.7l-2 -0.7l-2 -0.3l-2 -0.3l-0.4 -0.1l-1.6 -0.8l-2 -0.7l-2 -0.3l-2 -0.2l-0.6 -0.1l-1.4 -0.5l-2 -0.6l-2 -0.6l-1.3 -0.4l-0.7 -0.5l-2 -1l-2 -0.6l-2 -1.2l-2 0.1l-1.4 1.1l-0.6 0.4l-1.3 1.7l-0.3 2.1l0.5 2.1l1.1 1.4l1.1 0.7l0.9 0.8l2 1l0.6 0.3l1.4 1.1l2 0.8l0.4 0.2l1.6 1.2l2 0.4l2 0.2l2 0.2l0.4 0.1l1.6 0.6l2 0.7l2 0.4l2 0.3l0.5 0.1l1.5 0.7l2 0.6l2 0.4l2 0.3l0.3 0.1l1.7 0.8l2 0.7l2 0.4l0.9 0.2l1.1 0.5l2 0.7l2 0.4l2 0.3zM2.9 77.7l1.1 0.8l2 0.3l2 -0.7l0.6 -0.4l1.4 -1.1l0.9 -1l0.3 -2.1l-1.2 -1.4l-1.5 -0.7l-0.5 -0.3l-2 0.3l-2 0.6l-1.5 1.5l-0.5 1.7l-0.2 0.4l0.2 0.3zM37.1 71.4l0.9 0.4l2 0l1.9 -0.4l0.1 0l2 -0.1l2 -0.3l2 -0.5l1.7 -1.2l0.3 -0.1l2 -0.6l1.6 -1.4l0.4 -0.3l2 -1.8l0 -0.1l1.5 -2l0.5 -1.9l0.1 -0.2l0.1 -2.1l0.5 -2.1l0.5 -2.1l-1.2 -0.5l-1.5 0.5l-0.5 0.1l-2 0.8l-2 0.7l-1.4 0.5l-0.6 0.1l-2 0.4l-2 0.5l-2 1.1l-2 1l-1.4 1.1l-0.6 0.5l-2 1.6l-0.1 0l-1.9 1.1l-1.1 1l-0.8 2.1l0.2 2.1l1.7 1.8zM146.6 54.6l1.4 0.8l2 0.7l2 -0.1l2 -0.4l2 -0.7l0.8 -0.3l1.2 -0.6l2 -1.3l0 -0.2l0 -2.1l0 -2.1l0 -2.1l0 -2.1l0 -2.1l0 -2.1l0 -2.1l0 -2.1l0 -1.2l-1.2 -0.9l-0.8 -0.4l-2 -0.5l-2 0.1l-2 0.7l-0.2 0.1l-1.8 1.2l-1.1 0.9l-0.9 0.7l-1.5 1.4l-0.5 0.5l-1.8 1.6l-0.2 0.3l-1.8 1.8l-0.2 0.3l-1.3 1.8l-0.7 1.8l-0.1 0.3l-0.2 2.1l0.3 0.9l0.7 1.2l1.3 1l1.6 1.1l0.4 0.2l2 1.5z"/>
<path fill="#30ff7f" d="M147 123.9l1 0.3l2 0.5l2 0.1l1.3 -0.9l0.7 -0.6l0.9 -1.5l0 -2.1l-0.9 -1.5l-0.6 -0.6l-1.4 -1l-2 -0.5l-2 -0.5l-0.4 -0.1l-1.6 -0.7l-2 -0.6l-2 -0.4l-2 -0.4l-2 -0.8l-2 -0.6l-2 -0.4l-1.1 -0.3l-0.9 -0.4l-2 -0.7l-2 -0.4l-2 -0.4l-0.7 -0.2l-1.3 -0.6l-2 -0.5l-2 -0.5l-2 -0.4l-0.3 -0.1l-1.7 -0.7l-2 -0.5l-2 -0.3l-2 -0.2l-1.4 -0.4l-0.6 -0.3l-2 -1.1l-1.7 -0.7l-0.3 -0.2l-2 -1.1l-2 -0.7l-2 0l-2 1.4l-0.5 0.6l-0.4 2.1l0.7 2.1l0.2 0.3l2 1.5l0.6 0.3l1.4 1l2 0.9l0.3 0.2l1.7 1.1l2 0.9l0.4 0.1l1.6 0.6l2 0.4l2 0.3l2 0.3l2 0.5l2 0.7l2 0.5l2 0.5l1.7 0.4l0.3 0.1l2 0.7l2 0.5l2 0.5l1 0.3l1 0.5l2 0.6l2 0.5l2 0.5l2 0.7l2 0.4l2 0.4l2 0.4zM4.1 77.7l1.9 0.5l1.1 -0.5l0.9 -0.2l2 -1.9l0 -0.6l0.3 -1.5l-0.3 -0.3l-2 -1.5l-2 0.1l-2 0.9l-0.8 0.8l-0.8 2.1l1.6 2.1zM35.6 69.3l0.4 0.4l2 0.9l2 -0.2l2 -0.4l2 0l2 -0.3l1 -0.4l1 -0.2l2 -0.5l2 -1l0.5 -0.4l1.5 -1l1.1 -1.1l0.9 -1.1l0.7 -1l0.6 -2.1l0 -2.1l-0.1 -2.1l-1.2 -0.9l-2 0.4l-1.3 0.5l-0.7 0.2l-2 0.4l-2 0.4l-2 0.6l-0.8 0.5l-1.2 0.5l-2 1.2l-0.5 0.4l-1.5 1.4l-0.9 0.7l-1.1 0.8l-1.8 1.3l-0.2 0.3l-1 1.8z"/>
<path fill="#5cff56" d="M149.8 123.9l0.2 0l2 0.1l0.2 -0.1l1.8 -1.8l0.2 -0.3l0 -2.1l-0.2 -0.3l-1.8 -1.8l-0.2 -0.1l-2 -0.7l-2 -0.5l-2 -0.5l-0.8 -0.3l-1.2 -0.4l-2 -0.6l-2 -0.4l-2 -0.5l-0.7 -0.2l-1.3 -0.5l-2 -0.6l-2 -0.5l-1.6 -0.5l-0.4 -0.2l-2 -0.6l-2 -0.4l-2 -0.5l-1.3 -0.4l-0.7 -0.3l-2 -0.5l-2 -0.5l-2 -0.5l-1.1 -0.3l-0.9 -0.3l-2 -0.4l-2 -0.3l-2 -0.5l-1.1 -0.6l-0.9 -0.5l-2 -0.9l-1.2 -0.7l-0.8 -0.4l-2 -0.9l-2 0l-1.6 1.3l-0.4 1l-0.3 1.1l0.3 0.8l0.7 1.3l1.3 1l1.8 1.1l0.2 0.1l2 1.1l1.6 0.9l0.4 0.2l2 1.1l2 0.5l1.4 0.3l0.6 0.2l2 0.4l2 0.3l2 0.5l2 0.5l0.4 0.2l1.6 0.5l2 0.5l2 0.5l2 0.6l0.1 0l1.9 0.6l2 0.5l2 0.6l1.1 0.4l0.9 0.4l2 0.6l2 0.4l2 0.5l0.7 0.2l1.3 0.4l2 0.4l2 0.4l2 0.4zM2.9 75.6l1.1 1.4l2 0.6l2 -0.6l1.5 -1.4l0.1 -2.1l-1.6 -1.3l-2 -0.1l-2 1.3l-0.1 0.1zM37.3 69.3l0.7 0.4l2 -0.4l0.1 0l1.9 -0.3l2 0l2 -0.1l2 -0.3l2 -0.6l1.3 -0.8l0.7 -0.4l2 -1.4l0.3 -0.3l1.6 -2.1l0.1 -0.3l0.6 -1.8l0 -2.1l-0.6 -1.7l-2 -0.2l-2 0.4l-2 0.4l-2 0.5l-1.7 0.6l-0.3 0.1l-2 0.8l-1.7 1.2l-0.3 0.3l-1.9 1.8l-0.1 0.1l-2 1.4l-0.7 0.6l-1.3 1.8l-0.2 0.3l0.2 0.4z"/>
<path fill="#97ff2e" d="M143.4 121.8l0.6 0.1l2 0.4l2 0.4l2 0.3l2 0.1l1.3 -1.3l0 -2.1l-1.3 -1.3l-1.9 -0.8l-0.1 0l-2 -0.6l-2 -0.5l-2 -0.5l-1.3 -0.5l-0.7 -0.2l-2 -0.5l-2 -0.4l-2 -0.6l-0.9 -0.4l-1.1 -0.4l-2 -0.5l-2 -0.5l-2 -0.7l-2 -0.5l-2 -0.5l-2 -0.5l-1.7 -0.6l-0.3 -0.1l-2 -0.5l-2 -0.5l-2 -0.4l-2 -0.5l-0.4 -0.1l-1.6 -0.3l-2 -0.4l-2 -1l-0.6 -0.4l-1.4 -0.7l-2 -0.9l-0.8 -0.5l-1.2 -0.5l-2 0l-0.7 0.5l-0.8 2.1l1.2 2.1l0.3 0.3l2 1l1.2 0.8l0.8 0.4l2 1l1 0.7l1 0.5l2 0.5l2 0.4l2 0.5l0.8 0.2l1.2 0.2l2 0.5l2 0.5l2 0.6l0.8 0.3l1.2 0.3l2 0.5l2 0.5l2 0.6l0.4 0.2l1.6 0.5l2 0.5l2 0.6l1.2 0.5l0.8 0.3l2 0.4l2 0.4l2 0.5zM3.4 75.6l0.6 0.8l2 0.9l2 -0.7l1.1 -1l0 -2.1l-1.1 -0.9l-2 -0.1l-1.5 1l-0.5 0.9zM36.8 67.2l1.2 1.4l2 -0.1l2 -0.3l2 0.1l2 0l2 -0.3l2 -0.7l0.2 -0.1l1.8 -1l1.5 -1.1l0.5 -0.5l1.2 -1.6l0.7 -2.1l-0.1 -2.1l-1.8 -1.3l-2 0.3l-2 0.4l-2 0.5l-0.4 0.1l-1.6 0.4l-2 0.9l-1.1 0.8l-0.9 0.9l-1.3 1.2l-0.7 1l-1.6 1.1l-0.4 0.4z"/>
<path fill="#e3ff0a" d="M147.2 121.8l0.8 0.1l2 0.2l2 0l0.3 -0.3l0 -2.1l-0.3 -0.3l-2 -0.5l-2 -0.8l-0.8 -0.5l-1.2 -0.3l-2 -0.4l-2 -0.5l-2 -0.8l-0.3 -0.1l-1.7 -0.3l-2 -0.5l-2 -0.6l-1.4 -0.7l-0.6 -0.2l-2 -0.4l-2 -0.4l-2 -0.6l-0.9 -0.5l-1.1 -0.2l-2 -0.4l-2 -0.4l-2 -0.8l-0.6 -0.3l-1.4 -0.3l-2 -0.3l-2 -0.3l-2 -0.4l-2 -0.7l-0.1 -0.1l-1.9 -0.7l-2 -1.2l-0.3 -0.2l-1.7 -0.6l-2 -0.8l-2 0.1l-0.4 1.3l0.4 0.9l1.3 1.2l0.7 0.3l2 1.1l0.9 0.7l1.1 0.5l2 1.1l0.9 0.5l1.1 0.3l2 0.3l2 0.2l2 0.4l2 0.9l2 0.4l2 0.4l2 0.5l1.7 0.8l0.3 0.1l2 0.3l2 0.5l2 0.6l1 0.6l1 0.2l2 0.5l2 0.6l1.8 0.8l0.2 0.1l2 0.3l2 0.3l2 0.4l2 0.5zM3.9 75.6l0.1 0.2l2 1.1l2 -0.7l0.6 -0.6l0 -2.1l-0.6 -0.5l-2 -0.1l-0.9 0.6l-1.1 1.8zM37.7 67.2l0.3 0.3l2 0.2l2 -0.2l2 0.2l2 0l2 -0.3l0.7 -0.2l1.3 -0.6l2 -1l0.6 -0.5l1.4 -1.5l0.5 -0.6l0.7 -2.1l-0.3 -2.1l-0.9 -0.6l-2 0l-2 0.4l-0.6 0.2l-1.4 0.2l-2 0.5l-2 1.1l-0.4 0.3l-1.6 1.5l-0.6 0.6l-1.4 1.8l-0.4 0.3l-1.6 1.7z"/>
<path fill="#ffe100" d="M4.4 75.6l1.6 1l2 -0.8l0.2 -0.2l-0.2 -2.1l-2 -0.2l-0.4 0.2zM41.1 65.1l0.9 1.1l2 0.8l2 0.1l2 -0.3l2 -0.9l1.6 -0.8l0.4 -0.2l1.8 -1.9l0.2 -0.7l0.4 -1.4l-0.4 -2.1l-2 -0.1l-0.5 0.1l-1.5 0.3l-2 0.2l-2 0.5l-1.8 1.1l-0.2 0.1l-2 2l0 0.2z"/>
<path fill="#ffb500" d="M4.9 75.6l1.1 0.6l1.5 -0.6l-1.5 -1.8zM42.6 65.1l1.4 0.9l2 0.3l2 -0.3l2 -0.8l0.3 -0.1l1.7 -1.1l1 -1l0.6 -2.1l-1.6 -1.4l-2 0l-2 0.1l-2 0.6l-1.3 0.7l-0.7 0.6l-1.5 1.5z"/>
<path fill="#ff8a00" d="M5.5 75.6l0.5 0.3l0.7 -0.3l-0.7 -0.8zM44.4 65.1l1.6 0.4l2 -0.3l0.4 -0.1l1.6 -0.3l2 -1.6l0.2 -0.2l0.5 -2.1l-0.7 -0.6l-2 -0.4l-2 0l-2 0.6l-0.7 0.4l-1.3 1l-1.1 1.1l1.1 2z"/>
<path fill="#ff6000" d="M43.3 63l0.7 1.2l2 0.8l2 -0.1l2 -0.6l1.6 -1.3l0.1 -2.1l-1.7 -0.6l-2 -0.1l-2 0.6l-0.2 0.1l-1.8 1.4z"/>
<path fill="#ff3800" d="M43.8 63l0.2 0.4l2 1.3l2 -0.1l2 -0.7l1.1 -0.9l-0.4 -2.1l-0.7 -0.2l-2 -0.2l-1.3 0.4l-0.7 0.2l-2 1.7z"/>
<path fill="#ff1200" d="M44.2 63l1.8 1.4l2 0l2 -1l0.5 -0.4l-0.5 -1.5l-0.9 -0.6l-1.1 -0.1l-0.4 0.1l-1.6 0.6z"/>
<path fill="#ee0000" d="M44.6 63l1.4 1.1l2 0l2 -1.1l-2 -1.8l-2 0.6z"/>
<path fill="#c50000" d="M45 63l1 0.8l2 0.1l1.5 -0.9l-1.5 -1.4l-2 0.5z"/>
<path fill="#9c0000" d="M45.4 63l0.6 0.5l2 0.1l1.1 -0.6l-1.1 -1l-2 0.5z"/></g>
</defs>
<clipPath id="cla"><rect x="31.4" y="13.1" width="190.3" height="125.7"/></clipPath>
<g clip-path="url(#cla)">
<path d="M29 121.9l2.5 0l2.7 0.4l2.1 -1.9l2.6 0.1l1.1 2.2l2.8 1.2l1.3 -2.9l1.9 -0.2l1.3 -0.8l2.4 0.3l1.2 -2.2l2.5 0.4l2.3 -1.3l1.1 -2.9l2.8 0.4l2.2 -1.3l-0.1 -2.7l2.7 -0.2l-0.7 -2.4l0.8 -2.1l-0.3 -1.8l1.5 -1.7l-0.8 -1.8l-0.9 -1.8l1.6 -2l1.1 -2.1l-0.9 -2.9l1.6 -0.8l2.2 0.2l0 2.8l1 1.2l2.5 2.4l0.3 2.9l0.3 1.7l1.6 1.4l1.1 1.6l3.8 0.2l1.9 -1.3l1.6 -1.6l1 -1.5l1.8 -0.7l1.4 -1l1.4 -1.9l2.2 -1.4l1.9 0.3l2.1 1l1.4 -1.3l2.4 0.3l1.2 1.1l2 -0.1l1.5 -1.4l2 -0.7l2 0.6l1.5 -1.8l2.2 0.9l1.7 -0.9l2.1 0.7l1.9 -0.3l1.8 -0.7l1.8 -0.4l1.6 -1.5l2.1 0.5l1.5 -1.6l2.1 0.3l1 -1.8l1.7 -0.7l0.7 -2.1l1.8 -0.6l3.2 0.6l-0.6 -3.2l2.6 -0.6l1.2 -1.7l1.4 -1.3l1 -1.6l1.7 -0.6l0.5 -2.4l1.5 -0.9l1.8 -0.7l1.8 -0.8l1.7 -0.9l1.9 -0.6l2.3 0.6l1.3 -1.8l3 1.4l1.4 -1.7l1.6 -1.4l2.2 -0.5l0.3 -2.6l3.1 -0.2l1.1 -1.7l1.2 -2l0.1 -2l2 -1l0.6 -1.8l0.4 -1.5l2.2 -0.1l1.5 -1.8l1.4 -1.7l2.1 -0.3l1.3 -2l1.8 -0.9l2.6 0.7l2.3 -1.1l1.7 -1.5l0.9 -2l0.3 -2.4l0.1 -2.5l2.3 -0.6l2.4 -0.6l1 -1.8l0.5 -2.1l1.2 -1.4l0.7 -1.8l1.1 -1.4l1 -1.6l3.3 0.7l0.7 -1.9l-0.3 -2.5l1.8 -0.9l0.1 -2.2l1.5 -1.2l2.5 -0.5l0.9 -1.8l0 -2l-0.1 -2.2l1.8 -1.5l0.1 -2.1l-194.5 0z" fill="#b1ebc9" stroke="#111" stroke-width="0.8" stroke-linejoin="round"/>
<path d="M31.4 87.4l6.6 -1.4l8.2 -1l4.5 1.8l2.8 6.4l3.6 4.5l-1.8 4.6l2.7 6.3l3.6 3.7M64.4 87.7l2.6 4.8M57.1 97.7l3.9 3.3l2 5l0.5 3.5" fill="none" stroke="#111" stroke-width="0.9"/>
<path d="M29.3 120.7h1.2v1.2h-1.2zM30.8 120.5h1.2v1.2h-1.2zM31.8 120.5h1.6v1.6h-1.6zM29.1 121.6h0.9v0.9h-0.9zM30.3 121.6h0.9v0.9h-0.9zM37.9 121.7h1.3v1.3h-1.3zM38.4 120.3h1v1h-1zM34.9 120.2h1.1v1.1h-1.1zM37.4 121.1h1.4v1.4h-1.4zM33.4 120.2h1.5v1.5h-1.5zM39.4 120.9h1.5v1.5h-1.5zM40.3 122.6h1.7v1.7h-1.7zM40.3 121.5h1.2v1.2h-1.2zM39.6 122.8h1.2v1.2h-1.2zM46.4 123.4h1.4v1.4h-1.4zM44.3 121.6h1.3v1.3h-1.3zM43.4 121.3h1.6v1.6h-1.6zM42.3 122.1h1.4v1.4h-1.4zM43.6 123h1.4v1.4h-1.4zM47.1 121.5h1.1v1.1h-1.1zM51.7 119.5h1.2v1.2h-1.2zM51.5 121.6h1.6v1.6h-1.6zM52.3 118.2h1.6v1.6h-1.6zM53.1 119.2h1v1h-1zM50.2 119.2h0.9v0.9h-0.9zM53 118.6h0.8v0.8h-0.8zM55 115.4h1v1h-1zM53.2 116.5h1.7v1.7h-1.7zM56.5 118.2h1.1v1.1h-1.1zM56.7 114.9h1v1h-1zM57.1 117.1h1.5v1.5h-1.5zM58.5 115.4h1v1h-1zM58.2 114.1h0.8v0.8h-0.8zM59.5 114.5h1.3v1.3h-1.3zM60.6 113.3h0.9v0.9h-0.9zM61.1 113.9h0.9v0.9h-0.9zM63.4 110.2h1v1h-1zM61.7 112.3h1.4v1.4h-1.4zM61.8 111.1h1v1h-1zM64.8 111.4h1.2v1.2h-1.2zM65.1 107.4h1.2v1.2h-1.2zM65.9 108.7h1.3v1.3h-1.3zM63.9 107.5h1.6v1.6h-1.6zM63.9 109.4h1.3v1.3h-1.3zM64.4 107.7h1.1v1.1h-1.1zM64 104.1h1.4v1.4h-1.4zM64.4 103.4h0.9v0.9h-0.9zM64.3 100.8h0.9v0.9h-0.9zM64.1 101.8h0.9v0.9h-0.9zM64.8 102.1h1.4v1.4h-1.4zM63.5 105h1.5v1.5h-1.5zM65 100.8h1.4v1.4h-1.4zM66.6 93.4h1.4v1.4h-1.4zM65.6 93.2h1v1h-1zM65.4 92.4h1.7v1.7h-1.7zM66.9 95.3h1.2v1.2h-1.2zM65.9 95.2h0.9v0.9h-0.9zM67.3 96.7h1.7v1.7h-1.7zM66.5 93.9h1.4v1.4h-1.4zM67.5 91h1v1h-1zM68.1 91.9h1.2v1.2h-1.2zM68.1 94.3h0.9v0.9h-0.9zM71.1 94h1.4v1.4h-1.4zM70 94.8h0.8v0.8h-0.8zM69.6 91.6h1.4v1.4h-1.4zM67.3 92.8h1.2v1.2h-1.2zM69.1 95.6h1.4v1.4h-1.4zM71.4 96.4h0.9v0.9h-0.9zM70.5 96.7h1.1v1.1h-1.1zM70.5 97h1v1h-1zM71.1 100h1.3v1.3h-1.3zM72.8 97.3h1.4v1.4h-1.4zM74.2 98.8h1.6v1.6h-1.6zM71.5 102.4h1.4v1.4h-1.4zM72 103.3h1.1v1.1h-1.1zM73.6 100.4h1.5v1.5h-1.5zM74.1 102.7h1.7v1.7h-1.7zM76.5 105.2h1v1h-1zM75.1 103.5h1.4v1.4h-1.4zM76 104.8h0.9v0.9h-0.9zM76.4 105.6h1v1h-1zM79 104.7h1.2v1.2h-1.2zM78.8 107.2h1v1h-1zM80.2 105.9h1v1h-1zM79.7 104h1.2v1.2h-1.2zM83.6 103.1h1.2v1.2h-1.2zM82.9 102.4h1.2v1.2h-1.2zM79.8 103.4h1.5v1.5h-1.5zM81.7 105.2h1.7v1.7h-1.7zM85.5 100.7h1.7v1.7h-1.7zM86.7 102.1h1.1v1.1h-1.1zM86.7 100.2h1.1v1.1h-1.1zM87.2 98.8h1.6v1.6h-1.6zM84.6 100.5h1.5v1.5h-1.5zM89.9 100h0.9v0.9h-0.9zM90.7 99.1h1.6v1.6h-1.6zM91.3 98.9h1.7v1.7h-1.7zM91.4 97.2h1.5v1.5h-1.5zM89.3 99.7h0.8v0.8h-0.8zM95 98h1.2v1.2h-1.2zM93.9 96.1h1v1h-1zM92.7 97h1.2v1.2h-1.2zM92 96.7h1v1h-1zM95.9 98.3h0.9v0.9h-0.9zM93.2 96.7h1.6v1.6h-1.6zM96.8 95.5h0.9v0.9h-0.9zM97 95.9h1.5v1.5h-1.5zM97.3 95.3h0.9v0.9h-0.9zM97.5 97.5h1.2v1.2h-1.2zM100.9 97.3h1.7v1.7h-1.7zM103.6 95.8h1.6v1.6h-1.6zM105.2 97.2h0.8v0.8h-0.8zM104.6 95.9h1.2v1.2h-1.2zM101.3 100h0.9v0.9h-0.9zM103.8 97.4h1.1v1.1h-1.1zM108.7 97.8h1.6v1.6h-1.6zM108.6 97.2h1.4v1.4h-1.4zM112.1 96.3h1.3v1.3h-1.3zM106.3 95.7h1.4v1.4h-1.4zM109.7 95.7h1.6v1.6h-1.6zM110.2 94.2h1.2v1.2h-1.2zM108.4 94.7h1.7v1.7h-1.7zM113.5 95.2h1.1v1.1h-1.1zM114.3 95.1h1.6v1.6h-1.6zM116.1 95.4h0.8v0.8h-0.8zM117 95.1h1.5v1.5h-1.5zM113.6 96h1.1v1.1h-1.1zM118.3 93.6h1.2v1.2h-1.2zM125.5 90.5h1.5v1.5h-1.5zM123.2 92h1.2v1.2h-1.2zM125.7 90.2h1.3v1.3h-1.3zM118.3 92.5h1.5v1.5h-1.5zM124.2 93.1h1.2v1.2h-1.2zM125.2 90.5h1.6v1.6h-1.6zM124.5 93.4h1.2v1.2h-1.2zM127.1 91.6h1.6v1.6h-1.6zM118.3 92h1.2v1.2h-1.2zM136.3 87h1.3v1.3h-1.3zM132.5 85.7h1.6v1.6h-1.6zM130.6 89.2h1.3v1.3h-1.3zM132.4 86.9h1.2v1.2h-1.2zM133.4 88.3h1.2v1.2h-1.2zM130.4 88.5h1.2v1.2h-1.2zM128.9 89.4h1.1v1.1h-1.1zM133 86.3h1v1h-1zM133 86h1.4v1.4h-1.4zM131.4 89.9h1.1v1.1h-1.1zM129.4 89.2h1.7v1.7h-1.7zM132.4 87.5h0.9v0.9h-0.9zM135.6 86.7h1.4v1.4h-1.4zM128.3 89.2h1.4v1.4h-1.4zM134.8 85h1.2v1.2h-1.2zM129.6 89.4h0.9v0.9h-0.9zM129.5 91h1.3v1.3h-1.3zM134.6 85.3h0.8v0.8h-0.8zM136.9 82.1h1v1h-1zM137.3 86.3h1.6v1.6h-1.6zM138 83.2h1.6v1.6h-1.6zM140.3 80.9h1.6v1.6h-1.6zM137.3 81.4h1.2v1.2h-1.2zM136.4 83.6h1.3v1.3h-1.3zM140.1 80.8h1.3v1.3h-1.3zM139.2 80.4h1.6v1.6h-1.6zM138.2 81.1h0.8v0.8h-0.8zM138.4 82.2h1.5v1.5h-1.5zM140.6 79.3h0.9v0.9h-0.9zM138.1 82.2h0.8v0.8h-0.8zM134.8 84.3h1.3v1.3h-1.3zM138.4 84.7h0.9v0.9h-0.9zM136.3 83.3h1.1v1.1h-1.1zM140.6 81.8h1.6v1.6h-1.6zM142.7 76.8h1.7v1.7h-1.7zM142.8 78h1.3v1.3h-1.3zM147.1 73.5h1.3v1.3h-1.3zM144.6 78.9h1.3v1.3h-1.3zM141.4 78h1.1v1.1h-1.1zM142 79h1.2v1.2h-1.2zM143.5 77h0.9v0.9h-0.9zM144.3 78.7h0.8v0.8h-0.8zM147.6 74.3h0.9v0.9h-0.9zM143.4 77.2h1.3v1.3h-1.3zM142.5 78h1.7v1.7h-1.7zM142.6 80.8h0.8v0.8h-0.8zM148.3 76.4h1.1v1.1h-1.1zM147.4 75.8h1.4v1.4h-1.4zM146.8 77.4h1.1v1.1h-1.1zM143.7 77.4h1.5v1.5h-1.5zM145.1 77.5h0.9v0.9h-0.9zM156.4 72.8h1.3v1.3h-1.3zM154.6 73h1.6v1.6h-1.6zM156 71h1.5v1.5h-1.5zM149.5 74.9h1.6v1.6h-1.6zM150.3 76h1.1v1.1h-1.1zM152.6 75h1.1v1.1h-1.1zM149.2 73.4h1.5v1.5h-1.5zM149.9 72.3h1.4v1.4h-1.4zM152.6 75h1.1v1.1h-1.1zM156.9 72.5h1.1v1.1h-1.1zM153.6 71.3h1.1v1.1h-1.1zM153.7 72.6h1.2v1.2h-1.2zM156.3 70h1.6v1.6h-1.6zM153.8 71.5h1.5v1.5h-1.5zM151.7 72.7h1.5v1.5h-1.5zM149.8 73.1h0.9v0.9h-0.9zM148.2 73.7h0.9v0.9h-0.9zM155.4 73.3h1.6v1.6h-1.6zM156.1 72h1.1v1.1h-1.1zM158 72.5h1.3v1.3h-1.3zM162.6 70.8h0.8v0.8h-0.8zM162.7 67.8h0.8v0.8h-0.8zM162.7 69.1h1.6v1.6h-1.6zM158 72.3h1.4v1.4h-1.4zM162.3 69.9h1.1v1.1h-1.1zM159.3 69.1h0.9v0.9h-0.9zM159.3 71.1h1.4v1.4h-1.4zM161.8 67.7h1v1h-1zM157.9 69.4h0.9v0.9h-0.9zM163.6 69h1.3v1.3h-1.3zM162.5 69.8h1.1v1.1h-1.1zM158.5 71.7h1.4v1.4h-1.4zM162.8 67.9h1.1v1.1h-1.1zM164.9 69.4h1.2v1.2h-1.2zM157.8 69.5h1.1v1.1h-1.1zM166.9 67.6h0.8v0.8h-0.8zM164.8 64.5h1.5v1.5h-1.5zM166.3 66.7h1.6v1.6h-1.6zM165.9 64.1h0.8v0.8h-0.8zM165.2 65.9h1.2v1.2h-1.2zM167.1 63.4h1.7v1.7h-1.7zM164.3 64.9h1.6v1.6h-1.6zM167.1 66.4h1.5v1.5h-1.5zM167.2 65h0.9v0.9h-0.9zM169.3 61.4h1v1h-1zM167.6 61.4h1.4v1.4h-1.4zM168.6 61.1h0.8v0.8h-0.8zM168.3 62.7h1.2v1.2h-1.2zM166.4 63.4h1.5v1.5h-1.5zM164.6 66.8h1.2v1.2h-1.2zM165.7 66.4h1.5v1.5h-1.5zM166.2 65.1h1.1v1.1h-1.1zM172.6 58.3h1.6v1.6h-1.6zM172.4 58.7h1.1v1.1h-1.1zM170.7 60.4h1.3v1.3h-1.3zM173.3 58.6h1.1v1.1h-1.1zM174.5 56.1h1.2v1.2h-1.2zM173.5 56.1h1.7v1.7h-1.7zM172 57.7h0.8v0.8h-0.8zM171.5 58.9h1v1h-1zM172 61.2h1.5v1.5h-1.5zM169.8 59.4h0.8v0.8h-0.8zM173 58.3h1.3v1.3h-1.3zM172.1 56.2h1.5v1.5h-1.5zM172.4 55.5h1.2v1.2h-1.2zM169.8 58.6h1.6v1.6h-1.6zM177.4 51.4h1.2v1.2h-1.2zM179.1 51.1h0.9v0.9h-0.9zM180 51.8h1.1v1.1h-1.1zM174.7 54.9h1.7v1.7h-1.7zM179.8 53.1h0.8v0.8h-0.8zM174.6 54.9h1.7v1.7h-1.7zM177.9 52.5h1v1h-1zM178.7 51h1v1h-1zM176 51.8h1.2v1.2h-1.2zM178.8 51.3h1.4v1.4h-1.4zM178.1 52.1h1.4v1.4h-1.4zM177.8 54h0.9v0.9h-0.9zM178.6 50.8h1.6v1.6h-1.6zM178.5 50.9h1.6v1.6h-1.6zM180.5 52.6h1v1h-1zM177.7 53.7h0.9v0.9h-0.9zM187 50h1.3v1.3h-1.3zM183.8 49h1.4v1.4h-1.4zM186.3 48.9h0.9v0.9h-0.9zM186.2 47.9h1.2v1.2h-1.2zM185.4 50.9h1.1v1.1h-1.1zM185.9 48.6h1.6v1.6h-1.6zM186.6 48.3h0.8v0.8h-0.8zM184.4 49.7h1.4v1.4h-1.4zM182.8 51.3h0.9v0.9h-0.9zM186.5 48h1.1v1.1h-1.1zM183.1 49.1h1.2v1.2h-1.2zM183.3 48.8h1.1v1.1h-1.1zM185.7 48.8h1.4v1.4h-1.4zM186.3 50.5h1.4v1.4h-1.4zM183.5 48.6h0.9v0.9h-0.9zM187.7 48.8h1.3v1.3h-1.3zM193.5 45.1h1.2v1.2h-1.2zM192.2 45.7h0.9v0.9h-0.9zM193 42.9h1.2v1.2h-1.2zM188.8 45.7h0.9v0.9h-0.9zM187.2 46.2h1.5v1.5h-1.5zM192.7 42.6h1.6v1.6h-1.6zM194.3 45.7h1v1h-1zM188.5 46.8h1.3v1.3h-1.3zM189 43.8h0.9v0.9h-0.9zM189.7 42.3h1.3v1.3h-1.3zM188.6 45.6h1.2v1.2h-1.2zM191.1 46.6h0.9v0.9h-0.9zM191.9 44.2h1.2v1.2h-1.2zM190.4 45.7h1.5v1.5h-1.5zM193.9 44.1h1.4v1.4h-1.4zM192.7 48h1.1v1.1h-1.1zM190.4 47.7h1.5v1.5h-1.5zM191.7 43.9h1.6v1.6h-1.6zM189 44.4h1.6v1.6h-1.6zM189.1 45.4h0.9v0.9h-0.9zM195.7 37.5h1.6v1.6h-1.6zM196.4 41.3h0.9v0.9h-0.9zM194.7 40.4h0.8v0.8h-0.8zM196.9 39h1.2v1.2h-1.2zM201.5 37.4h1.1v1.1h-1.1zM194.8 40.1h1.6v1.6h-1.6zM191.8 40.2h1.3v1.3h-1.3zM197.3 40.3h0.9v0.9h-0.9zM192.8 40.3h1.1v1.1h-1.1zM193.5 43.1h1.3v1.3h-1.3zM197.9 36.6h0.9v0.9h-0.9zM197.4 34.3h0.9v0.9h-0.9zM193.7 39h1.1v1.1h-1.1zM200.3 36.1h1.2v1.2h-1.2zM194.7 37.2h1.6v1.6h-1.6zM195.9 42.4h1.5v1.5h-1.5zM196.9 42.7h1.3v1.3h-1.3zM197.8 40.1h0.9v0.9h-0.9zM197.4 36h1.3v1.3h-1.3zM193.7 39.7h1.5v1.5h-1.5zM195.1 36.5h1.1v1.1h-1.1zM193.7 38h1v1h-1zM192.3 41.4h1.2v1.2h-1.2zM195.9 42.4h1.3v1.3h-1.3zM194.1 43.4h1v1h-1zM197 34h1.4v1.4h-1.4zM199.7 38.4h0.9v0.9h-0.9zM199.2 37.7h1v1h-1zM196.7 33.9h1.1v1.1h-1.1zM196.9 38.3h1.5v1.5h-1.5zM204.5 30.6h1.4v1.4h-1.4zM205.5 30.2h1.4v1.4h-1.4zM207.5 30.4h1.5v1.5h-1.5zM201.4 32.2h1.2v1.2h-1.2zM206.3 29.1h1.1v1.1h-1.1zM202.2 29.3h1.5v1.5h-1.5zM203.9 33h1.3v1.3h-1.3zM203.9 32.3h1.1v1.1h-1.1zM199.7 30.9h1.4v1.4h-1.4zM200.4 30.1h1.2v1.2h-1.2zM198.9 31.7h1.6v1.6h-1.6zM202.5 30.7h1.3v1.3h-1.3zM197.9 33.3h1v1h-1zM207.3 29.7h1.4v1.4h-1.4zM204.4 26.5h1.2v1.2h-1.2zM204.5 30.4h1.3v1.3h-1.3zM205.2 29.5h1.5v1.5h-1.5zM201.5 31h1.7v1.7h-1.7zM208.4 29.4h1v1h-1zM201.7 34.7h1.6v1.6h-1.6zM204.5 27.3h0.8v0.8h-0.8zM199.1 32.2h1.2v1.2h-1.2zM204.3 27.6h1.3v1.3h-1.3zM207 30.3h1.3v1.3h-1.3zM203.6 28h1.3v1.3h-1.3zM201.1 30.9h1.1v1.1h-1.1zM207.2 29.3h1.2v1.2h-1.2zM205.5 27.6h1.3v1.3h-1.3zM198.5 34h1.2v1.2h-1.2zM203.6 33.9h1.4v1.4h-1.4zM201.3 30.1h1.3v1.3h-1.3zM203.3 27.5h1.1v1.1h-1.1zM205.2 26.4h1.7v1.7h-1.7zM205.5 24.4h1.5v1.5h-1.5zM208.9 22.8h1.4v1.4h-1.4zM211.6 19.2h1.1v1.1h-1.1zM210.9 18.6h1.2v1.2h-1.2zM209 19.9h1.7v1.7h-1.7zM212.2 24.7h1.1v1.1h-1.1zM211.8 22.1h1.4v1.4h-1.4zM213.2 21h1.5v1.5h-1.5zM211 16.7h1.5v1.5h-1.5zM209.7 20.5h1.5v1.5h-1.5zM208.4 21.6h1.2v1.2h-1.2zM206.7 25.2h1.7v1.7h-1.7zM210.2 18h1.5v1.5h-1.5zM210.2 19.9h1.4v1.4h-1.4zM211.3 21.3h1.1v1.1h-1.1zM208.6 23.8h0.9v0.9h-0.9zM209.9 19.4h1.7v1.7h-1.7zM210.8 19.3h1.3v1.3h-1.3zM210.6 24.7h0.9v0.9h-0.9zM207.4 23.3h0.9v0.9h-0.9zM212.3 19h0.8v0.8h-0.8zM212.1 25.5h0.9v0.9h-0.9zM212.4 21.1h1.4v1.4h-1.4zM207.7 22.2h1.3v1.3h-1.3zM206.4 25.4h1.6v1.6h-1.6zM210.8 25.1h1.1v1.1h-1.1zM207.9 27.4h1.5v1.5h-1.5zM205.4 25.7h0.8v0.8h-0.8zM207.5 27.5h1v1h-1zM210.3 25.4h0.9v0.9h-0.9zM213.3 19.4h1.3v1.3h-1.3zM213.5 18.5h1.2v1.2h-1.2zM208.6 21.6h1.1v1.1h-1.1zM214.1 15.2h1v1h-1zM215.1 13.3h1.5v1.5h-1.5zM211.3 16.1h1.6v1.6h-1.6zM214.4 13.1h1v1h-1zM214.6 13.1h1.5v1.5h-1.5zM215 10h1.5v1.5h-1.5zM212.3 15.9h1v1h-1zM213.9 13.4h1.2v1.2h-1.2zM214.9 17.3h1v1h-1zM211.9 17h1.2v1.2h-1.2zM216.2 14.5h0.8v0.8h-0.8zM216.2 11.3h0.9v0.9h-0.9zM218.4 11.3h1.4v1.4h-1.4zM216.6 17.7h0.9v0.9h-0.9zM217.2 13.1h1.5v1.5h-1.5zM212.4 15.5h1.6v1.6h-1.6zM213.9 12.3h0.9v0.9h-0.9zM214.1 16.9h1.1v1.1h-1.1zM213 14.2h0.8v0.8h-0.8zM214.9 12.7h1.4v1.4h-1.4zM212.4 12.5h1.4v1.4h-1.4zM212.5 17.2h0.9v0.9h-0.9zM212.9 11.7h1.3v1.3h-1.3zM215.6 17.7h0.8v0.8h-0.8zM213.1 10.8h1v1h-1zM79.7 106.1h1.1v1.1h-1.1zM81.6 100.1h1.1v1.1h-1.1zM83.8 105.6h1.1v1.1h-1.1zM77.7 100.7h1.4v1.4h-1.4zM85.1 101.6h0.9v0.9h-0.9zM76 100.6h1.3v1.3h-1.3zM86.1 98.7h1.5v1.5h-1.5zM89.3 102.5h1.3v1.3h-1.3zM81.2 103.6h1v1h-1zM86.8 106.9h1.5v1.5h-1.5zM86.9 100.8h1.3v1.3h-1.3zM79.6 102.4h1.5v1.5h-1.5zM79 96h1v1h-1zM89.5 95.8h0.9v0.9h-0.9zM85 105.5h1.3v1.3h-1.3zM86.2 97.2h1v1h-1zM76.8 95.4h1.6v1.6h-1.6zM82.9 98h1.5v1.5h-1.5zM81.5 99.1h1.3v1.3h-1.3zM84.4 98.2h1.5v1.5h-1.5zM87.1 107.4h1.3v1.3h-1.3zM76.1 106.2h1.2v1.2h-1.2zM82 105.4h0.8v0.8h-0.8zM83.6 105h1.1v1.1h-1.1zM88.5 106.9h0.8v0.8h-0.8zM83.2 103.8h1v1h-1zM87.6 99.1h1.4v1.4h-1.4zM83.9 97.7h1.3v1.3h-1.3zM77 103.4h1.1v1.1h-1.1zM80.6 99.4h1.5v1.5h-1.5zM83.2 98.4h1.4v1.4h-1.4zM88.9 104.2h1.2v1.2h-1.2zM83.4 101.9h1v1h-1zM89.2 104.7h1v1h-1zM81.6 97.7h1.5v1.5h-1.5zM75.6 102.5h1v1h-1zM85.4 99.2h1.4v1.4h-1.4zM81.1 97.4h1.4v1.4h-1.4zM80.7 97.5h0.8v0.8h-0.8zM80.6 96.4h1.5v1.5h-1.5zM60.8 118.9h1.2v1.2h-1.2zM56.8 116.8h0.9v0.9h-0.9zM44.3 121.1h0.7v0.7h-0.7zM42.7 123.6h1.1v1.1h-1.1zM51.2 120.3h1.3v1.3h-1.3zM49 123.8h1.2v1.2h-1.2zM56.2 122.2h1.1v1.1h-1.1zM44.8 122.8h0.8v0.8h-0.8zM54.3 119.6h1v1h-1zM62.4 119.6h1.1v1.1h-1.1zM40 118.7h0.8v0.8h-0.8zM46.9 121.7h1v1h-1zM60.7 121.5h1v1h-1zM55.9 123h1.2v1.2h-1.2zM44.3 121.8h1v1h-1zM41.6 121.4h1.2v1.2h-1.2zM208.9 73h1.1v1.1h-1.1zM209.9 75h1.1v1.1h-1.1zM208.4 76h1.1v1.1h-1.1zM210.8 71.8h1.1v1.1h-1.1zM207.8 78.5h1.1v1.1h-1.1zM210.2 80h1.1v1.1h-1.1zM209.2 77.5h1.1v1.1h-1.1zM206.9 82h1.1v1.1h-1.1zM210.4 83.5h1.1v1.1h-1.1zM90.5 65.9h1.1v1.1h-1.1zM91.9 66.9h1.1v1.1h-1.1zM93.2 65.5h1.1v1.1h-1.1zM91.5 68.2h1.1v1.1h-1.1zM89.7 67.7h1.1v1.1h-1.1zM92.7 63.7h1.1v1.1h-1.1zM94.2 64.9h1.1v1.1h-1.1zM90.5 69h1.1v1.1h-1.1zM89 66.5h1.1v1.1h-1.1zM92.4 62.5h1.1v1.1h-1.1zM93.5 67h1.1v1.1h-1.1zM92.2 69.2h1.1v1.1h-1.1zM214.1 17.6h0.9v0.9h-0.9zM215.9 19.4h1.1v1.1h-1.1zM217.5 13.6h1v1h-1zM220.2 24.8h1.1v1.1h-1.1zM217.8 15.4h1.2v1.2h-1.2zM220.2 21h1.3v1.3h-1.3zM214.3 21.4h1.3v1.3h-1.3zM214.5 20.6h1.1v1.1h-1.1zM216.9 17.5h1v1h-1zM214.1 17.5h0.8v0.8h-0.8zM217 14.6h1.2v1.2h-1.2zM220.2 14.4h0.9v0.9h-0.9zM215.9 24.8h1.3v1.3h-1.3zM214.6 18.5h1.4v1.4h-1.4zM213.9 24.2h0.9v0.9h-0.9zM220.5 20.9h1v1h-1zM216.7 23.2h0.9v0.9h-0.9zM216.1 24.1h0.9v0.9h-0.9zM213 25.2h1.4v1.4h-1.4zM218.8 21.1h1v1h-1zM213.5 25.6h1.3v1.3h-1.3zM213.1 15.5h1.3v1.3h-1.3zM217.1 17.6h1v1h-1zM219.3 24.5h1.2v1.2h-1.2zM217.9 21.2h0.8v0.8h-0.8zM215.9 24.8h1.1v1.1h-1.1z" fill="#111"/>
<path d="M30.2 121.7h1.2v1.2h-1.2zM37.1 119.3h1.1v1.1h-1.1zM33.8 121.3h1.2v1.2h-1.2zM40.9 122h1.4v1.4h-1.4zM41.2 120h1.3v1.3h-1.3zM41 120.3h1.3v1.3h-1.3zM43.8 121.5h0.9v0.9h-0.9zM52.2 117.9h1.4v1.4h-1.4zM54.9 116.5h1v1h-1zM57 115.3h0.8v0.8h-0.8zM54.7 114.7h1.4v1.4h-1.4zM57.5 112.7h1.1v1.1h-1.1zM60.8 113.6h0.9v0.9h-0.9zM63.4 107.2h1.2v1.2h-1.2zM64.4 108.6h1.1v1.1h-1.1zM63.3 107.6h1.1v1.1h-1.1zM64.3 103.2h1.3v1.3h-1.3zM64.9 100.8h1v1h-1zM63.6 102.1h1.3v1.3h-1.3zM65.2 93.2h0.9v0.9h-0.9zM65.2 92.5h1.4v1.4h-1.4zM66.2 92.1h0.9v0.9h-0.9zM67.6 91.3h0.9v0.9h-0.9zM70.4 94.2h1.1v1.1h-1.1zM69.1 92.7h0.8v0.8h-0.8zM71.7 94.6h0.9v0.9h-0.9zM72.6 95.6h1.1v1.1h-1.1zM73.1 95.5h0.8v0.8h-0.8zM74 99.2h0.8v0.8h-0.8zM75.2 103.2h1v1h-1zM74.8 100.6h1.1v1.1h-1.1zM75.6 103h0.9v0.9h-0.9zM79.7 103.8h1v1h-1zM83 101.7h1v1h-1zM80 103.6h1.3v1.3h-1.3zM87.7 99.4h1.3v1.3h-1.3zM89.1 99h1.1v1.1h-1.1zM89.2 97h0.9v0.9h-0.9zM87.9 97.9h1.3v1.3h-1.3zM92.5 96.3h1.3v1.3h-1.3zM91.6 95.4h1.3v1.3h-1.3zM95.4 94.4h0.8v0.8h-0.8zM93.1 95h1.3v1.3h-1.3zM97.1 96.3h1v1h-1zM101.3 97.8h0.9v0.9h-0.9zM103.8 95.8h1.2v1.2h-1.2zM103.8 97.4h1.2v1.2h-1.2zM113 93.7h1.4v1.4h-1.4zM115.3 92.9h1.4v1.4h-1.4zM116.8 93.9h1.3v1.3h-1.3zM117.7 91.6h1.2v1.2h-1.2zM125.9 91.4h1v1h-1zM123.3 91.9h0.9v0.9h-0.9zM125.8 90.4h1v1h-1zM124 92h1v1h-1zM126.8 90h1.3v1.3h-1.3zM118.8 93.6h1v1h-1zM129.4 87.6h1.2v1.2h-1.2zM133.1 87.7h1v1h-1zM132.1 86.5h1.3v1.3h-1.3zM133.1 86.1h1.1v1.1h-1.1zM135 85.8h1.1v1.1h-1.1zM128.9 90h1.1v1.1h-1.1zM128.1 89.1h1.4v1.4h-1.4zM137.6 82.7h0.9v0.9h-0.9zM138.1 79.2h1v1h-1zM138 81.9h1.3v1.3h-1.3zM135.6 85h1.2v1.2h-1.2zM137.5 83.9h0.9v0.9h-0.9zM147.1 73.6h1.1v1.1h-1.1zM142.7 75.8h0.9v0.9h-0.9zM140.9 77.3h0.9v0.9h-0.9zM143.7 77.8h1v1h-1zM147.9 74.7h1.1v1.1h-1.1zM140.5 77.6h1.4v1.4h-1.4zM145.1 74.8h1.3v1.3h-1.3zM149.5 73.7h0.8v0.8h-0.8zM149.1 72.7h0.9v0.9h-0.9zM151.4 72.1h1.2v1.2h-1.2zM156.4 71.4h1.3v1.3h-1.3zM156.7 70.4h1v1h-1zM151.2 71.4h1.2v1.2h-1.2zM149.8 73.3h1.3v1.3h-1.3zM147.6 72.4h1.2v1.2h-1.2zM154.3 70.2h1v1h-1zM157.3 70.8h1.1v1.1h-1.1zM162.5 68.4h1.1v1.1h-1.1zM156.6 69.2h1v1h-1zM160.7 66.8h1.3v1.3h-1.3zM159.4 69.5h1.4v1.4h-1.4zM162.2 68.6h1.1v1.1h-1.1zM162.9 67.7h1.3v1.3h-1.3zM157.6 69h0.9v0.9h-0.9zM164.1 65.2h1.3v1.3h-1.3zM166.2 65.7h1v1h-1zM169.5 61.8h0.9v0.9h-0.9zM164.5 65.3h0.8v0.8h-0.8zM166.5 65.3h1.2v1.2h-1.2zM172.1 58.2h0.9v0.9h-0.9zM168.9 59.5h0.9v0.9h-0.9zM173.1 55.4h1.1v1.1h-1.1zM173.2 56.1h1v1h-1zM171.4 57.3h0.9v0.9h-0.9zM170.5 59.8h0.9v0.9h-0.9zM170.8 55.5h1.1v1.1h-1.1zM177.3 51.3h1v1h-1zM178.6 50.8h1.4v1.4h-1.4zM177 52.4h1.2v1.2h-1.2zM179.4 50.6h1.3v1.3h-1.3zM176.7 51.7h1v1h-1zM186.5 48.6h1v1h-1zM183.9 48.8h1v1h-1zM185 46.6h1.4v1.4h-1.4zM183.7 49.2h1.1v1.1h-1.1zM186.3 46h1.2v1.2h-1.2zM193.1 44.8h1.1v1.1h-1.1zM188.7 43.3h1.2v1.2h-1.2zM191.1 47.2h1.1v1.1h-1.1zM190.4 48.4h0.9v0.9h-0.9zM190.1 44.4h1.4v1.4h-1.4zM188.3 44.7h1.3v1.3h-1.3zM193.8 44.2h0.9v0.9h-0.9zM192.2 46.6h0.8v0.8h-0.8zM193 38.9h1.3v1.3h-1.3zM196.9 39h1v1h-1zM193.9 39.3h1.1v1.1h-1.1zM199.5 35.4h1.3v1.3h-1.3zM195.3 37.8h1.2v1.2h-1.2zM193 40h1.4v1.4h-1.4zM192.3 38.8h0.9v0.9h-0.9zM196.1 34.9h0.9v0.9h-0.9zM195.6 41.3h1.4v1.4h-1.4zM194.2 43h1.4v1.4h-1.4zM194.2 41h1.1v1.1h-1.1zM198.8 35.6h0.8v0.8h-0.8zM195.4 34.7h1.2v1.2h-1.2zM200.8 31.6h1v1h-1zM201.4 31.1h1v1h-1zM199.7 32.4h0.9v0.9h-0.9zM202.6 30.8h0.9v0.9h-0.9zM206.8 29h1.2v1.2h-1.2zM205.9 30.2h1.1v1.1h-1.1zM205.8 28.6h1.3v1.3h-1.3zM203.9 27.1h1.1v1.1h-1.1zM203.5 27.9h0.9v0.9h-0.9zM202.3 32.2h1.1v1.1h-1.1zM207.1 29.2h0.9v0.9h-0.9zM206 28.1h0.9v0.9h-0.9zM201.4 30.3h1.1v1.1h-1.1zM207.6 21.9h1.1v1.1h-1.1zM211.3 19h1.4v1.4h-1.4zM208.4 19.7h0.8v0.8h-0.8zM209.7 23h1.1v1.1h-1.1zM209.8 20.7h1v1h-1zM210.6 23.2h1.2v1.2h-1.2zM205.3 24.3h1v1h-1zM210.6 20.2h1.1v1.1h-1.1zM212.2 21.9h1.3v1.3h-1.3zM209.1 23.6h1.1v1.1h-1.1zM213.2 19.6h1.3v1.3h-1.3zM212.2 21h1.2v1.2h-1.2zM209.2 23.4h1.2v1.2h-1.2zM208 27.5h1v1h-1zM207.2 27.2h1.2v1.2h-1.2zM210.3 17.3h1v1h-1zM210 22.5h1.2v1.2h-1.2zM212.1 16.6h0.8v0.8h-0.8zM214.2 13h1v1h-1zM216.6 10.7h0.9v0.9h-0.9zM215 13.7h1.3v1.3h-1.3zM212 16.5h0.8v0.8h-0.8zM210.5 16.5h1.3v1.3h-1.3zM214.2 16.3h1.1v1.1h-1.1zM213.1 12h1v1h-1zM214.1 17h0.8v0.8h-0.8zM215.8 13h1.2v1.2h-1.2zM215.3 12.4h1.2v1.2h-1.2zM215 17.4h1v1h-1zM214.8 11.3h1v1h-1z" fill="#fff"/>
<path d="M32.3 123.2h0.9v0.9h-0.9zM30.2 122.8h1.1v1.1h-1.1zM38.6 121.3h0.9v0.9h-0.9zM46.5 123.4h1.1v1.1h-1.1zM51.3 120.9h1.1v1.1h-1.1zM56.9 117.3h1.5v1.5h-1.5zM57.2 117.2h1v1h-1zM62.5 113.1h1.1v1.1h-1.1zM65.2 107.4h1.1v1.1h-1.1zM65.9 109.7h1.2v1.2h-1.2zM64.8 103.3h1.3v1.3h-1.3zM66.6 100.9h1v1h-1zM65.9 100.9h1.4v1.4h-1.4zM66.5 93.5h1.3v1.3h-1.3zM65.5 95.1h1.3v1.3h-1.3zM67.9 95.4h1.1v1.1h-1.1zM68.1 93.1h1v1h-1zM68.7 93.9h1v1h-1zM72.4 99.6h1.1v1.1h-1.1zM72.8 103.1h1.5v1.5h-1.5zM73.6 105h1v1h-1zM77 106.8h1.2v1.2h-1.2zM78.9 107.5h1.2v1.2h-1.2zM80.2 106.1h1.4v1.4h-1.4zM86.6 101.9h1.1v1.1h-1.1zM86.2 101.6h1.4v1.4h-1.4zM88.2 100h1.3v1.3h-1.3zM85.3 101.3h1.2v1.2h-1.2zM88.9 99.3h1.1v1.1h-1.1zM93.7 98.6h1.1v1.1h-1.1zM96.3 95.7h1.3v1.3h-1.3zM96.9 96.1h1.4v1.4h-1.4zM111.9 95.5h1.4v1.4h-1.4zM106.4 96.2h1.3v1.3h-1.3zM110.2 97.3h1.2v1.2h-1.2zM114.6 95.9h1.4v1.4h-1.4zM117 94.9h1.2v1.2h-1.2zM118.5 94.4h1v1h-1zM123.8 94.3h1v1h-1zM124.5 94.1h1v1h-1zM127.4 92.2h1.2v1.2h-1.2zM118.7 93.2h1.1v1.1h-1.1zM133.2 88h1.1v1.1h-1.1zM133.5 89.1h1.5v1.5h-1.5zM129.5 90.9h1.4v1.4h-1.4zM129.6 91.1h1.2v1.2h-1.2zM138.2 83.2h1.1v1.1h-1.1zM139.1 82.9h1.1v1.1h-1.1zM140.5 81.1h1.4v1.4h-1.4zM138.9 82.7h1.4v1.4h-1.4zM136.7 85.9h1.1v1.1h-1.1zM140.4 81.7h1v1h-1zM141.8 78.7h1.2v1.2h-1.2zM143.7 77.6h0.9v0.9h-0.9zM145 77.5h1v1h-1zM156.4 72.7h1.1v1.1h-1.1zM149.6 75.1h1.4v1.4h-1.4zM152 73.6h1.3v1.3h-1.3zM150.1 75.4h1.2v1.2h-1.2zM155.9 71.4h0.9v0.9h-0.9zM157.9 72.1h1.2v1.2h-1.2zM161.5 68.6h1.1v1.1h-1.1zM162.3 70.1h1.3v1.3h-1.3zM163 70.1h1.2v1.2h-1.2zM162.3 69.2h1.1v1.1h-1.1zM164.2 68.1h1.4v1.4h-1.4zM165.3 66h1v1h-1zM166.3 66.7h1.2v1.2h-1.2zM166.1 65.6h1.4v1.4h-1.4zM169.1 62.7h1.2v1.2h-1.2zM170.5 62.7h0.9v0.9h-0.9zM172.1 58h0.9v0.9h-0.9zM173.9 55.8h1.2v1.2h-1.2zM172.3 56.3h1.5v1.5h-1.5zM173.2 56h1v1h-1zM178.9 51.5h1.3v1.3h-1.3zM174.4 54.2h1.4v1.4h-1.4zM178.2 52.3h1.3v1.3h-1.3zM177.7 54h1.5v1.5h-1.5zM186.5 49.1h1.4v1.4h-1.4zM184.5 50.2h1.3v1.3h-1.3zM185.8 48h1.2v1.2h-1.2zM185.2 50.5h1.1v1.1h-1.1zM187.4 49.8h1.1v1.1h-1.1zM186 50h1.4v1.4h-1.4zM187.6 48.7h1.2v1.2h-1.2zM190.4 46.7h1.1v1.1h-1.1zM193.8 45.4h1.4v1.4h-1.4zM192.5 43.3h0.9v0.9h-0.9zM190.9 48.1h1.3v1.3h-1.3zM195.9 40.8h1v1h-1zM198.9 35.6h0.9v0.9h-0.9zM194 39.3h1.2v1.2h-1.2zM198 40.2h1.2v1.2h-1.2zM196.4 42h1v1h-1zM196.3 40.1h1.5v1.5h-1.5zM197.4 36.1h1v1h-1zM195.8 37.4h1.2v1.2h-1.2zM206 32.1h1.1v1.1h-1.1zM202.4 33.5h1.4v1.4h-1.4zM201.2 34h1.2v1.2h-1.2zM206 28.4h1v1h-1zM207.8 29.9h1.4v1.4h-1.4zM204.3 30.2h1.1v1.1h-1.1zM206.2 30.4h1.2v1.2h-1.2zM206.3 29h1.1v1.1h-1.1zM214.2 21h1.3v1.3h-1.3zM210 20.8h1.1v1.1h-1.1zM208.6 26.7h1.3v1.3h-1.3zM208.9 23.9h1.1v1.1h-1.1zM209.6 24.8h1.4v1.4h-1.4zM209.3 23.5h1v1h-1zM209.2 24.5h1.3v1.3h-1.3zM209.9 22.5h1.3v1.3h-1.3zM212.7 16.7h1.1v1.1h-1.1zM217.6 14.4h1.4v1.4h-1.4zM214.4 10.2h1.1v1.1h-1.1zM216.6 13h1.2v1.2h-1.2zM212.7 15.7h1.5v1.5h-1.5zM217.7 15.5h1v1h-1z" fill="#b1ebc9"/>
<path d="M79.0 13.1V138.8M126.5 13.1V138.8M174.1 13.1V138.8M31.4 113.7H221.7M31.4 88.5H221.7M31.4 63.4H221.7M31.4 38.2H221.7" stroke="#888" stroke-width="0.5" stroke-dasharray="5.5 3" fill="none" opacity="0.75"/>
</g>
<path d="M195.8 36.6l1.4 4.1l4.3 0l-3.5 2.6l1.3 4.2l-3.5 -2.5l-3.5 2.5l1.3 -4.2l-3.5 -2.6l4.3 0zM186.2 48.4l1.4 4.1l4.3 0l-3.5 2.6l1.3 4.2l-3.5 -2.5l-3.5 2.5l1.3 -4.2l-3.5 -2.6l4.3 0zM175.9 55.8l1.4 4.1l4.3 0l-3.5 2.6l1.3 4.2l-3.5 -2.6l-3.5 2.6l1.3 -4.2l-3.5 -2.6l4.3 0zM156.6 69.9l1.4 4.1l4.3 0l-3.5 2.6l1.3 4.2l-3.5 -2.6l-3.5 2.6l1.3 -4.2l-3.5 -2.6l4.3 0zM140.3 80.7l1.4 4.1l4.3 0l-3.5 2.6l1.3 4.2l-3.5 -2.6l-3.5 2.6l1.3 -4.2l-3.5 -2.6l4.3 0zM120.3 88.9l1.4 4.1l4.3 0l-3.5 2.6l1.3 4.2l-3.5 -2.6l-3.5 2.6l1.3 -4.2l-3.5 -2.6l4.3 0zM101 97.4l1.4 4.1l4.3 0l-3.5 2.6l1.3 4.2l-3.5 -2.5l-3.5 2.5l1.3 -4.2l-3.5 -2.6l4.3 0zM77.1 101.3l1.4 4.1l4.3 0l-3.5 2.6l1.3 4.2l-3.5 -2.6l-3.5 2.6l1.3 -4.2l-3.5 -2.6l4.3 0zM57.4 113.9l1.4 4.1l4.3 0l-3.5 2.6l1.3 4.2l-3.5 -2.6l-3.5 2.6l1.3 -4.2l-3.5 -2.6l4.3 0z" fill="#ff0a14"/>
<text x="204.3" y="51.2" font-size="8" fill="#ff2c2c" class="r" text-anchor="middle">S1</text>
<text x="194.9" y="63.9" font-size="8" fill="#ff2c2c" class="r" text-anchor="middle">S2</text>
<text x="184.7" y="70.9" font-size="8" fill="#ff2c2c" class="r" text-anchor="middle">S3</text>
<text x="165.6" y="84.9" font-size="8" fill="#ff2c2c" class="r" text-anchor="middle">S4</text>
<text x="149.6" y="95.1" font-size="8" fill="#ff2c2c" class="r" text-anchor="middle">S5</text>
<text x="129.8" y="103.8" font-size="8" fill="#ff2c2c" class="r" text-anchor="middle">S6</text>
<text x="109.4" y="112.2" font-size="8" fill="#ff2c2c" class="r" text-anchor="middle">S7</text>
<text x="86.5" y="116.0" font-size="8" fill="#ff2c2c" class="r" text-anchor="middle">S8</text>
<text x="66.7" y="129.2" font-size="8" fill="#ff2c2c" class="r" text-anchor="middle">S9</text>
<rect x="31.4" y="13.1" width="190.3" height="125.7" fill="none" stroke="#444" stroke-width="0.9"/>
<text x="31.4" y="150.2" text-anchor="middle" font-size="9.4">112<tspan dy="-3.2" font-size="6.8">o</tspan><tspan dy="3.2">E</tspan></text>
<text x="79.0" y="150.2" text-anchor="middle" font-size="9.4">114<tspan dy="-3.2" font-size="6.8">o</tspan><tspan dy="3.2">E</tspan></text>
<text x="126.5" y="150.2" text-anchor="middle" font-size="9.4">116<tspan dy="-3.2" font-size="6.8">o</tspan><tspan dy="3.2">E</tspan></text>
<text x="174.1" y="150.2" text-anchor="middle" font-size="9.4">118<tspan dy="-3.2" font-size="6.8">o</tspan><tspan dy="3.2">E</tspan></text>
<text x="221.7" y="150.2" text-anchor="middle" font-size="9.4">120<tspan dy="-3.2" font-size="6.8">o</tspan><tspan dy="3.2">E</tspan></text>
<text x="30.0" y="143.8" text-anchor="end" font-size="9.4">21<tspan dy="-3.2" font-size="6.8">o</tspan><tspan dy="3.2">N</tspan></text>
<text x="30.0" y="118.7" text-anchor="end" font-size="9.4">22<tspan dy="-3.2" font-size="6.8">o</tspan><tspan dy="3.2">N</tspan></text>
<text x="30.0" y="93.5" text-anchor="end" font-size="9.4">23<tspan dy="-3.2" font-size="6.8">o</tspan><tspan dy="3.2">N</tspan></text>
<text x="30.0" y="68.4" text-anchor="end" font-size="9.4">24<tspan dy="-3.2" font-size="6.8">o</tspan><tspan dy="3.2">N</tspan></text>
<text x="30.0" y="43.2" text-anchor="end" font-size="9.4">25<tspan dy="-3.2" font-size="6.8">o</tspan><tspan dy="3.2">N</tspan></text>
<text x="30.0" y="18.1" text-anchor="end" font-size="9.4">26<tspan dy="-3.2" font-size="6.8">o</tspan><tspan dy="3.2">N</tspan></text>
<path d="M31.4 138.8v-1.8M31.4 13.1v1.8M79.0 138.8v-1.8M79.0 13.1v1.8M126.5 138.8v-1.8M126.5 13.1v1.8M174.1 138.8v-1.8M174.1 13.1v1.8M221.7 138.8v-1.8M221.7 13.1v1.8M31.4 138.8h1.8M221.7 138.8h-1.8M31.4 113.7h1.8M221.7 113.7h-1.8M31.4 88.5h1.8M221.7 88.5h-1.8M31.4 63.4h1.8M221.7 63.4h-1.8M31.4 38.2h1.8M221.7 38.2h-1.8M31.4 13.1h1.8M221.7 13.1h-1.8" stroke="#333" stroke-width="0.7" fill="none"/>
<text x="36.2" y="22.4" font-size="6.6" font-weight="bold" fill="#111">(a)</text>
<g transform="translate(345.30,13.40) scale(0.99187,1.00079)" clip-path="url(#cl)"><use href="#fld_b"/><use href="#land"/><use href="#track"/></g>
<path d="M345.3 13.4H504.0V139.5" fill="none" stroke="#666" stroke-width="0.55"/>
<path d="M345.3 13.4V139.5H504.0" fill="none" stroke="#2a2a2a" stroke-width="0.8"/>
<text x="361.2" y="151.1" text-anchor="middle" font-size="9.0">112<tspan dy="-3.2" font-size="6.5">o</tspan><tspan dy="3.2">E</tspan></text>
<text x="392.9" y="151.1" text-anchor="middle" font-size="9.0">116<tspan dy="-3.2" font-size="6.5">o</tspan><tspan dy="3.2">E</tspan></text>
<text x="424.6" y="151.1" text-anchor="middle" font-size="9.0">120<tspan dy="-3.2" font-size="6.5">o</tspan><tspan dy="3.2">E</tspan></text>
<text x="456.4" y="151.1" text-anchor="middle" font-size="9.0">124<tspan dy="-3.2" font-size="6.5">o</tspan><tspan dy="3.2">E</tspan></text>
<text x="488.1" y="151.1" text-anchor="middle" font-size="9.0">128<tspan dy="-3.2" font-size="6.5">o</tspan><tspan dy="3.2">E</tspan></text>
<text x="342.9" y="143.8" text-anchor="end" font-size="9.0">15<tspan dy="-3.2" font-size="6.5">o</tspan><tspan dy="3.2">N</tspan></text>
<text x="342.9" y="118.6" text-anchor="end" font-size="9.0">18<tspan dy="-3.2" font-size="6.5">o</tspan><tspan dy="3.2">N</tspan></text>
<text x="342.9" y="93.4" text-anchor="end" font-size="9.0">21<tspan dy="-3.2" font-size="6.5">o</tspan><tspan dy="3.2">N</tspan></text>
<text x="342.9" y="68.1" text-anchor="end" font-size="9.0">24<tspan dy="-3.2" font-size="6.5">o</tspan><tspan dy="3.2">N</tspan></text>
<text x="342.9" y="42.9" text-anchor="end" font-size="9.0">27<tspan dy="-3.2" font-size="6.5">o</tspan><tspan dy="3.2">N</tspan></text>
<text x="342.9" y="17.7" text-anchor="end" font-size="9.0">30<tspan dy="-3.2" font-size="6.5">o</tspan><tspan dy="3.2">N</tspan></text>
<path d="M361.2 139.5v-1.8M361.2 13.4v1.8M392.9 139.5v-1.8M392.9 13.4v1.8M424.6 139.5v-1.8M424.6 13.4v1.8M456.4 139.5v-1.8M456.4 13.4v1.8M488.1 139.5v-1.8M488.1 13.4v1.8M345.3 139.5h1.8M504.0 139.5h-1.8M345.3 114.3h1.8M504.0 114.3h-1.8M345.3 89.1h1.8M504.0 89.1h-1.8M345.3 63.8h1.8M504.0 63.8h-1.8M345.3 38.6h1.8M504.0 38.6h-1.8M345.3 13.4h1.8M504.0 13.4h-1.8" stroke="#222" stroke-width="0.7" fill="none"/>
<text x="424.6" y="10.0" text-anchor="middle" font-size="9.5" fill="#1a1a1a">WRF-ROMS</text>
<text x="347.5" y="21.0" font-size="6.6" fill="#111">(b)</text>
<text x="346.7" y="33.4" font-size="7" fill="#ff1414" class="r">Maximum storm surge</text>
<text x="346.7" y="43.1" font-size="7" fill="#ff1414" class="r">= 2.56m</text>
<rect x="511.8" y="13.4" width="14.2" height="125.5" fill="url(#jet)" stroke="#d8d8d8" stroke-width="0.4"/>
<text x="529.8" y="143.3" font-size="8" fill="#3c3c3c" class="g">0m</text>
<text x="529.8" y="118.1" font-size="8" fill="#3c3c3c" class="g">0.5m</text>
<text x="529.8" y="92.9" font-size="8" fill="#3c3c3c" class="g">1m</text>
<text x="529.8" y="67.6" font-size="8" fill="#3c3c3c" class="g">1.5m</text>
<text x="529.8" y="42.4" font-size="8" fill="#3c3c3c" class="g">2m</text>
<text x="529.8" y="17.2" font-size="8" fill="#3c3c3c" class="g">2.5m</text>
<g transform="translate(27.40,188.80) scale(1.00000,0.99444)" clip-path="url(#cl)"><use href="#fld_c"/><use href="#land"/><use href="#track"/></g>
<path d="M27.4 188.8H187.4V314.1" fill="none" stroke="#666" stroke-width="0.55"/>
<path d="M27.4 188.8V314.1H187.4" fill="none" stroke="#2a2a2a" stroke-width="0.8"/>
<text x="43.4" y="325.7" text-anchor="middle" font-size="9.0">112<tspan dy="-3.2" font-size="6.5">o</tspan><tspan dy="3.2">E</tspan></text>
<text x="75.4" y="325.7" text-anchor="middle" font-size="9.0">116<tspan dy="-3.2" font-size="6.5">o</tspan><tspan dy="3.2">E</tspan></text>
<text x="107.4" y="325.7" text-anchor="middle" font-size="9.0">120<tspan dy="-3.2" font-size="6.5">o</tspan><tspan dy="3.2">E</tspan></text>
<text x="139.4" y="325.7" text-anchor="middle" font-size="9.0">124<tspan dy="-3.2" font-size="6.5">o</tspan><tspan dy="3.2">E</tspan></text>
<text x="171.4" y="325.7" text-anchor="middle" font-size="9.0">128<tspan dy="-3.2" font-size="6.5">o</tspan><tspan dy="3.2">E</tspan></text>
<text x="25.0" y="318.4" text-anchor="end" font-size="9.0">15<tspan dy="-3.2" font-size="6.5">o</tspan><tspan dy="3.2">N</tspan></text>
<text x="25.0" y="293.3" text-anchor="end" font-size="9.0">18<tspan dy="-3.2" font-size="6.5">o</tspan><tspan dy="3.2">N</tspan></text>
<text x="25.0" y="268.3" text-anchor="end" font-size="9.0">21<tspan dy="-3.2" font-size="6.5">o</tspan><tspan dy="3.2">N</tspan></text>
<text x="25.0" y="243.2" text-anchor="end" font-size="9.0">24<tspan dy="-3.2" font-size="6.5">o</tspan><tspan dy="3.2">N</tspan></text>
<text x="25.0" y="218.2" text-anchor="end" font-size="9.0">27<tspan dy="-3.2" font-size="6.5">o</tspan><tspan dy="3.2">N</tspan></text>
<text x="25.0" y="193.1" text-anchor="end" font-size="9.0">30<tspan dy="-3.2" font-size="6.5">o</tspan><tspan dy="3.2">N</tspan></text>
<path d="M43.4 314.1v-1.8M43.4 188.8v1.8M75.4 314.1v-1.8M75.4 188.8v1.8M107.4 314.1v-1.8M107.4 188.8v1.8M139.4 314.1v-1.8M139.4 188.8v1.8M171.4 314.1v-1.8M171.4 188.8v1.8M27.4 314.1h1.8M187.4 314.1h-1.8M27.4 289.0h1.8M187.4 289.0h-1.8M27.4 264.0h1.8M187.4 264.0h-1.8M27.4 238.9h1.8M187.4 238.9h-1.8M27.4 213.9h1.8M187.4 213.9h-1.8M27.4 188.8h1.8M187.4 188.8h-1.8" stroke="#222" stroke-width="0.7" fill="none"/>
<text x="107.4" y="185.4" text-anchor="middle" font-size="9.5" fill="#1a1a1a">WRF-ROMS-SWAN1</text>
<text x="29.6" y="196.4" font-size="6.6" fill="#111">(c)</text>
<text x="28.8" y="208.8" font-size="7" fill="#ff1414" class="r">Maximum storm surge</text>
<text x="28.8" y="218.5" font-size="7" fill="#ff1414" class="r">= 2.44m</text>
<rect x="195.0" y="188.8" width="14.2" height="124.7" fill="url(#jet)" stroke="#d8d8d8" stroke-width="0.4"/>
<text x="213.0" y="317.9" font-size="8" fill="#3c3c3c" class="g">0m</text>
<text x="213.0" y="292.8" font-size="8" fill="#3c3c3c" class="g">0.5m</text>
<text x="213.0" y="267.8" font-size="8" fill="#3c3c3c" class="g">1m</text>
<text x="213.0" y="242.7" font-size="8" fill="#3c3c3c" class="g">1.5m</text>
<text x="213.0" y="217.7" font-size="8" fill="#3c3c3c" class="g">2m</text>
<text x="213.0" y="192.6" font-size="8" fill="#3c3c3c" class="g">2.5m</text>
<g transform="translate(345.30,188.80) scale(0.99187,0.99444)" clip-path="url(#cl)"><use href="#fld_d"/><use href="#land"/><use href="#track"/></g>
<path d="M345.3 188.8H504.0V314.1" fill="none" stroke="#666" stroke-width="0.55"/>
<path d="M345.3 188.8V314.1H504.0" fill="none" stroke="#2a2a2a" stroke-width="0.8"/>
<text x="361.2" y="325.7" text-anchor="middle" font-size="9.0">112<tspan dy="-3.2" font-size="6.5">o</tspan><tspan dy="3.2">E</tspan></text>
<text x="392.9" y="325.7" text-anchor="middle" font-size="9.0">116<tspan dy="-3.2" font-size="6.5">o</tspan><tspan dy="3.2">E</tspan></text>
<text x="424.6" y="325.7" text-anchor="middle" font-size="9.0">120<tspan dy="-3.2" font-size="6.5">o</tspan><tspan dy="3.2">E</tspan></text>
<text x="456.4" y="325.7" text-anchor="middle" font-size="9.0">124<tspan dy="-3.2" font-size="6.5">o</tspan><tspan dy="3.2">E</tspan></text>
<text x="488.1" y="325.7" text-anchor="middle" font-size="9.0">128<tspan dy="-3.2" font-size="6.5">o</tspan><tspan dy="3.2">E</tspan></text>
<text x="342.9" y="318.4" text-anchor="end" font-size="9.0">15<tspan dy="-3.2" font-size="6.5">o</tspan><tspan dy="3.2">N</tspan></text>
<text x="342.9" y="293.3" text-anchor="end" font-size="9.0">18<tspan dy="-3.2" font-size="6.5">o</tspan><tspan dy="3.2">N</tspan></text>
<text x="342.9" y="268.3" text-anchor="end" font-size="9.0">21<tspan dy="-3.2" font-size="6.5">o</tspan><tspan dy="3.2">N</tspan></text>
<text x="342.9" y="243.2" text-anchor="end" font-size="9.0">24<tspan dy="-3.2" font-size="6.5">o</tspan><tspan dy="3.2">N</tspan></text>
<text x="342.9" y="218.2" text-anchor="end" font-size="9.0">27<tspan dy="-3.2" font-size="6.5">o</tspan><tspan dy="3.2">N</tspan></text>
<text x="342.9" y="193.1" text-anchor="end" font-size="9.0">30<tspan dy="-3.2" font-size="6.5">o</tspan><tspan dy="3.2">N</tspan></text>
<path d="M361.2 314.1v-1.8M361.2 188.8v1.8M392.9 314.1v-1.8M392.9 188.8v1.8M424.6 314.1v-1.8M424.6 188.8v1.8M456.4 314.1v-1.8M456.4 188.8v1.8M488.1 314.1v-1.8M488.1 188.8v1.8M345.3 314.1h1.8M504.0 314.1h-1.8M345.3 289.0h1.8M504.0 289.0h-1.8M345.3 264.0h1.8M504.0 264.0h-1.8M345.3 238.9h1.8M504.0 238.9h-1.8M345.3 213.9h1.8M504.0 213.9h-1.8M345.3 188.8h1.8M504.0 188.8h-1.8" stroke="#222" stroke-width="0.7" fill="none"/>
<text x="424.6" y="185.4" text-anchor="middle" font-size="9.5" fill="#1a1a1a">WRF-ROMS-SWAN2</text>
<text x="347.5" y="196.4" font-size="6.6" fill="#111">(d)</text>
<text x="346.7" y="208.8" font-size="7" fill="#ff1414" class="r">Maximum storm surge</text>
<text x="346.7" y="218.5" font-size="7" fill="#ff1414" class="r">= 2.55m</text>
<rect x="511.8" y="188.8" width="14.2" height="124.7" fill="url(#jet)" stroke="#d8d8d8" stroke-width="0.4"/>
<text x="529.8" y="317.9" font-size="8" fill="#3c3c3c" class="g">0m</text>
<text x="529.8" y="292.8" font-size="8" fill="#3c3c3c" class="g">0.5m</text>
<text x="529.8" y="267.8" font-size="8" fill="#3c3c3c" class="g">1m</text>
<text x="529.8" y="242.7" font-size="8" fill="#3c3c3c" class="g">1.5m</text>
<text x="529.8" y="217.7" font-size="8" fill="#3c3c3c" class="g">2m</text>
<text x="529.8" y="192.6" font-size="8" fill="#3c3c3c" class="g">2.5m</text>
<g transform="translate(27.40,363.50) scale(1.00000,0.99683)" clip-path="url(#cl)"><use href="#fld_e"/><use href="#land"/><use href="#track"/></g>
<path d="M27.4 363.5H187.4V489.1" fill="none" stroke="#666" stroke-width="0.55"/>
<path d="M27.4 363.5V489.1H187.4" fill="none" stroke="#2a2a2a" stroke-width="0.8"/>
<text x="43.4" y="500.7" text-anchor="middle" font-size="9.0">112<tspan dy="-3.2" font-size="6.5">o</tspan><tspan dy="3.2">E</tspan></text>
<text x="75.4" y="500.7" text-anchor="middle" font-size="9.0">116<tspan dy="-3.2" font-size="6.5">o</tspan><tspan dy="3.2">E</tspan></text>
<text x="107.4" y="500.7" text-anchor="middle" font-size="9.0">120<tspan dy="-3.2" font-size="6.5">o</tspan><tspan dy="3.2">E</tspan></text>
<text x="139.4" y="500.7" text-anchor="middle" font-size="9.0">124<tspan dy="-3.2" font-size="6.5">o</tspan><tspan dy="3.2">E</tspan></text>
<text x="171.4" y="500.7" text-anchor="middle" font-size="9.0">128<tspan dy="-3.2" font-size="6.5">o</tspan><tspan dy="3.2">E</tspan></text>
<text x="25.0" y="493.4" text-anchor="end" font-size="9.0">15<tspan dy="-3.2" font-size="6.5">o</tspan><tspan dy="3.2">N</tspan></text>
<text x="25.0" y="468.3" text-anchor="end" font-size="9.0">18<tspan dy="-3.2" font-size="6.5">o</tspan><tspan dy="3.2">N</tspan></text>
<text x="25.0" y="443.2" text-anchor="end" font-size="9.0">21<tspan dy="-3.2" font-size="6.5">o</tspan><tspan dy="3.2">N</tspan></text>
<text x="25.0" y="418.0" text-anchor="end" font-size="9.0">24<tspan dy="-3.2" font-size="6.5">o</tspan><tspan dy="3.2">N</tspan></text>
<text x="25.0" y="392.9" text-anchor="end" font-size="9.0">27<tspan dy="-3.2" font-size="6.5">o</tspan><tspan dy="3.2">N</tspan></text>
<text x="25.0" y="367.8" text-anchor="end" font-size="9.0">30<tspan dy="-3.2" font-size="6.5">o</tspan><tspan dy="3.2">N</tspan></text>
<path d="M43.4 489.1v-1.8M43.4 363.5v1.8M75.4 489.1v-1.8M75.4 363.5v1.8M107.4 489.1v-1.8M107.4 363.5v1.8M139.4 489.1v-1.8M139.4 363.5v1.8M171.4 489.1v-1.8M171.4 363.5v1.8M27.4 489.1h1.8M187.4 489.1h-1.8M27.4 464.0h1.8M187.4 464.0h-1.8M27.4 438.9h1.8M187.4 438.9h-1.8M27.4 413.7h1.8M187.4 413.7h-1.8M27.4 388.6h1.8M187.4 388.6h-1.8M27.4 363.5h1.8M187.4 363.5h-1.8" stroke="#222" stroke-width="0.7" fill="none"/>
<text x="107.4" y="360.1" text-anchor="middle" font-size="9.5" fill="#1a1a1a">WRF-ROMS-SWAN3</text>
<text x="29.6" y="371.1" font-size="6.6" fill="#111">(e)</text>
<text x="28.8" y="383.5" font-size="7" fill="#ff1414" class="r">Maximum storm surge</text>
<text x="28.8" y="393.2" font-size="7" fill="#ff1414" class="r">= 2.78m</text>
<rect x="195.0" y="363.5" width="14.2" height="125.0" fill="url(#jet)" stroke="#d8d8d8" stroke-width="0.4"/>
<text x="213.0" y="492.9" font-size="8" fill="#3c3c3c" class="g">0m</text>
<text x="213.0" y="467.8" font-size="8" fill="#3c3c3c" class="g">0.5m</text>
<text x="213.0" y="442.7" font-size="8" fill="#3c3c3c" class="g">1m</text>
<text x="213.0" y="417.5" font-size="8" fill="#3c3c3c" class="g">1.5m</text>
<text x="213.0" y="392.4" font-size="8" fill="#3c3c3c" class="g">2m</text>
<text x="213.0" y="367.3" font-size="8" fill="#3c3c3c" class="g">2.5m</text>
<g transform="translate(345.30,363.50) scale(0.99187,0.99683)" clip-path="url(#cl)"><use href="#fld_f"/><use href="#land"/><use href="#track"/></g>
<path d="M345.3 363.5H504.0V489.1" fill="none" stroke="#666" stroke-width="0.55"/>
<path d="M345.3 363.5V489.1H504.0" fill="none" stroke="#2a2a2a" stroke-width="0.8"/>
<text x="361.2" y="500.7" text-anchor="middle" font-size="9.0">112<tspan dy="-3.2" font-size="6.5">o</tspan><tspan dy="3.2">E</tspan></text>
<text x="392.9" y="500.7" text-anchor="middle" font-size="9.0">116<tspan dy="-3.2" font-size="6.5">o</tspan><tspan dy="3.2">E</tspan></text>
<text x="424.6" y="500.7" text-anchor="middle" font-size="9.0">120<tspan dy="-3.2" font-size="6.5">o</tspan><tspan dy="3.2">E</tspan></text>
<text x="456.4" y="500.7" text-anchor="middle" font-size="9.0">124<tspan dy="-3.2" font-size="6.5">o</tspan><tspan dy="3.2">E</tspan></text>
<text x="488.1" y="500.7" text-anchor="middle" font-size="9.0">128<tspan dy="-3.2" font-size="6.5">o</tspan><tspan dy="3.2">E</tspan></text>
<text x="342.9" y="493.4" text-anchor="end" font-size="9.0">15<tspan dy="-3.2" font-size="6.5">o</tspan><tspan dy="3.2">N</tspan></text>
<text x="342.9" y="468.3" text-anchor="end" font-size="9.0">18<tspan dy="-3.2" font-size="6.5">o</tspan><tspan dy="3.2">N</tspan></text>
<text x="342.9" y="443.2" text-anchor="end" font-size="9.0">21<tspan dy="-3.2" font-size="6.5">o</tspan><tspan dy="3.2">N</tspan></text>
<text x="342.9" y="418.0" text-anchor="end" font-size="9.0">24<tspan dy="-3.2" font-size="6.5">o</tspan><tspan dy="3.2">N</tspan></text>
<text x="342.9" y="392.9" text-anchor="end" font-size="9.0">27<tspan dy="-3.2" font-size="6.5">o</tspan><tspan dy="3.2">N</tspan></text>
<text x="342.9" y="367.8" text-anchor="end" font-size="9.0">30<tspan dy="-3.2" font-size="6.5">o</tspan><tspan dy="3.2">N</tspan></text>
<path d="M361.2 489.1v-1.8M361.2 363.5v1.8M392.9 489.1v-1.8M392.9 363.5v1.8M424.6 489.1v-1.8M424.6 363.5v1.8M456.4 489.1v-1.8M456.4 363.5v1.8M488.1 489.1v-1.8M488.1 363.5v1.8M345.3 489.1h1.8M504.0 489.1h-1.8M345.3 464.0h1.8M504.0 464.0h-1.8M345.3 438.9h1.8M504.0 438.9h-1.8M345.3 413.7h1.8M504.0 413.7h-1.8M345.3 388.6h1.8M504.0 388.6h-1.8M345.3 363.5h1.8M504.0 363.5h-1.8" stroke="#222" stroke-width="0.7" fill="none"/>
<text x="424.6" y="360.1" text-anchor="middle" font-size="9.5" fill="#1a1a1a">WRF-ROMS-SWAN4</text>
<text x="347.5" y="371.1" font-size="6.6" fill="#111">(f)</text>
<text x="346.7" y="383.5" font-size="7" fill="#ff1414" class="r">Maximum storm surge</text>
<text x="346.7" y="393.2" font-size="7" fill="#ff1414" class="r">= 2.68m</text>
<rect x="511.8" y="363.5" width="14.2" height="125.0" fill="url(#jet)" stroke="#d8d8d8" stroke-width="0.4"/>
<text x="529.8" y="492.9" font-size="8" fill="#3c3c3c" class="g">0m</text>
<text x="529.8" y="467.8" font-size="8" fill="#3c3c3c" class="g">0.5m</text>
<text x="529.8" y="442.7" font-size="8" fill="#3c3c3c" class="g">1m</text>
<text x="529.8" y="417.5" font-size="8" fill="#3c3c3c" class="g">1.5m</text>
<text x="529.8" y="392.4" font-size="8" fill="#3c3c3c" class="g">2m</text>
<text x="529.8" y="367.3" font-size="8" fill="#3c3c3c" class="g">2.5m</text>
</svg>
</body></html>
